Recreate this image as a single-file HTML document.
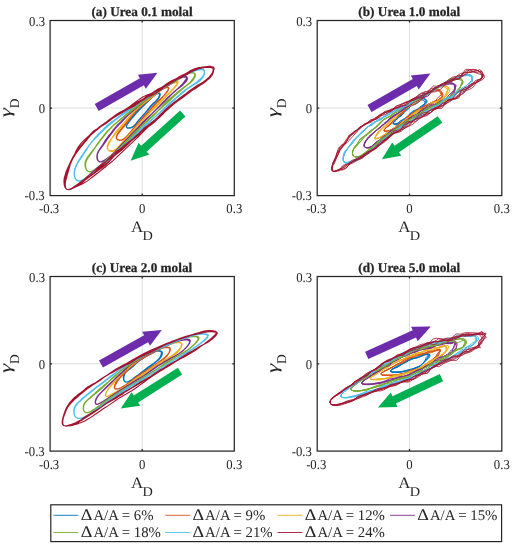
<!DOCTYPE html>
<html lang="en"><head><meta charset="utf-8"><title>Figure</title>
<style>html,body{margin:0;padding:0;background:#fff}svg{display:block}svg text{font-family:"Liberation Serif",serif;text-rendering:geometricPrecision}</style></head>
<body>
<svg width="513" height="550" viewBox="0 0 513 550" fill="#262626">
<rect width="513" height="550" fill="#fff"/>
<g stroke="#dcdcdc" stroke-width="1" fill="none"><line x1="142.20" y1="20.5" x2="142.20" y2="195.6"/><line x1="50.1" y1="108.05" x2="234.3" y2="108.05"/></g>
<g fill="none" stroke-width="1.3" stroke-linejoin="round">
<path stroke="#0072BD" d="M126.3,127.3l0-1.2 0.4-1.4 0.7-1.5 0.9-1.5 1-1.3 1-1.3 1-1.2 1.1-1.2 1-1.3 1.1-1.3 1.1-1.3 1.2-1.3 1.1-1.3 1.2-1.2 1.1-1.2 1.2-1.2 1.2-1.2 1.3-1.1 1.2-1.1 1.3-1.1 1.3-1.2 1.3-1.1 1.3-1.2 1.3-1.3 1.3-1.2 1.4-1.1 1.4-0.9 1.6-0.8 1.3-0.4 1,0.2 0.5,0.7 0,1.2 -0.5,1.5 -0.8,1.5 -1,1.5 -1.1,1.3 -1.2,1.2 -1.2,1.1 -1.2,1.1 -1.2,1.2 -1.1,1.2 -1.1,1.2 -1,1.3 -1.1,1.3 -1.1,1.2 -1.1,1.3 -1.1,1.3 -1.2,1.2 -1.2,1.2 -1.1,1.2 -1.1,1.3 -1.1,1.2 -1.1,1.3 -1,1.3 -1,1.4 -1.1,1.2 -1.4,1.1 -1.5,0.8 -1.7,0.5 -1.5,0.2 -1.2-0.2 -0.8-0.6 M126.3,127.3l0-1.1 0.6-1.3 1-1.6 1.1-1.5 1.2-1.5 1-1.3 1.1-1.3 1.1-1.1 1.1-1.3 1-1.2 1.1-1.2 1.2-1.2 1.1-1.3 1.1-1.2 1.2-1.2 1.1-1.1 1.2-1.1 1.1-1.1 1.1-1.1 1.2-1 1.1-1.1 1.1-1.1 1.2-1.2 1.2-1.2 1.2-1.2 1.3-1.1 1.4-1 1.5-0.8 1.4-0.5 0.9,0.1 0.5,0.6 -0.1,1.1 -0.5,1.4 -0.8,1.5 -1.1,1.4 -1.1,1.2 -1.2,1.2 -1.2,1.1 -1.2,1.1 -1.1,1.2 -1.1,1.2 -1.1,1.3 -1,1.2 -1,1.3 -0.9,1.3 -1.1,1.3 -1,1.3 -1.1,1.3 -1.1,1.3 -1.1,1.2 -1.1,1.3 -1.1,1.3 -1.1,1.3 -1,1.3 -1.1,1.4 -1.1,1.2 -1.4,1 -1.6,0.8 -1.7,0.4 -1.6,0.1 -1.2-0.2 -0.6-0.6 M126.3,127.3l0-1.1 0.6-1.4 0.8-1.5 1-1.5 1-1.4 1-1.4 1-1.3 1.1-1.2 1-1.3 1.1-1.3 1.2-1.4 1.1-1.3 1.2-1.3 1.1-1.3 1.2-1.2 1.2-1.2 1.1-1.1 1.2-1.1 1.2-1.1 1.2-1.1 1.3-1 1.3-1.1 1.3-1.1 1.3-1.2 1.3-1.2 1.3-1.1 1.5-0.9 1.4-0.8 1.3-0.4 1,0.1 0.3,0.7 -0.1,1.2 -0.5,1.4 -0.8,1.6 -1,1.4 -1.1,1.3 -1.2,1.1 -1.3,1.1 -1.1,1.1 -1.2,1.2 -1.1,1.2 -1,1.2 -1.1,1.3 -1,1.3 -1.1,1.2 -1,1.3 -1.1,1.2 -1.1,1.2 -1,1.3 -1.1,1.2 -1.1,1.3 -1,1.3 -1,1.3 -1,1.4 -1,1.3 -1.2,1.3 -1.3,1 -1.6,0.8 -1.8,0.5 -1.6,0.2 -1.3-0.2 -0.8-0.5"/>
<path stroke="#D95319" d="M116.8,139l-0.5-1.2 0.2-1.6 0.8-1.8 1.2-1.8 1.3-1.9 1.4-1.8 1.3-1.7 1.3-1.6 1.4-1.6 1.3-1.6 1.4-1.7 1.3-1.6 1.4-1.7 1.3-1.7 1.4-1.7 1.5-1.6 1.4-1.6 1.5-1.5 1.6-1.4 1.5-1.4 1.6-1.3 1.6-1.4 1.6-1.3 1.7-1.3 1.6-1.4 1.7-1.3 1.6-1.4 1.6-1.4 1.7-1.4 1.6-1.4 1.7-1.4 1.8-1.2 1.9-1.1 2-1 1.9-0.6 1.5-0.1 0.8,0.4 0,1.1 -0.8,1.6 -1.2,1.8 -1.6,1.9 -1.6,1.7 -1.6,1.6 -1.5,1.3 -1.4,1.3 -1.3,1.2 -1.3,1.3 -1.3,1.4 -1.3,1.4 -1.4,1.5 -1.4,1.6 -1.5,1.7 -1.5,1.7 -1.4,1.6 -1.5,1.7 -1.4,1.6 -1.4,1.5 -1.4,1.6 -1.3,1.5 -1.4,1.5 -1.4,1.5 -1.3,1.6 -1.4,1.6 -1.4,1.6 -1.3,1.6 -1.4,1.7 -1.4,1.7 -1.5,1.7 -1.7,1.6 -1.8,1.5 -1.8,0.9 -2,0.3 -1.8-0.4 -1.2-0.9 M116.8,139l-0.5-1.4 0.3-1.7 0.8-1.9 1.3-2 1.5-1.9 1.4-1.8 1.4-1.7 1.4-1.6 1.2-1.6 1.2-1.5 1.2-1.5 1.2-1.6 1.2-1.5 1.4-1.5 1.3-1.6 1.5-1.5 1.5-1.6 1.5-1.5 1.5-1.6 1.6-1.5 1.6-1.5 1.6-1.5 1.6-1.4 1.8-1.4 1.7-1.4 1.8-1.4 1.8-1.4 1.7-1.4 1.6-1.4 1.6-1.3 1.6-1.3 1.7-1.2 1.8-1.1 1.9-0.9 1.8-0.6 1.5-0.2 0.8,0.4 0,1 -0.6,1.4 -1,1.8 -1.4,1.9 -1.6,1.8 -1.5,1.7 -1.5,1.6 -1.5,1.5 -1.5,1.4 -1.5,1.5 -1.4,1.5 -1.4,1.6 -1.4,1.5 -1.4,1.6 -1.5,1.6 -1.4,1.6 -1.5,1.5 -1.5,1.5 -1.4,1.5 -1.4,1.5 -1.4,1.5 -1.4,1.5 -1.4,1.6 -1.4,1.7 -1.4,1.6 -1.4,1.7 -1.4,1.7 -1.4,1.7 -1.4,1.8 -1.4,1.7 -1.5,1.6 -1.5,1.4 -1.7,1.3 -1.7,0.8 -2,0.2 -1.8-0.4 -1.2-0.9 M116.8,139l-0.3-1.3 0.4-1.7 1-1.8 1.3-1.8 1.4-1.8 1.3-1.7 1.4-1.6 1.2-1.5 1.3-1.6 1.3-1.6 1.3-1.7 1.2-1.8 1.3-1.7 1.4-1.7 1.3-1.8 1.4-1.7 1.5-1.6 1.5-1.6 1.5-1.6 1.6-1.4 1.5-1.4 1.6-1.4 1.5-1.4 1.6-1.3 1.6-1.4 1.6-1.3 1.6-1.4 1.7-1.3 1.6-1.2 1.6-1.3 1.7-1.3 1.8-1.1 2-1.1 2-0.9 1.9-0.6 1.6-0.2 0.8,0.4 0,1 -0.7,1.5 -1.2,1.7 -1.5,1.8 -1.6,1.8 -1.5,1.6 -1.5,1.5 -1.5,1.4 -1.4,1.3 -1.3,1.4 -1.4,1.4 -1.3,1.5 -1.3,1.6 -1.3,1.6 -1.4,1.6 -1.4,1.7 -1.4,1.6 -1.5,1.7 -1.5,1.5 -1.5,1.5 -1.5,1.5 -1.5,1.5 -1.4,1.6 -1.4,1.5 -1.4,1.5 -1.3,1.6 -1.4,1.5 -1.3,1.6 -1.3,1.6 -1.4,1.6 -1.5,1.7 -1.6,1.6 -1.8,1.4 -1.9,1.1 -2,0.4 -1.9-0.3 -1.2-0.9"/>
<path stroke="#EDB120" d="M108.1,149.8l-0.8-1.5 0-1.8 0.7-2.1 1.2-2.2 1.5-2.3 1.6-2.2 1.6-2.2 1.6-2 1.6-2 1.5-1.9 1.6-1.9 1.5-2 1.5-1.8 1.5-1.8 1.4-1.8 1.5-1.7 1.5-1.7 1.6-1.7 1.6-1.7 1.7-1.8 1.7-1.7 1.8-1.6 1.8-1.6 1.9-1.6 2-1.7 2-1.6 2-1.7 1.9-1.5 2-1.5 1.9-1.4 1.8-1.4 1.9-1.4 1.8-1.4 1.9-1.4 1.9-1.4 2-1.4 2-1.3 2.3-1.2 2.4-1.1 2.3-0.8 2-0.5 1.5-0.1 0.6,0.4 -0.2,1 -1,1.4 -1.5,1.7 -1.7,2 -1.9,2 -1.8,2 -1.7,1.8 -1.6,1.7 -1.6,1.7 -1.5,1.6 -1.5,1.6 -1.6,1.7 -1.5,1.6 -1.7,1.6 -1.7,1.6 -1.8,1.6 -1.9,1.7 -1.9,1.8 -1.8,1.9 -1.8,1.9 -1.6,1.9 -1.7,1.8 -1.5,1.8 -1.6,1.8 -1.6,1.8 -1.6,1.7 -1.6,1.8 -1.7,1.7 -1.7,1.8 -1.7,1.8 -1.7,1.8 -1.7,1.8 -1.7,1.9 -1.6,1.9 -1.6,1.9 -1.6,2 -1.6,2 -1.7,1.8 -2,1.3 -2.2,0.4 -2.3-0.4 -1.6-1.2 M108.1,149.8l-0.7-1.4 0.2-1.8 0.9-2.2 1.3-2.4 1.3-2.6 1.4-2.4 1.4-2.2 1.3-2 1.5-1.8 1.4-1.7 1.5-1.7 1.5-1.6 1.5-1.6 1.6-1.7 1.6-1.8 1.7-1.8 1.6-1.9 1.7-1.9 1.7-1.9 1.7-1.8 1.7-1.8 1.7-1.7 1.8-1.6 1.8-1.5 1.9-1.6 1.9-1.5 2-1.5 2-1.5 2-1.4 2-1.4 2-1.3 1.9-1.4 1.8-1.4 1.9-1.5 2-1.4 2-1.5 2.2-1.4 2.4-1.3 2.5-1.3 2.3-1.1 2-0.7 1.3-0.3 0.7,0.3 -0.3,1 -0.9,1.6 -1.5,1.9 -1.8,2.1 -2,2.1 -2,2 -2,1.9 -1.9,1.7 -1.8,1.8 -1.8,1.7 -1.7,1.7 -1.8,1.7 -1.7,1.6 -1.6,1.7 -1.6,1.7 -1.5,1.7 -1.5,1.8 -1.5,1.8 -1.6,1.8 -1.6,1.8 -1.7,1.8 -1.6,1.7 -1.7,1.7 -1.7,1.8 -1.6,1.8 -1.7,1.8 -1.8,1.9 -1.6,1.9 -1.7,1.8 -1.6,1.8 -1.6,1.8 -1.5,1.6 -1.5,1.7 -1.6,1.7 -1.6,1.8 -1.7,1.9 -1.7,1.9 -1.8,1.8 -2,1.4 -2.2,0.6 -2.3-0.3 -1.6-1 M108.1,149.8l-0.8-1.6 0.1-2.1 0.8-2.4 1.3-2.4 1.6-2.2 1.6-2.1 1.6-2 1.5-1.8 1.5-1.8 1.5-1.7 1.5-1.8 1.5-1.8 1.5-1.9 1.6-1.8 1.6-1.9 1.5-1.9 1.6-2 1.5-1.9 1.5-1.9 1.6-1.7 1.6-1.7 1.8-1.6 1.8-1.6 1.9-1.5 2-1.4 2-1.4 2-1.4 2-1.4 1.9-1.5 1.9-1.4 1.9-1.5 1.8-1.5 1.8-1.5 1.9-1.5 1.9-1.4 2.1-1.4 2.2-1.4 2.3-1.3 2.4-1.2 2.4-1 2-0.6 1.5-0.2 0.7,0.4 -0.2,1.1 -0.9,1.6 -1.5,2 -1.9,2 -2,2.2 -1.9,2 -1.8,1.9 -1.8,1.8 -1.8,1.6 -1.7,1.6 -1.8,1.5 -1.8,1.6 -1.7,1.5 -1.7,1.5 -1.6,1.7 -1.6,1.7 -1.6,1.7 -1.5,1.8 -1.6,1.8 -1.6,1.9 -1.6,1.8 -1.6,1.8 -1.6,1.8 -1.7,1.8 -1.6,1.7 -1.7,1.8 -1.6,1.8 -1.6,1.8 -1.7,1.8 -1.6,1.8 -1.7,1.8 -1.6,1.9 -1.6,1.9 -1.7,1.9 -1.6,1.9 -1.7,1.8 -1.7,1.8 -1.9,1.6 -2,1.3 -2.2,0.5 -2.3-0.2 -1.6-0.9"/>
<path stroke="#7E2F8E" d="M98.4,161.1l-1.1-1.6 -0.4-2.3 0.2-2.6 0.8-2.4 1.4-2.4 1.7-2.3 1.8-2.3 1.7-2.3 1.6-2.3 1.7-2.2 1.6-2.1 1.6-2.2 1.6-2.1 1.6-2.1 1.6-2.1 1.7-2 1.7-2 1.7-2 1.8-1.9 1.9-1.8 2-1.8 1.9-1.8 2-1.7 2-1.8 1.9-1.8 2-1.8 2.1-1.7 2-1.8 2.1-1.6 2.1-1.5 2.1-1.5 2.2-1.4 2.2-1.4 2.2-1.5 2.2-1.5 2.2-1.6 2.2-1.4 2.2-1.4 2.2-1.4 2.2-1.3 2.2-1.3 2.3-1.4 2.4-1.5 2.6-1.5 2.6-1.6 2.6-1.3 2.4-0.8 2-0.1 1.4,0.5 0.3,1.3 -0.7,1.8 -1.6,2 -2,2 -2.2,1.9 -2.3,1.7 -2.1,1.7 -1.9,1.7 -1.9,1.8 -1.8,1.8 -1.8,1.9 -1.9,1.9 -1.9,1.9 -1.9,1.9 -1.9,1.8 -1.9,1.9 -2,1.8 -1.9,1.9 -1.9,1.8 -1.9,1.8 -2,1.7 -1.9,1.8 -1.9,1.8 -1.9,1.9 -1.9,1.9 -1.7,2 -1.8,2 -1.9,2 -1.8,2.1 -1.8,2 -1.9,2.1 -1.8,1.9 -1.8,2 -1.9,1.8 -1.9,1.9 -1.8,1.8 -1.9,1.9 -1.8,2 -1.8,1.9 -1.9,1.9 -2,1.9 -2.1,1.8 -2.4,1.8 -2.4,1.7 -2.2,1.3 -2.1,1 -1.8,0.2 -1.4-0.7 M98.4,161.1l-0.9-1.7 -0.3-2.4 0.2-2.7 0.9-2.5 1.3-2.4 1.5-2.3 1.6-2.3 1.4-2.3 1.4-2.3 1.5-2.1 1.6-2.1 1.5-1.9 1.7-1.9 1.7-1.9 1.8-1.9 1.8-1.9 1.9-1.9 1.8-1.9 1.9-1.9 1.8-2 2-1.9 1.9-2 2-1.9 2.1-1.8 2-1.8 2.1-1.6 2.1-1.7 2.1-1.8 2.1-1.8 2-1.7 2.2-1.8 2.2-1.7 2.2-1.6 2.2-1.5 2.2-1.5 2.1-1.5 2.2-1.4 2.1-1.3 2.2-1.3 2.1-1.3 2.1-1.3 2.2-1.3 2.3-1.5 2.4-1.5 2.5-1.4 2.5-1.3 2.5-0.7 2.1-0.1 1.4,0.5 0.4,1.4 -0.6,1.8 -1.3,2 -1.8,1.9 -2.1,1.8 -2.2,1.7 -2.2,1.7 -2,1.7 -2,1.8 -1.9,1.9 -1.9,1.9 -1.8,2 -1.8,1.9 -1.9,1.9 -1.9,1.9 -2,1.9 -2,1.8 -1.9,1.8 -1.9,1.8 -1.8,1.8 -1.9,1.8 -2,1.9 -2.1,1.9 -2,1.9 -2,2 -1.9,1.9 -1.8,2 -1.8,1.9 -1.8,1.9 -1.8,1.9 -1.9,2 -1.8,2 -1.9,1.9 -1.9,1.9 -1.8,1.8 -1.7,1.9 -1.7,1.9 -1.6,1.9 -1.7,2 -1.7,1.9 -1.9,1.8 -2,1.9 -2.3,1.8 -2.4,1.7 -2.4,1.6 -2.3,0.9 -2,0.2 -1.5-0.8 M98.4,161.1l-1-1.8 -0.3-2.4 0.3-2.7 1-2.5 1.4-2.2 1.7-2.1 1.7-2.2 1.5-2.2 1.6-2.4 1.4-2.3 1.5-2.3 1.4-2.2 1.5-2.1 1.5-2 1.6-2 1.6-1.9 1.8-1.8 1.9-1.8 2-1.9 2-1.8 2-1.9 2.1-1.8 1.9-1.8 2-1.8 1.9-1.7 1.9-1.7 2.1-1.7 2-1.7 2.1-1.8 2.2-1.7 2.1-1.7 2.2-1.6 2.3-1.5 2.2-1.5 2.2-1.5 2.1-1.4 2-1.4 2-1.4 2.1-1.3 2.2-1.4 2.3-1.5 2.5-1.4 2.5-1.6 2.6-1.6 2.6-1.6 2.5-1.3 2.4-0.8 1.9-0.2 1.2,0.5 0.2,1.2 -0.8,1.6 -1.5,2 -1.7,2.1 -2,2 -2,2 -2,2 -2,1.8 -2.1,1.8 -2,1.8 -2,1.7 -2,1.8 -1.8,1.9 -1.9,1.9 -1.8,1.9 -1.9,2 -1.9,1.9 -1.8,1.9 -1.8,1.8 -1.8,1.9 -1.9,1.9 -1.8,1.9 -1.9,1.9 -1.8,1.9 -1.8,1.9 -1.8,2 -1.8,2 -2,2 -2,2 -2,2 -2,2 -2,1.9 -1.8,1.8 -1.9,1.8 -1.8,1.8 -1.8,1.7 -1.7,1.8 -1.7,1.9 -1.7,1.9 -1.8,1.9 -1.9,1.8 -2,1.9 -2.3,1.9 -2.3,1.8 -2.3,1.7 -2.2,1 -2,0.1 -1.6-0.8"/>
<path stroke="#77AC30" d="M87.9,171.3l-1.3-1.4 -0.9-2.2 -0.2-2.7 0.3-2.7 1.1-2.7 1.5-2.4 1.7-2.4 1.7-2.4 1.7-2.4 1.6-2.4 1.7-2.4 1.6-2.4 1.6-2.3 1.7-2.4 1.8-2.3 1.8-2.2 1.9-2.1 1.8-2 2-1.9 2-1.8 2-1.8 2.1-1.8 2.1-1.8 2.1-1.7 2-1.8 2.2-1.8 2.2-1.8 2.3-1.9 2.3-1.9 2.4-1.9 2.4-1.8 2.3-1.8 2.3-1.7 2.3-1.7 2.3-1.7 2.4-1.8 2.3-1.7 2.3-1.7 2.3-1.6 2.3-1.5 2.4-1.3 2.4-1.4 2.4-1.3 2.5-1.4 2.5-1.4 2.5-1.5 2.4-1.5 2.4-1.6 2.5-1.5 2.7-1.5 2.7-1.5 2.8-1.2 2.6-0.7 2.1,0 1.5,0.6 0.5,1.3 -0.5,1.8 -1.2,2.2 -1.7,2.3 -2,2.1 -2.1,1.9 -2.2,1.8 -2.2,1.8 -2.1,1.8 -2.2,1.8 -2.1,1.9 -2.1,2 -2.1,2 -2.2,2.1 -2.2,2 -2.2,2 -2.2,1.9 -2.3,1.9 -2.2,1.9 -2.3,2 -2.2,1.9 -2.1,1.9 -2.1,1.8 -1.9,1.8 -1.9,1.8 -1.8,1.9 -1.8,1.9 -1.8,2.1 -1.9,2.2 -2,2.3 -2,2.2 -2.1,2.2 -2.1,2 -2,1.9 -2.2,1.9 -2.1,1.9 -2.2,1.9 -2.1,1.9 -2.2,1.9 -2,1.9 -2,1.8 -2,1.8 -2,1.8 -2,1.9 -2.1,1.8 -2.3,1.9 -2.4,2.1 -2.5,2.1 -2.5,2 -2.3,1.7 -2.3,1.2 -2,0.4 -1.9-0.4 M87.9,171.3l-1.4-1.4 -1-2.2 -0.3-2.7 0.4-2.9 1.1-2.8 1.6-2.5 1.7-2.4 1.7-2.3 1.7-2.3 1.6-2.3 1.6-2.4 1.7-2.5 1.8-2.5 1.8-2.3 1.9-2.2 1.8-2.2 1.8-2 1.9-2 1.9-2 2.1-1.9 2.2-1.8 2.3-1.9 2.2-1.8 2.2-1.8 2.1-1.8 2.1-1.7 2.1-1.7 2.1-1.6 2.3-1.7 2.3-1.6 2.3-1.7 2.3-1.8 2.3-1.7 2.3-1.8 2.3-1.8 2.4-1.7 2.4-1.7 2.3-1.6 2.4-1.6 2.3-1.6 2.3-1.5 2.3-1.5 2.3-1.4 2.4-1.4 2.4-1.4 2.4-1.4 2.5-1.4 2.6-1.5 2.5-1.6 2.7-1.6 2.6-1.6 2.6-1.3 2.5-0.8 2.2,0 1.7,0.6 0.8,1.3 -0.2,1.9 -1.1,2.2 -1.9,2.3 -2.3,2.2 -2.6,1.9 -2.7,1.8 -2.5,1.8 -2.4,1.8 -2.2,1.8 -2.2,1.9 -2.1,1.8 -2.1,1.7 -2,1.7 -1.9,1.7 -1.8,1.9 -1.9,2 -1.9,2.1 -2,2 -2,2 -2.1,2 -2,2 -2.1,2 -2.1,2.1 -2.3,2.1 -2.2,2 -2.2,1.9 -2.1,1.9 -1.9,1.8 -2,1.9 -1.9,2 -2,2 -2,2.1 -2.1,2.1 -2,2 -2,2 -2,2 -1.9,2 -1.9,2.1 -1.9,2.1 -1.9,2 -2.1,1.9 -2.1,1.8 -2.3,1.8 -2.2,1.8 -2.3,1.8 -2.3,2.1 -2.4,2.2 -2.5,2 -2.5,1.7 -2.3,1.1 -2.1,0.4 -1.9-0.5 M87.9,171.3l-1.5-1.5 -1-2.3 -0.4-2.8 0.3-2.9 1.1-2.6 1.6-2.5 1.8-2.4 1.8-2.4 1.8-2.3 1.8-2.3 1.8-2.3 1.7-2.3 1.7-2.3 1.7-2.1 1.7-2.2 1.7-2.1 1.8-2.1 1.9-2.1 1.9-2.1 2-2 2.1-1.9 2-1.8 2.1-1.7 2.1-1.8 2.1-1.8 2.1-1.8 2.2-2 2.2-1.9 2.3-1.9 2.3-1.9 2.3-1.8 2.5-1.7 2.4-1.7 2.5-1.6 2.4-1.6 2.4-1.6 2.3-1.5 2.2-1.5 2.2-1.4 2.2-1.4 2.3-1.5 2.3-1.5 2.3-1.5 2.4-1.5 2.4-1.5 2.4-1.5 2.5-1.5 2.6-1.5 2.7-1.6 2.7-1.6 2.7-1.5 2.7-1.2 2.5-0.7 2.2-0.1 1.6,0.6 0.6,1.3 -0.4,1.8 -1.1,2.2 -1.7,2.2 -2.1,2.1 -2.4,1.9 -2.4,1.9 -2.4,1.9 -2.2,1.9 -2,1.8 -1.9,1.9 -2,1.9 -2.1,1.9 -2.1,1.8 -2.2,1.8 -2.1,1.9 -2.1,1.9 -2.1,2 -2.1,2 -2.1,2.2 -2.1,2.1 -2.1,2 -2,2 -2.1,1.9 -2.1,2 -2.2,2 -2.2,2 -2.2,2 -2.1,2 -2,2 -2,2 -2,1.9 -1.9,1.9 -2,1.9 -2,1.9 -2.1,2 -2,2 -2,2 -1.9,2.1 -1.8,2.2 -1.8,2.1 -1.8,2 -1.9,2 -2.1,2 -2.2,1.8 -2.3,1.7 -2.4,1.7 -2.5,1.7 -2.6,1.8 -2.5,1.7 -2.5,1.3 -2.2,0.5 -1.9-0.5"/>
<path stroke="#4DBEEE" d="M77.8,181l-1.8-1.3 -1.2-2.1 -0.5-2.8 0.2-3.2 0.7-3.1 1.1-2.8 1.3-2.6 1.6-2.5 1.7-2.5 1.7-2.5 1.6-2.5 1.6-2.6 1.7-2.5 1.7-2.5 1.8-2.6 2-2.5 2-2.4 2.1-2.3 2-2.2 2.2-2 2.2-1.9 2.4-1.9 2.4-1.9 2.3-1.9 2.2-1.8 2.2-1.8 2.3-1.8 2.2-1.9 2.4-1.9 2.5-1.9 2.6-1.8 2.7-1.7 2.7-1.7 2.6-1.7 2.5-1.7 2.6-1.7 2.4-1.6 2.6-1.7 2.5-1.7 2.5-1.8 2.5-1.8 2.4-1.8 2.4-1.6 2.5-1.5 2.6-1.4 2.6-1.3 2.7-1.5 2.7-1.5 2.5-1.6 2.6-1.5 2.5-1.4 2.6-1.5 2.7-1.5 2.8-1.6 3.1-1.7 3.2-1.5 3.2-1.2 3-0.7 2.5-0.2 1.9,0.3 1.1,1.1 0.3,1.7 -0.5,2.2 -1.3,2.3 -1.8,2.1 -2.3,2 -2.5,2 -2.7,1.9 -2.8,1.8 -2.7,1.9 -2.6,1.8 -2.4,1.9 -2.1,1.9 -2.1,2 -2,2 -2.1,2 -2.2,2 -2.3,2 -2.3,2 -2.3,2 -2.3,2 -2.3,2 -2.2,2 -2.3,2 -2.3,1.9 -2.4,1.8 -2.4,1.9 -2.4,2 -2.2,2 -2.1,2.1 -1.9,2.2 -2,2.1 -2.1,2.2 -2.1,2.3 -2.2,2.2 -2.3,2.2 -2.3,2.2 -2.2,2.1 -2.2,2.1 -2.1,2.1 -2.2,2 -2.2,2 -2.2,1.9 -2.2,1.9 -2.4,1.9 -2.3,1.9 -2.4,2 -2.4,1.9 -2.6,2 -2.5,1.8 -2.6,1.9 -2.4,2 -2.4,2 -2.4,2 -2.4,1.9 -2.7,1.7 -2.7,1 -2.4,0 M77.8,181l-1.8-1.4 -1.1-2.2 -0.6-2.8 0.1-3.1 0.6-3 1.2-2.8 1.5-2.8 1.7-2.6 1.7-2.5 1.6-2.5 1.7-2.5 1.6-2.5 1.7-2.6 1.7-2.5 1.8-2.5 1.9-2.3 1.9-2.2 1.9-2.2 2-2 2-2.2 2.1-2.1 2.1-2.2 2.2-2 2.4-1.9 2.4-1.8 2.4-1.8 2.4-1.8 2.4-1.9 2.5-1.9 2.5-1.8 2.6-1.7 2.6-1.7 2.7-1.7 2.5-1.8 2.6-1.8 2.6-1.9 2.6-1.7 2.6-1.7 2.6-1.6 2.5-1.5 2.4-1.6 2.4-1.5 2.5-1.6 2.4-1.6 2.5-1.6 2.4-1.6 2.5-1.7 2.6-1.5 2.5-1.5 2.5-1.4 2.6-1.3 2.7-1.3 2.9-1.3 3-1.5 3.2-1.6 3.2-1.5 3.1-1.2 2.9-0.7 2.5-0.2 1.9,0.4 1.2,1 0.3,1.7 -0.4,2.2 -1.2,2.3 -1.9,2.2 -2.4,2 -2.6,1.9 -2.7,1.7 -2.6,1.6 -2.6,1.7 -2.6,1.8 -2.4,1.9 -2.3,2 -2.3,2 -2.3,2.1 -2.2,2 -2.3,2.1 -2.2,1.9 -2.3,2.1 -2.2,2 -2.3,2.1 -2.2,2 -2.2,2.1 -2.2,2 -2.2,2 -2.1,2 -2.2,1.9 -2.2,2 -2.1,2 -2.2,2.1 -2.1,2 -2.1,2 -2.2,2 -2.2,2 -2.3,2.1 -2.4,2 -2.3,2 -2.3,2.1 -2.4,2.1 -2.3,2.1 -2.2,2.1 -2.1,2 -2.1,2 -2.2,1.9 -2.3,1.9 -2.3,1.8 -2.4,1.9 -2.4,1.8 -2.5,1.9 -2.6,2 -2.5,2.1 -2.4,2.2 -2.3,2.2 -2.3,2.2 -2.2,2 -2.6,1.5 -2.7,1 -2.5,0 M77.8,181l-1.7-1.3 -1.2-2.2 -0.6-2.9 0-3.1 0.6-2.8 1.1-2.8 1.4-2.8 1.6-2.7 1.6-2.7 1.8-2.6 1.7-2.6 1.8-2.6 1.8-2.5 1.8-2.5 1.9-2.3 1.9-2.3 2-2.1 2-2 2.1-2.1 2.1-2 2.2-2.1 2.2-2.1 2.3-2.1 2.2-1.9 2.3-1.8 2.3-1.8 2.4-1.9 2.6-1.9 2.7-1.9 2.6-1.7 2.5-1.7 2.3-1.8 2.2-1.7 2.3-1.8 2.3-1.7 2.4-1.8 2.5-1.7 2.7-1.6 2.8-1.5 2.8-1.7 2.7-1.7 2.5-1.7 2.4-1.7 2.3-1.7 2.3-1.6 2.4-1.6 2.6-1.6 2.5-1.5 2.6-1.4 2.7-1.3 2.6-1.3 2.8-1.4 2.8-1.5 2.9-1.5 3.1-1.4 3.1-1.3 3.1-1.1 2.9-0.7 2.4-0.4 2,0.2 1.3,0.8 0.5,1.6 -0.3,2.2 -1.2,2.6 -1.8,2.4 -2.4,2.2 -2.7,1.9 -2.8,1.6 -2.7,1.6 -2.5,1.7 -2.3,1.7 -2.1,1.9 -2.2,1.8 -2.2,1.8 -2.4,1.8 -2.4,1.8 -2.4,1.9 -2.4,2.1 -2.4,2.2 -2.4,2.2 -2.3,2.3 -2.3,2.2 -2.3,2.1 -2.2,2.1 -2.3,1.9 -2.3,2 -2.3,1.9 -2.2,1.9 -2.2,1.9 -2.2,1.9 -2.3,2.1 -2.3,2.2 -2.2,2.2 -2.2,2.3 -2.1,2.3 -2.1,2.2 -2.2,2.2 -2.2,2.1 -2.2,2 -2.1,1.9 -2.1,1.9 -2.2,1.9 -2.1,2 -2.3,2 -2.4,2 -2.5,1.9 -2.4,1.9 -2.4,2 -2.3,1.9 -2.2,1.9 -2.3,1.9 -2.4,1.9 -2.5,2 -2.5,2 -2.5,1.9 -2.6,1.6 -2.6,1 -2.4,0.1"/>
<path stroke="#A2142F" stroke-width="1.1" d="M66.7,189.4l-1.4-1.9 -0.6-2.9 0-3 0.4-2.7 0.7-3 0.8-3.1 0.9-3.1 1-3.2 1.3-3 1.5-3 1.7-2.9 1.8-2.6 1.8-2.6 2-2.6 1.9-2.5 2-2.2 1.8-2.1 1.8-2.2 1.9-2.3 2.1-2.6 2.2-2.5 2.3-2.3 2.2-2 2.2-1.8 2.3-1.8 2.6-1.8 2.8-2 2.9-2.2 2.8-2.1 2.6-1.9 2.5-1.7 2.5-1.6 2.7-1.3 2.8-1.3 2.8-1.2 2.7-1.3 2.6-1.4 2.5-1.6 2.6-1.9 2.7-1.9 2.7-1.6 2.7-1.4 2.7-1.1 2.6-1.2 2.8-1.3 2.7-1.7 2.7-1.9 2.4-2.1 2.4-2.1 2.4-1.9 2.6-1.6 2.5-1.3 2.6-1.1 2.6-1.1 2.8-1.2 3-1.5 3.1-1.7 3.1-1.8 3.2-1.6 3.1-1.4 3-1.1 3.1-0.7 3.1-0.4 3.2-0.1 2.9,0.1 1.9,0.7 0.4,1.4 -0.6,2 -1.3,2.4 -1.5,2.5 -1.9,2.3 -2.2,2.2 -2.5,2 -2.8,1.7 -2.9,1.7 -2.9,1.8 -2.7,1.9 -2.7,2.1 -2.7,2 -2.6,2.1 -2.7,2 -2.5,1.8 -2.5,1.8 -2.2,1.6 -1.9,1.7 -2,1.7 -2.1,2 -2.4,2 -2.6,2.1 -2.5,2.1 -2.5,1.9 -2.3,1.8 -2.1,2 -2.2,2.1 -2.3,2.2 -2.5,2.2 -2.6,2.1 -2.7,2.2 -2.6,2 -2.5,2 -2.3,1.8 -2.2,1.9 -2.1,2 -2.3,2.1 -2.3,2 -2.6,1.9 -2.5,1.6 -2.6,1.6 -2.4,1.7 -2.4,2.1 -2.3,2.4 -2.4,2.5 -2.5,2.3 -2.4,2.1 -2.2,1.9 -2,1.9 -1.8,1.8 -1.8,2 -2.1,2.1 -2.3,2.1 -2.7,2.2 -3,2.1 -2.9,2 -2.8,2 -2.6,1.9 -2.6,1.7 -2.9,1.6 -2.7,0.9 -2.3-0.4 M66.7,189.4l-1.3-1.9 -0.5-3.1 -0.1-3.8 0.2-3.8 0.5-3.1 0.9-2.8 1.2-2.7 1.3-2.8 1.3-2.9 1.5-3.1 1.6-3.1 1.8-2.8 1.7-2.6 1.7-2.2 1.6-2.1 1.7-2 1.9-2.1 2-2.3 1.9-2.4 1.8-2.3 1.8-2.2 2-2 2.5-1.7 2.9-1.7 3.1-1.8 3-1.8 2.8-2 2.6-2 2.5-2.1 2.4-1.9 2.4-1.8 2.3-1.7 2.5-1.6 2.7-1.6 2.8-1.7 2.7-1.9 2.6-2 2.6-2 2.6-1.9 2.4-1.6 2.2-1.5 2.1-1.1 2.2-1 2.6-1 2.9-1 3.1-1.3 3.2-1.6 3.1-1.7 2.9-1.8 2.8-1.7 2.7-1.6 2.6-1.4 2.4-1.4 2.3-1.5 2.6-1.6 2.7-1.9 2.9-1.9 3-1.9 2.9-1.6 3-1.3 3.1-0.9 3.2-0.5 3.3-0.5 3.1-0.3 3-0.1 2.1,0.7 0.7,1.7 -0.3,2.3 -1.1,2.6 -1.5,2.3 -1.9,2.1 -2.3,2.2 -2.7,2.1 -3,2 -3,1.7 -3,1.7 -2.8,1.7 -2.4,1.8 -2.4,1.9 -2.3,1.9 -2.3,1.8 -2.5,1.7 -2.5,1.6 -2.6,1.8 -2.4,1.9 -2.4,1.9 -2.4,2.1 -2.5,2.1 -2.5,2.4 -2.6,2.5 -2.4,2.4 -2.2,2.1 -2.2,1.8 -2.3,1.8 -2.4,2 -2.4,2.2 -2.4,2.3 -2.2,2.3 -2.2,2.3 -2.3,2.2 -2.4,2 -2.5,1.9 -2.6,2 -2.4,2 -2.2,2.2 -2.1,2 -2,2 -2.1,1.8 -2.2,1.9 -2.2,2 -2.3,2.2 -2.3,2.3 -2.5,2.2 -2.5,2 -2.4,1.8 -2.4,1.9 -2.2,1.8 -2.2,1.9 -2.3,1.8 -2.5,1.7 -2.6,1.5 -2.7,1.6 -2.5,1.7 -2.5,1.8 -2.6,1.9 -2.9,2.1 -3,1.9 -2.8,1.3 -2.3-0.1 M66.7,189.4l-1.6-1.7 -0.9-2.9 -0.3-3.3 0.3-3.3 1-3.2 1.4-3.2 1.5-3 1.4-3 1.4-2.9 1.3-2.9 1.2-3 1.2-2.9 1.3-2.9 1.5-2.8 1.7-2.5 1.9-2.5 2.2-2.3 2.3-2.2 2.2-2.1 2.3-1.9 2.4-2 2.7-2.1 2.7-2.2 2.6-2.1 2.3-1.8 2-1.5 2.2-1.4 2.5-1.6 2.6-1.8 2.7-1.8 2.6-1.8 2.4-1.7 2.6-1.6 2.8-1.6 3.1-1.7 3.1-1.7 3-1.7 2.5-1.3 2.2-1.1 2.1-1.1 2.2-1.3 2.6-1.8 3-2.1 3.1-2.2 2.9-2.1 2.6-1.8 2.5-1.5 2.4-1.3 2.5-1.3 2.6-1.3 2.6-1.7 2.8-1.8 3-2 2.9-1.8 3-1.4 2.9-1.3 3-1.2 3-1.4 2.8-1.5 2.7-1.3 2.5-1.2 2.4-0.7 2.7-0.3 3,0 3.3,0.3 2.5,0.8 0.9,1.8 -0.6,2.3 -1.5,2.3 -1.8,2.2 -1.9,2 -2.1,2.1 -2.3,1.9 -2.4,2 -2.6,1.9 -2.9,1.9 -3.1,1.9 -3.1,1.7 -3,1.7 -2.7,1.7 -2.3,1.7 -2.2,1.6 -2.2,1.6 -2.2,1.6 -2.1,1.6 -2.1,1.7 -2.3,1.9 -2.4,2.1 -2.3,2.4 -2.1,2.4 -2.1,2.4 -2.1,2.2 -2.2,1.9 -2.5,1.8 -2.8,1.8 -2.8,1.9 -2.9,2.2 -2.5,2.5 -2.3,2.4 -2.1,2.1 -2.2,1.9 -2.2,1.8 -2.4,1.8 -2.5,2 -2.5,1.9 -2.3,1.9 -2.3,2 -2.1,2.2 -2,2.2 -2.2,2.1 -2.4,1.9 -2.6,1.9 -2.9,2 -2.8,2 -2.6,1.8 -2.4,1.9 -2.2,2 -2.4,2.1 -2.4,2.3 -2.6,2.2 -2.4,2 -2.2,2 -2.3,2 -2.4,2 -2.7,2 -2.6,1.9 -2.9,1.8 -2.6,0.9 -2.2-0.4 M66.7,189.4l-1.2-1.8 -0.5-2.8 0.1-3.1 0.6-3.1 0.6-3.1 0.8-3 0.8-3.1 1.2-3.2 1.5-3.2 1.6-3 1.5-2.9 1.5-2.5 1.5-2.4 1.5-2.4 1.6-2.3 1.8-2.4 2-2.4 2.1-2.4 2.2-2.3 2.4-2.4 2.5-2.3 2.6-2.3 2.6-2.2 2.6-2.1 2.6-1.9 2.4-1.7 2.3-1.7 2.4-1.6 2.5-1.7 2.6-1.8 2.6-1.7 2.5-1.7 2.3-1.7 2.5-1.7 2.6-1.7 2.9-1.7 2.9-1.8 3-1.7 2.8-1.6 2.8-1.5 2.6-1.5 2.6-1.6 2.4-1.7 2.4-1.8 2.3-1.7 2.5-1.6 2.7-1.4 2.9-1.1 2.7-1.2 2.6-1.4 2.4-1.6 2.4-1.8 2.7-2 3-1.9 3-1.6 2.9-1.4 2.9-1.4 2.9-1.4 2.8-1.3 2.7-0.9 2.7-0.8 2.8-0.7 2.9-0.6 3-0.6 3.2-0.1 2.5,0.8 1,2 -0.3,2.7 -1.1,2.7 -1.7,2.4 -2.2,2.1 -2.6,1.9 -2.9,1.7 -2.9,1.9 -2.7,1.9 -2.7,1.9 -2.6,1.9 -2.8,1.8 -2.7,1.8 -2.8,1.7 -2.7,1.8 -2.5,1.8 -2.4,1.8 -2.2,1.8 -2.2,1.9 -2,1.9 -1.9,1.9 -1.8,1.9 -2,2.1 -2.1,2.1 -2.2,2.3 -2.3,2.2 -2.2,2.2 -2.3,2.1 -2.6,1.9 -3,2 -3.1,2.1 -3.1,2.2 -2.8,2.2 -2.3,2.2 -1.9,2 -1.7,1.8 -1.9,1.8 -1.9,1.9 -2.1,2 -2.2,2.2 -2.3,2.1 -2.5,2 -2.6,1.9 -2.6,1.8 -2.6,1.7 -2.5,1.8 -2.5,1.9 -2.2,2 -2.2,2.2 -2,2.1 -2.2,2.2 -2.3,2 -2.5,2 -2.6,1.9 -2.3,1.9 -2.3,2 -2.3,2 -2.6,2.1 -2.8,1.9 -3.2,1.8 -3.2,1.7 -3,1 -2.4-0.3 M66.7,189.4l-1.1-1.7 -0.4-2.8 0.3-3.2 0.8-3.3 0.9-3.3 1-3.3 0.9-3.1 0.8-3.2 0.8-3.1 1.1-2.9 1.5-2.6 1.7-2.3 1.8-2.3 1.7-2.2 1.7-2.4 1.7-2.5 1.9-2.6 2-2.6 2-2.3 2.1-2.1 2.3-1.8 2.4-1.9 2.4-2 2.4-2.1 2.3-2.2 2.5-2 2.6-1.8 2.9-1.7 3-1.7 2.9-1.8 2.8-1.7 2.6-1.7 2.4-1.5 2.6-1.5 2.7-1.4 2.8-1.4 2.7-1.4 2.4-1.6 2.3-1.7 2.2-1.8 2.3-2 2.5-2 2.6-1.9 2.8-1.6 2.8-1.5 2.7-1.4 2.6-1.5 2.5-1.7 2.6-1.8 2.6-2 2.7-1.7 2.8-1.5 3-1.4 3-1.2 3-1.4 2.9-1.6 2.7-1.6 2.7-1.7 2.9-1.4 3.1-1.3 3.3-0.9 3.3-0.6 3.3-0.3 3.2-0.1 2.9,0 1.9,0.5 0.4,1.4 -0.7,2.1 -1.4,2.5 -1.8,2.4 -2,2.3 -2.4,2 -2.6,1.9 -2.9,1.7 -2.9,1.7 -2.8,1.9 -2.9,2 -2.9,2.1 -2.8,2.1 -2.8,2 -2.7,2 -2.5,2.1 -2.4,2 -2.1,1.9 -1.9,1.8 -2,1.8 -1.9,1.9 -1.9,1.9 -1.9,2.2 -2.1,2.2 -2.5,2.3 -2.6,2.2 -2.6,2.2 -2.6,2 -2.6,2 -2.7,2 -2.8,1.9 -2.7,2 -2.6,2.1 -2.4,2.1 -2.3,2.1 -2.2,2.1 -2.1,2.1 -2.1,1.9 -2.2,1.8 -2.3,1.8 -2.3,1.8 -2.2,2 -2.2,2.1 -2,2.4 -2,2.5 -2.1,2.4 -2.1,2.2 -2.1,1.8 -2.3,1.7 -2.4,1.8 -2.6,1.8 -2.6,2 -2.6,1.9 -2.5,1.9 -2.7,1.9 -2.7,1.7 -2.8,1.8 -2.9,1.8 -2.8,1.9 -2.4,1.9 -2.6,1.6 -2.6,1 -2.4-0.3 M71.6,188.1l3.5-0.8 3.1-1.5 3.1-1.4 3-1.6 2.9-1.7 2.6-2 2.7-2.1 2.6-2 2.7-2 2.6-2.1 2.6-2.1 2.6-2.1 2.6-2.1 2.6-2.1 2.5-2.1 2.5-2.2 2.3-2.3 2.4-2.3 2.4-2.2 2.3-2.3 2.4-2.2 2.4-2.3 2.4-2.3 2.3-2.2 2.4-2.3 2.4-2.3 2.3-2.4 2.4-2.3 2.3-2.3 2.4-2.3 2.4-2.3 2.4-2.3 2.4-2.3 2.4-2.3 2.4-2.3 2.4-2.3 2.5-2.2 2.5-2.2 2.5-2.1"/>
</g>
<g stroke="#262626" stroke-width="1.25" fill="none"><rect x="50.1" y="20.5" width="184.20" height="175.10"/><path d="M142.20,20.5 v2.0 M142.20,195.6 v-2.0 M50.1,108.05 h2.0 M234.3,108.05 h-2.0"/></g>
<polygon fill="#6C2CAC" points="98.7,111.0 143.8,85.2 145.8,88.7 157.5,72.8 137.9,74.8 139.9,78.2 94.7,104.0"/>
<polygon fill="#00B050" points="180.1,110.5 141.2,145.7 138.6,142.8 130.6,160.8 149.3,154.6 146.6,151.7 185.4,116.5"/>
<text transform="translate(142.00,15.50) scale(0.995,1)" font-size="13.3" text-anchor="middle" font-weight="bold" stroke="#262626" stroke-width="0.25">(a) Urea 0.1 molal</text>
<text transform="translate(45.00,26.10) scale(0.93,1)" font-size="13.7" text-anchor="end" font-weight="normal" >0.3</text>
<text transform="translate(45.00,113.45) scale(0.93,1)" font-size="13.7" text-anchor="end" font-weight="normal" >0</text>
<text transform="translate(44.70,200.40) scale(0.93,1)" font-size="13.7" text-anchor="end" font-weight="normal" >-0.3</text>
<text transform="translate(49.10,213.30) scale(0.93,1)" font-size="13.7" text-anchor="middle" font-weight="normal" >-0.3</text>
<text transform="translate(142.20,213.30) scale(0.93,1)" font-size="13.7" text-anchor="middle" font-weight="normal" >0</text>
<text transform="translate(234.30,213.30) scale(0.93,1)" font-size="13.7" text-anchor="middle" font-weight="normal" >0.3</text>
<text transform="translate(130.90,232.40) scale(1.06,1)" font-size="16">A<tspan font-size="13.5" dy="7.6" dx="-0.6">D</tspan></text>
<text transform="translate(10.50,117.15) rotate(-90)" font-size="16.5"><tspan font-style="italic" textLength="9.3" lengthAdjust="spacingAndGlyphs">γ</tspan><tspan font-size="13.5" dy="8.3" dx="-0.3">D</tspan></text>
<g stroke="#dcdcdc" stroke-width="1" fill="none"><line x1="409.50" y1="20.5" x2="409.50" y2="195.6"/><line x1="317.2" y1="108.05" x2="501.8" y2="108.05"/></g>
<g fill="none" stroke-width="1.0" stroke-linejoin="round">
<path stroke="#0072BD" d="M393.2,123.4l0.2-0.6 0.8-0.7 1-0.9 1.1-1.1 1.1-1.4 1.2-1.4 1.2-1.2 1.1-0.9 1-0.9 1-1 0.8-1 0.8-1 1-1 1.1-0.9 1.3-0.8 1.2-1 1.2-1 1.2-0.9 1.3-0.5 1.3-0.5 1.5-0.7 1.6-1.2 1.5-1.4 1.4-1.3 1.3-0.8 1.4-0.5 1.6,0 1.4,0.5 0.9,0.8 0.2,0.8 -0.3,0.8 -0.7,0.9 -1.2,1.1 -1.6,1.2 -1.8,1.2 -1.7,1.2 -1.3,1.3 -1.1,1.1 -1.1,0.9 -1,0.8 -0.8,0.6 -0.9,0.7 -1.1,0.6 -1.3,0.7 -1.3,0.8 -1.1,0.8 -1,0.8 -1,0.7 -1,0.8 -1.4,0.8 -1.6,0.9 -1.6,1 -1.3,1.1 -1,0.8 -1,0.7 -1.3,0.5 -1.4,0.3 -1.2-0.1 -0.6-0.5 M393.2,123.4l0.2-0.7 0.6-1 1-1 1-1 1.1-1.1 1.2-1.1 1-1.1 1-1.2 0.9-1.1 0.9-1.2 1-1.3 1-1.3 1.1-1.1 1.3-0.8 1.3-0.7 1.5-0.6 1.4-0.9 1.3-1.1 1.1-1.2 1-1.3 1.1-1.1 1.3-1.2 1.4-1 1.5-0.6 1.5-0.3 1.7,0 1.7,0.4 1.4,0.8 1,1 0.3,0.9 -0.3,1 -0.6,1.1 -0.9,1 -1.2,1.1 -1.2,0.9 -1.2,1 -1.5,0.8 -1.6,0.8 -1.7,0.7 -1.5,0.8 -1.4,0.7 -1.4,0.8 -1.4,0.9 -1.2,0.9 -1,1 -0.9,0.9 -0.7,0.9 -0.7,0.8 -0.9,1 -1.3,1.2 -1.6,1.3 -1.7,1.1 -1.6,1 -1.4,0.8 -1.4,0.6 -1.1,0.1 -1-0.1 -0.9-0.4 -0.5-0.8 M393.2,123.4l0.2-0.7 0.7-0.9 1.1-1.2 1.4-1.4 1.6-1.2 1.4-1 1.4-1 1.1-0.9 1-1.2 1-1.2 0.8-1.2 0.9-1.1 0.9-0.9 0.9-0.9 0.9-1 0.9-0.9 1-0.9 1.2-0.7 1.3-0.5 1.4-0.3 1.5-0.3 1.4-0.7 1.3-0.9 1-1.1 0.8-0.9 0.7-0.5 0.7-0.1 0.9,0.3 1,0.6 0.9,0.6 0.5,0.7 0.2,0.6 -0.3,0.7 -0.5,0.8 -0.7,0.9 -1.1,1 -1.4,1 -1.6,1.1 -1.9,1 -1.9,0.8 -1.7,0.6 -1.4,0.7 -1.1,0.7 -0.9,0.9 -0.9,1.1 -1.1,1.3 -1.3,1.3 -1.4,1.3 -1.4,1.2 -1.4,0.9 -1.4,0.7 -1.4,0.5 -1,0.6 -0.8,0.8 -0.8,0.7 -1.1,0.6 -1.4,0.3 -1.4-0.2 -0.7-0.5 M393.2,123.4l0.1-0.9 0.7-1.2 1.3-1.4 1.5-1.4 1.4-1 1.1-0.9 1-0.8 0.8-0.9 0.8-1 0.9-1 1.2-0.9 1.4-0.8 1.3-0.7 1.2-0.9 1-1.1 0.9-1.4 1-1.4 1.2-0.9 1.4-0.7 1.4-0.5 1.4-0.5 1.4-0.8 1.4-0.9 1.3-1.1 1.1-1 0.8-0.6 0.8-0.2 0.8,0.3 0.7,0.5 0.6,0.7 0.3,1 -0.2,1.2 -0.5,1.4 -0.9,1.4 -1.2,1.4 -1.4,1.2 -1.6,1 -1.6,0.8 -1.5,0.8 -1.3,0.8 -1.1,0.7 -0.9,0.9 -0.9,0.9 -1,0.9 -1.1,0.8 -1.2,0.8 -1.3,0.8 -1.2,0.8 -1.1,1 -1.2,1 -1.2,1.1 -1.2,0.9 -1.4,0.9 -1.5,0.7 -1.5,0.6 -1.3,0.4 -1.2,0.2 -1.1-0.3 -0.6-0.7"/>
<path stroke="#D95319" d="M384,130.7l0.2-0.9 0.8-1.3 1.5-1.4 1.9-1.7 2-1.9 1.7-1.6 1.5-1.4 1.3-1.2 1.3-1.1 1.2-1.3 1.4-1.2 1.8-1.1 2-1.2 1.8-1.8 1.5-2 1.1-1.5 1.1-1.1 1.5-0.7 2-0.7 2.1-0.9 1.8-1 2-1.2 1.8-1.1 1.7-1 1.4-1 1-1 1.1-1.5 1.5-2.1 1.9-1.9 1.8-1.4 1.6-1.2 1.7-1 2-0.4 2.4,0.3 2.5,1 1.9,1.8 1,2.3 0,1.8 -0.5,1.3 -0.9,1.2 -1.3,1.1 -2,0.9 -2.4,0.9 -1.9,0.5 -1.4,0.3 -1.9,0.7 -2,1 -1.9,1.1 -1.9,1.4 -2.3,1.4 -2.2,1 -1.7,0.9 -1.3,1 -1.1,0.9 -1.2,0.9 -1.4,1.1 -1.9,1.1 -2.2,1.2 -1.9,1.1 -1.4,1.1 -1.1,1.1 -1.3,1.4 -1.7,1.4 -1.8,1.1 -1.7,1 -1.4,1.2 -1.4,1.3 -1.8,1.4 -1.8,1.2 -2.3,1 -2.4,0.6 -1.7,0.3 -1.1-0.1 -0.6-0.4 M384,130.7l0.1-0.9 1.1-1.2 1.9-1.5 2.2-1.6 1.9-1.7 1.3-1.8 1.1-1.6 1.2-1.3 1.2-1.1 1.3-1.2 1.5-1.3 1.5-1.2 1.4-1.3 1.6-1.6 1.7-1.6 1.4-1.3 1.4-1.3 1.5-1.5 1.6-1.2 1.7-0.9 1.8-1 1.8-0.9 1.9-0.8 1.7-1 1.7-1.1 1.7-1.1 1.8-1 1.8-1.1 1.6-1.8 1.3-1.7 1.3-1.1 1.7-0.8 2.3-0.5 2.6-0.1 2.4,0.9 1.5,1.6 0.3,1.8 -0.7,1.3 -1.2,0.8 -1.2,0.8 -1.1,1.4 -1.4,1.7 -1.8,1.4 -1.7,0.9 -1.5,0.8 -1.7,0.9 -1.5,0.9 -1.2,0.5 -1.7,0.5 -2,1.1 -1.8,1.4 -1.7,1 -1.9,0.6 -2.2,0.8 -1.9,1.1 -1.4,1.1 -1.2,0.9 -1.6,1.1 -1.9,1.3 -1.6,1.7 -1.2,2.1 -1.2,1.9 -1.3,1.5 -1.5,1.1 -1.6,1 -1.9,0.9 -1.8,0.8 -1.8,1.1 -2,1.2 -2.1,0.9 -2,0.7 -1.7,0.3 -1.3-0.1 -0.5-0.6 M384,130.7l0.4-0.9 0.8-1.1 1.2-1.3 1.5-1.5 2-1.7 2-1.8 1.4-1.7 0.9-1.2 1.2-1.2 1.6-1.4 1.6-1.8 1.5-1.5 1.3-1.1 1.3-1 1.5-1.3 1.7-1.4 1.6-1.4 1.4-1.3 1.7-1.1 2-1 2-1.3 2-1.1 1.9-0.9 1.6-0.9 1.2-1 1-1.1 1.4-1.4 2.3-1.5 2.8-1.1 2-0.7 1.1-0.6 1.3-1 2.1-0.9 2.1-0.1 1.6,0.8 1.1,1.2 0.8,1.7 0.9,1.7 0.5,1.1 -0.6,0.8 -1.6,0.9 -1.8,1.1 -1.6,1.4 -1.8,1.2 -2.3,0.8 -2.3,0.4 -1.9,0.7 -2,0.9 -2.2,1 -1.9,1.2 -1.3,1.2 -1.2,1.2 -1.6,1.3 -2,1.1 -2.1,0.8 -2,1 -1.8,1.1 -1.6,0.8 -1.4,0.8 -1.3,1.4 -1.5,1.7 -1.7,1.6 -1.6,1.3 -1.4,1 -1.3,1 -1.5,1 -1.7,1.3 -1.7,1.4 -1.8,1.4 -1.7,1 -1.8,0.4 -1.8,0.2 -1.5,0 -1-0.6 M384,130.7l0.2-0.9 1.1-1.3 1.6-1.4 1.7-1.2 1.4-1.4 1.3-1.7 1.5-1.7 1.8-1.6 1.8-1.8 1.3-1.7 1.2-1 1.5-0.7 1.6-0.9 1.4-1.2 1.1-1.6 1.4-2 1.9-1.8 2.1-1.2 1.8-0.7 1.5-0.9 1.2-1.3 1.5-1.2 2-1.4 1.9-1.5 1.7-1.1 1.6-0.7 1.7-0.9 1.7-1.6 1.4-1.6 1.2-1.2 1.4-0.7 1.9-0.5 2.3-0.3 2.2,0 2.2,0.8 1.9,1.4 1.3,1.9 0.2,1.7 -0.9,1.4 -1.5,1 -1.1,0.9 -1.2,0.9 -1.9,0.7 -2,0.7 -1.8,0.8 -1.7,1 -1.8,1.2 -2.1,1.3 -2.2,1.1 -1.9,0.7 -1.8,0.5 -2,0.9 -1.9,1.4 -1.4,1.6 -1,1.1 -0.7,0.7 -1,0.6 -1.6,0.9 -2.1,1.1 -2.1,1.2 -1.8,1.5 -1.8,1.8 -1.8,1.6 -1.8,1.3 -1.5,1 -1.1,1 -1.1,1 -1.3,1.2 -1.6,1.1 -2.2,1.1 -2.7,0.9 -2.1,0.5 -1.4-0.1 -0.6-0.7"/>
<path stroke="#EDB120" d="M374.9,138.4l0.2-1 1.3-1.7 1.6-1.9 1.7-2.1 1.3-1.8 1.4-1.5 1.8-1.4 1.8-1.3 1.6-0.8 1.3-1.1 1.3-1.7 1.3-1.9 1.7-1.6 2.1-1.5 1.8-1.8 1.5-1.5 1.6-1.2 1.9-1 2.1-1.6 1.9-1.9 1.7-1.5 1.4-1 1.4-0.6 1.8-1 2.1-1.7 2-1.6 2-1.2 2-1.1 2-0.9 2-1.5 1.7-1.7 1.6-1.2 2.3-0.7 2.6-1.1 2.2-1.5 1.3-1.5 1.9-0.9 2.6-0.6 2.3-0.4 1.3,0.1 1.2,1 1.4,1.3 0.4,1.5 -0.6,2 -1.1,1.8 -1.1,1.5 -0.7,1.8 -1,1.9 -1.9,1.4 -2.3,0.7 -2.4,0.2 -2.2,0.8 -2,1.6 -2,1.3 -2.1,1.1 -2.2,1.1 -2,1 -1.8,0.7 -1.9,1.1 -1.7,1.2 -1.6,1.5 -1.8,1.2 -1.8,0.8 -1.9,1.2 -2.1,1.3 -2,1.3 -1.6,1.2 -2,1.1 -2,1.6 -1.3,1.9 -1.3,1.4 -2.2,1 -2.5,1.5 -1.8,2 -1.8,1.4 -2,0.6 -1.9,0.7 -1.6,1.1 -1.8,1.3 -2.2,1.4 -2.4,1.2 -2,0.5 -1.2,0.1 -0.6-0.4 M374.9,138.4l0.1-1 0.8-1.4 1.4-1.7 1.4-1.7 1.5-1.7 1.7-1.5 1.8-1.7 1.6-1.7 1.6-1.6 1.9-1.5 2.2-1.4 2-1.4 1.7-1 1.4-1.2 1.3-1.9 1.5-2.3 1.7-2 1.4-1.3 1.4-0.8 1.5-1.1 1.9-1.4 2-1.1 2-1 2.2-1.1 1.9-1.1 1.9-1.4 2-1.7 2.2-1.4 2.3-1.6 1.7-1.8 1.4-1.6 1.5-1.1 1.8-0.7 2.1-1 2.1-1.4 2.3-1.3 2.7-1 2.7-0.8 1.9-0.6 1.8,0.4 2.2,1.3 2,1.3 0.5,1.4 -0.9,2.1 -1.6,2.7 -1.7,2.1 -1.7,1.6 -1.7,1.8 -2.2,1.7 -2.4,0.7 -2,0 -1.9,0.3 -2.4,1 -2.3,0.8 -1.6,0.8 -1.5,1.7 -2.2,1.8 -2.3,1.4 -2,0.8 -1.9,0.5 -2.1,0.6 -1.8,1.2 -1.1,1.6 -1.4,1.4 -2.2,1.3 -2.2,1.6 -1.5,1.8 -1.4,1.8 -2,1.8 -2.5,0.9 -2.2,0.3 -1.4,0.5 -1.3,1.1 -1.6,1.5 -2.1,1.5 -2.4,1.2 -2,1.2 -1.7,1.5 -1.8,1.5 -2.2,1.1 -2.3,1 -1.7,0.7 -1.1,0.2 -0.7-0.5 M374.9,138.4l0.1-1.1 0.8-1.5 0.9-1.9 1.2-1.9 1.8-1.7 1.9-1.4 1.7-1.2 1.7-1.3 1.5-1.7 1.7-1.9 1.6-1.7 1.5-1.7 1.6-1.7 1.3-1.5 1.5-1.2 2.2-1.2 2.4-1.6 2.2-1.7 2.1-1.3 2.3-1 2.2-1.3 1.8-1.6 1.6-1.5 1.4-1.2 1.6-1.1 2.1-0.7 2.1-0.7 1.6-1.3 1.3-1.7 1.7-1.7 2.2-1.3 1.9-1 1.7-0.7 2.1-0.8 2.4-1.5 2.2-1.7 2.2-1.2 1.9-0.8 1.6-0.5 2.1,0.1 2.4,0.6 1.4,0.9 0,1.5 -1,1.8 -0.6,1.6 -0.3,2 -1,2.2 -2.1,1.8 -3,1.5 -2.7,1.4 -2.1,0.9 -1.9,0.5 -1.8,0.6 -1.6,0.8 -1.9,1.4 -2.8,1.5 -2.7,1.3 -1.9,1 -1.6,1.1 -1.9,1.1 -1.7,1.1 -1.4,1.1 -1.4,1.1 -1.9,1.3 -2,1.2 -2.1,1.4 -1.8,1.6 -1.6,1.8 -1.6,1.7 -1.9,1.1 -2,0.9 -1.9,1 -1.6,1.1 -1.6,1 -1.7,1.4 -1.9,1.6 -1.8,1.2 -2.2,1.1 -2.5,1.3 -2.4,1.4 -2.1,1 -1.8,0.6 -1.2,0.2 -0.5-0.3 M374.9,138.4l0-0.9 0.8-1.4 1-1.6 1.3-2.4 1.7-2.2 1.9-1.6 1.9-1.3 1.6-1.6 1.3-1.5 1.2-1.2 1.7-1.4 2.4-1.8 2-1.7 1.4-1.2 1.6-1.1 2.2-1.4 2.2-1.9 2-1.8 1.7-1.4 1.5-1.3 1.7-1.2 1.8-1.3 1.9-1.2 2.2-1 2.1-1.2 1.8-1.3 1.6-1.3 1.7-1 1.4-1.1 1.3-1.4 1.4-1.7 2.2-1.5 2.5-0.7 2.1-0.5 1.8-1.1 2.2-1.2 2.8-1.3 2.6-1.1 2-0.2 2,1 1.8,1.1 1.1,1.1 -0.4,1.1 -0.8,1.5 -0.4,1.8 -0.5,1.8 -1.5,1.8 -2.1,1.2 -2,1 -2.1,1 -2.6,1 -2.8,0.3 -2,0.4 -1.5,1 -1.6,1.6 -1.6,2.1 -1.8,1.4 -2.3,0.7 -2.5,0.4 -2.2,0.9 -2.1,1.3 -2.1,1.5 -2.1,1.4 -1.6,1.6 -0.9,1.6 -1.3,1 -1.7,0.6 -1.9,1 -1.9,1.7 -1.8,2 -2,2 -2,1.9 -1.8,1.4 -1.8,1.1 -1.4,1.2 -1.4,1.2 -2,0.9 -2.3,1 -2.4,1.1 -2.4,0.9 -2.1,0.7 -1.9,0.7 -1.3,0.3 -0.5-0.3"/>
<path stroke="#7E2F8E" d="M364.3,146.5l-0.2-1.4 0.6-1.9 1.2-2.1 1.7-2.1 1.9-2.2 1.8-2.2 1.8-1.8 1.6-1.3 1.8-1.3 1.8-1.7 2.1-1.7 2.1-1.4 1.9-1.3 2.1-1.5 2.2-1.7 1.5-2.1 1.4-1.8 2-1.6 2.2-1.1 2-0.8 1.9-1.8 1.8-2.1 2-1.4 2.3-1 2.2-1 1.8-1.4 1.8-1.4 2.1-1.2 1.8-1.1 2.2-1.4 2.3-1.4 2.1-1.2 2.3-1.4 2-1.6 2-1.3 2.4-1.2 2.2-1.4 1.9-1.5 2.3-1.7 2.6-1.4 2.4-0.8 1.9-0.5 1.9-0.5 2.2-0.3 2.7-0.2 2.5,0.2 1.5,1 0.6,1.5 -0.5,2 -1.5,2.5 -1.8,2.9 -1.4,2.6 -2,2.1 -2.6,1 -2,0.7 -1.6,1.2 -1.5,1.7 -1.6,1.3 -2.4,0.5 -3,0.4 -2.9,1.1 -2.2,1.1 -2.2,0.8 -2,0.4 -2.1,0.8 -2,2.1 -1.5,2.1 -1.6,1 -2.3,0.7 -3,1.4 -2.4,2 -1.4,2.1 -1.8,1.4 -2.4,1 -2.2,1.5 -2,1.4 -2.1,1.5 -2.1,1.3 -2.3,1.2 -2.2,1.4 -2,1.6 -1.9,1.6 -1.8,1.1 -1.8,0.9 -2.1,1.5 -1.8,2.3 -2,1.7 -1.9,1.3 -2.1,1.8 -2.3,1.5 -2.3,0.8 -2,0.4 -1.6-0.2 -1-1 M364.3,146.5l-0.2-1.6 0.4-2.1 1.2-2.2 2-2 2.2-1.8 2.1-2.1 1.6-1.8 1.6-1.4 1.7-1.6 1.8-1.8 2-1.5 1.6-1.3 1.5-1.6 2-1.7 2-1.5 2-1.3 2.3-1.5 2.1-1.7 2-1.4 2.4-1.6 2.2-1.6 1.8-1.1 2-1.4 2.4-1.6 1.8-1.3 1.2-1.8 1.8-1.5 2-0.8 1.9-0.7 2.2-1 2.7-1.2 2.4-0.9 2.3-1 2.1-0.7 1.7-1.4 1.8-2.9 2-3 2-1.5 2.3-0.9 2.6-0.8 2.5-1.1 2.4-1.4 2.1-0.7 1.9-0.1 1.8-0.1 2,0.4 1.8,1.8 1.2,1.9 0,1.8 -0.7,1.8 -1,2 -1.9,2.7 -3,2.8 -3.3,1.9 -2.6,0.9 -2,0.5 -2,1.1 -2.4,1.4 -2.3,0.7 -2-0.1 -1.8,0.2 -2.3,1 -2.3,1.9 -2,2.1 -2,1.4 -1.6,1.1 -1.9,2 -2.6,2.2 -2.7,0.9 -2.2,0.3 -1.8,0.8 -1.3,1.1 -2.1,1.6 -2.4,2.6 -2,2.6 -1.4,1.3 -1.9,0.6 -2.7,1 -2.5,1.5 -1.9,1.2 -1.3,0.7 -1.4,1.5 -1.8,2.3 -2.5,1.8 -2.6,1.5 -2,1.3 -2,1.3 -2.1,1.3 -1.8,1.9 -1.9,1.9 -2.3,0.8 -1.9,0.1 -1.7-0.5 -1.3-0.9 M364.3,146.5l-0.2-1.2 0.8-1.8 0.9-2.2 1-2.1 2-2.3 2.7-2.2 2.2-1.8 1.7-1.5 1.5-1.1 1.7-1.3 1.5-1.7 1.7-1.6 1.8-1.5 2.1-2 2.2-1.8 2.2-1.4 1.9-1.3 1.9-1.4 2-1.4 1.8-1.4 2.3-1.5 2.4-1.2 1.6-1.3 1.6-1.5 2.6-1.4 2.7-1.5 1.6-1.5 1-1.2 1.9-0.9 2.6-1 2.6-1.4 2.5-1.4 2.2-1.6 2.1-1.6 1.6-1 1.1-1.2 1.8-2.3 2.5-2 2.9-0.9 2.6-0.4 2.2-0.5 1.8-1.1 1.1-1.2 1.9-0.6 3.2,0 2.7,0.3 1,0.7 0.5,1.6 0.5,2.3 -0.3,2.3 -2.2,1.8 -2.5,1.8 -1.6,1.9 -1.3,1.9 -2,1.8 -2.1,1.1 -2,1.1 -2.6,0.9 -2.7,1.4 -1.9,1 -1.9,0 -2.2,1.1 -2.5,2 -2.7,1.3 -2.3,0.9 -2,1 -2,1.4 -2.1,1.9 -2.3,1.8 -2.3,1.2 -2,1.6 -1.9,2 -1.8,1.4 -2,0.7 -2.2,0.9 -2.4,1.1 -2.1,1.3 -1.6,1.3 -1.9,1.1 -2.2,0.9 -1.8,1.4 -1.8,2 -2,2.2 -1.6,1.6 -1.5,1.2 -1.7,1.4 -2.3,1.8 -2.6,1.6 -2.3,1.6 -1.6,1.7 -1.9,1.1 -2.4,0.1 -2.1-0.5 -1.3-0.8 M364.3,146.5l-0.1-1.5 0.5-2.1 1-2.2 1.5-2.1 1.5-2 1.9-1.7 2.2-1.4 2.1-1.7 1.7-1.7 2.3-1.6 2.4-1.5 1.6-1.6 1.6-1.6 1.8-1.4 1.5-2 1.6-2 1.9-1.4 2.3-1.3 2.3-1.5 1.9-1 1.7-0.9 1.9-1.4 2.2-2 2-2 1.9-1.7 1.9-1.2 2.1-0.7 2.2-1 2.2-1.4 2.4-1.5 1.9-1.4 1.8-1.1 2-0.8 2.3-0.9 2.4-1 2.1-1.4 2-2 2.3-2.5 2.9-1.5 2.4-0.9 2.2-0.6 2.4-0.2 2.3-0.5 2.3-0.5 2.9,0.1 2.7,0.6 1,0.6 -0.4,1.3 -0.8,2.3 -0.4,2.5 -0.8,2.4 -2,1.9 -2.1,1.4 -2.1,1 -2.2,0.9 -2.3,0.8 -2.7,0.9 -2.5,1.9 -2,1.7 -1.6,0.9 -2.4,1 -2.5,1.3 -2.3,1.4 -2.6,1.7 -2.5,1.6 -2.3,1.1 -2,0.9 -1.8,1 -1.9,1.2 -2.3,1.3 -2.3,1.4 -2,1.1 -1.9,0.9 -1.8,1.5 -1.6,1.7 -2,1.2 -2.4,1.4 -2.4,1.6 -2.1,1.9 -2,1.9 -1.8,1.4 -2,0.9 -2.3,1 -2,1.5 -1.6,1.6 -1.5,1.2 -2.2,0.9 -2.1,1.4 -1.8,1.8 -1.9,2.1 -2.4,1.4 -2.4,0.4 -1.7-0.4 -1.2-1.1"/>
<path stroke="#77AC30" d="M352.9,155.2l-0.4-1.7 0.3-2.2 1.1-2.6 1.9-2.7 2.3-2.2 2.1-1.9 2-2.2 1.6-1.9 1.4-1.4 2.2-1.7 2.5-2 1.7-1.5 0.9-1.1 1.6-1.2 2.3-2 2.1-2.6 2-2.2 2.1-1.6 1.7-1.3 1.9-1.2 2.7-1.5 2.9-1.9 2.7-2 2.3-1 1.9-0.5 1.7-1.2 1.7-1.9 2.1-1.8 3-1.4 3.3-1.6 2.9-1.4 2.2-1 1.4-1.3 1.7-1.9 2.9-1.6 2.3-0.5 1.4-1 1.9-1.5 2.9-0.8 2.5-1.4 1.8-2.2 1.8-1.5 2-0.5 2.1-0.9 2.6-1.5 3-1.7 2.7-1.2 2.2-0.7 2.8-0.8 3.5-0.8 2.3-0.9 1.3,0.1 1,1.4 0.4,1.9 -0.6,1.5 -0.7,2.3 -1,3.4 -1.9,3.2 -2.6,2.9 -2.3,1.8 -1.4,0.8 -1.9,0.3 -2.9,0.2 -2.6,1.2 -2.1,1.6 -1.9,1.2 -2,0.8 -2.4,1.2 -2.4,2 -2.5,2.1 -2.7,1.3 -2.7,0.9 -2.6,1.2 -2.1,1.3 -1.9,1.1 -1.8,1.1 -1.7,1.5 -2,2.2 -2.3,2 -2.8,1.4 -2.9,1.4 -2,1.7 -1.9,1.6 -2.5,0.7 -2.2,0.5 -1.6,1.6 -1.6,2.4 -2.2,2 -2.4,1.6 -2,1.3 -1.7,0.9 -1.8,0.8 -2.4,1.3 -2.5,1.6 -2.3,1.9 -2.1,1.9 -2.1,1.9 -2.1,1.7 -2.1,1.6 -2.5,2.3 -2.3,1.8 -2.2,1.1 -2.4,1.2 -2.5,0.3 -1.9-0.6 -1.2-1.3 M352.9,155.2l-0.4-1.9 0.4-2.4 1-2.4 1.5-2.1 2-2.7 1.9-2.6 1.9-2.2 1.9-2.1 2.3-1.6 2.3-1.6 1.8-1.8 1.4-1.4 1.8-1.1 1.9-1.2 1.9-1.5 1.9-1.4 1.7-1.9 1.5-2.4 2.2-1.7 3.1-1.1 2.8-1.6 2-1.8 2.1-1.9 2.3-1.8 2.1-1.5 2-1.6 2.2-1.3 2-0.3 2-0.2 2.6-1.2 2.3-1.9 2.1-1.6 3-0.9 2.8-1.1 2.4-1.8 2.1-1.9 1.8-1 1.9-0.2 2.5-1.2 3.2-2.8 3.4-2.3 2.1-0.7 1.1-0.9 1.8-1 2.6-1.1 2.5-2 2.2-2.3 3.2-1.4 3.8-0.2 2.1-0.1 0.6,0 1,0.1 1.8,0.6 1.3,1.5 -0.2,2.3 -1.8,3 -1.9,3.2 -1.1,2.4 -1.6,1.3 -2.3,1.8 -2.4,2.4 -2.2,1.6 -2.6,1.2 -2.7,1.6 -2.3,1.5 -2,1.1 -1.7,0.8 -2.3,0.6 -2.6,0.5 -2,1 -2.4,1.6 -2.9,1.6 -1.9,1.5 -1.8,1.4 -2.9,1 -2.7,0.9 -2.4,1.4 -2.5,2.1 -2.7,1.6 -2.1,1.2 -1.4,1.6 -1.5,1.5 -1.8,0.8 -1.9,0.7 -2,1.5 -2.3,2.3 -2.6,2.1 -2.6,1.1 -1.4,1.1 -0.9,1.4 -2,1.7 -2.7,1.5 -2.5,0.8 -2.3,1.6 -2.1,2.6 -1.9,2.2 -2.3,1.8 -2.1,2 -2.1,1.5 -2.8,1.1 -2.7,1.9 -2.4,1.9 -2.1,0.8 -2.1,0.2 -1.9-0.5 -1.3-1.3 M352.9,155.2l-0.5-1.9 0.4-2.4 1.3-2.2 2.1-2.1 2.1-2.5 1.8-1.9 1.4-1.8 1.7-2.2 1.9-2.5 2-2 1.9-1.1 2.2-1.4 2.2-2.1 2.1-2.2 1.9-1.9 1.6-1.3 1.6-1.2 1.7-1.4 2-1.7 2.5-1.2 2.6-1.4 2.4-1.7 2.6-1.8 3-1.2 2.2-1.1 1.9-2 1.5-2 1.4-1.3 2.6-1.2 2.6-1.9 1.9-1.4 2.4-0.9 2.3-1 2.3-1.3 2.2-2 2-1.7 2.5-0.5 2.4-0.5 2.7-1.5 3.7-1.5 3.2-1.4 1.5-1.2 1.2-0.9 1.7-1.3 2.2-2 3.2-2.6 3.3-2 2.7-0.9 2.7,0.5 2.7,0.8 2.2,0.9 1,0.5 1,0.3 0.6,1.2 -1,2.5 -2,2.4 -1.8,1.7 -1.3,1.9 -2,1.9 -2.6,1.8 -2,1.6 -1.2,1 -2,1.3 -3,1.8 -2.7,1.4 -1.5,1 -1.2,1.3 -2.4,1.4 -2.6,1.4 -1.7,1.6 -1.8,1.8 -3.2,1.7 -3.5,1.3 -2.6,0.8 -2.2,0.7 -2.4,1.2 -2.5,2 -2.2,2 -2,1.2 -1.8,1.1 -2.5,1.1 -2.9,0.6 -2.4,1 -1.5,1.5 -1.4,1.3 -2.2,1.6 -3.2,2.2 -3,2.3 -1.9,1.6 -1.6,1.1 -2,1.1 -2.1,1.4 -1.8,2 -1.2,1.7 -1.2,1.4 -2.2,1.7 -2.7,1.7 -2.3,1.4 -2.1,1.5 -2.2,1.8 -2.3,2 -2,1.9 -2.2,1.1 -2.5,0.1 -2.2-0.6 -1.5-1.3 M352.9,155.2l-0.5-1.8 0.2-2.3 1-2.5 1.6-2.6 2.2-2.5 1.5-2.4 0.9-1.9 1.9-1.5 2.8-1.8 2.4-2.1 2.1-1.9 2.1-1.5 2.3-1.1 2.3-1.2 2.1-2.3 1.6-1.9 1.5-1.2 1.5-1.7 2-2.2 2.7-1.3 3.3-1.2 2.7-1.7 1.4-1.5 1.3-1.7 2.2-1.7 2.7-1.4 2.7-1.3 2.5-0.9 1.7-0.7 1.6-1.6 2.7-1.6 2.5-0.9 2.4-1 2.6-1.2 1.7-1.6 1.4-1.4 2.4-1.4 3.2-1.4 3.2-1.4 2.4-1 1.6-1.2 2.1-2 2.6-1.8 2.4-1 2.5-0.7 2.3-0.9 2.3-1.5 2.6-1.6 2.6-0.7 2.2-0.3 2-0.2 1.9-0.1 1.3,0.5 0.6,2 -0.4,2.1 -1.3,2 -1.5,3 -1.3,2.9 -1.5,1.8 -2.7,1.4 -2.9,1.2 -2.2,0.9 -1.9,1.4 -2.5,2 -2.5,2.1 -2.2,1.2 -2,0.8 -2.2,1.2 -2.8,0.9 -3.3,1 -2.9,1.2 -1.9,0.9 -0.8,1.3 -1.1,1.8 -2.1,1.2 -2.5,1.3 -2.5,1.3 -2.7,1.6 -3,1.5 -2.8,1 -2.1,1.1 -1.6,1.9 -1.3,1.8 -2,1.5 -2.6,1.8 -2.5,1.8 -2.5,1.2 -2.8,1.3 -2.6,1.5 -2.2,2.1 -1.8,2.4 -1.7,2 -1.7,1.4 -1.9,1.2 -1.9,1.4 -2,1.3 -2.1,1.6 -2.2,1.5 -2.3,1.8 -2,2.1 -2.2,1.9 -2.7,1.1 -2.3,0.5 -2,0.3 -1.9-0.5 -1.4-1.2"/>
<path stroke="#4DBEEE" d="M344.1,162.1l-0.8-1.6 -0.2-2.2 0.5-2.6 1-2.7 1.4-2.4 1.7-2.4 1.8-2.4 1.5-2.3 1.5-2.2 1.9-2.2 2.1-1.8 2-1.8 2-2.3 1.9-2.1 2.3-1.5 2.3-2 1.9-1.7 2.1-1.2 2.8-1.7 2.6-2.1 2-1.8 2.1-1 2.2-0.7 2.8-1.1 3-1.5 2.5-1.4 1.9-1.5 1.8-1.6 2.2-1.1 3.1-0.8 3.2-1.4 3.2-1.2 2.6-1.2 2.1-1.4 1.8-1.7 2.2-1.4 2.9-1.3 3-1.5 2.6-1.6 2.2-1.5 2.3-1.3 2.3-1 2-1.1 2.5-1.8 2.3-1.8 1.6-1.2 2.1-1 3-0.9 3-0.5 2.7-1 2.4-1.8 2.2-1.9 3.1-1.3 2.9-1.1 2.2-1.3 2.2-0.3 2.8,0.1 3.4,0.4 2,0.9 0,1.3 -0.3,1.6 -1.1,1.6 -2.5,2.4 -2.8,2.6 -2.5,1.3 -2,1.3 -1.6,2.1 -1.8,0.9 -2.1,0.9 -2.4,2.9 -2.8,3.1 -2.3,2.1 -1.6,1.6 -2.1,0.9 -2.6,0.9 -2.1,1.1 -2.4,1.9 -2.5,2 -3,1.1 -3.8,0.3 -2.6,0.5 -1.5,1.3 -2.1,1.8 -2.2,1.9 -1.9,1.4 -2.7,1.4 -3.2,1.6 -2.1,1.7 -1.6,1.3 -2.4,2 -3.2,2.1 -2.6,1 -2.5,0.9 -2.7,1.9 -2.3,2 -2.2,1 -1.5,0.8 -1.3,1.4 -2.1,2.1 -2.3,2.4 -2.2,1.8 -2.3,1.4 -2.4,1.8 -2.6,1.6 -2,1.6 -1.8,1.9 -2.3,1.3 -2,1.5 -1.7,2.5 -2.5,2.2 -3.3,1.5 -3.1,0.9 -2.6,1 -2.7,1.3 -2.5,0.6 -1.9-0.4 -1.5-1.1 M344.1,162.1l-0.8-1.5 -0.1-1.9 0.3-2.5 0.9-2.7 1.5-2.7 1.7-2.6 1.8-2.5 1.7-2.3 1.8-2.2 1.9-2.1 2.1-2.2 2.2-2.3 2.2-1.9 1.9-1.2 1.7-1.7 1.8-2 2.2-1.7 2.5-1.2 2.1-1.2 2-1.6 2.2-1.5 2.8-1.6 2.8-1.6 2.8-1.4 2.4-1.2 1.5-1 1.7-1.3 2.3-1.9 2.3-1.1 3-0.4 3.5-1.2 2.6-2.1 1.9-1.8 2.1-1.3 2.3-1 2.4-1.4 3-1.9 3.1-1.5 2.7-0.9 2.1-0.3 2.3-1 2.5-1.7 2.3-1.4 2.3-1.3 2.4-2 2.1-1.6 2.2-0.7 2.8-1 3.1-1.3 3.1-1.1 2.8-2.1 1.5-2.1 1-0.8 2.3-0.3 3-0.4 3.6-1 3-0.5 1.7,0.6 1.6,0.7 1.5,0.9 0.5,2.1 -0.5,2.8 -1.8,3.2 -2,1.9 -2.4,0.2 -3.1,0.7 -3.1,1.6 -2.4,1.9 -1.5,2.1 -1.5,2.2 -2.3,1.6 -3.2,0.4 -3.3,0.7 -2.8,2 -2.1,2.9 -1.6,1.6 -2.4,0.1 -3.6,1 -2.5,2.5 -1.4,2.4 -2.3,1.5 -2.5,1.1 -2.1,1.1 -1.8,1.2 -2,1.4 -2.4,1.7 -2.4,0.8 -2.4,0.6 -2,1.1 -2,1.6 -2.9,2.2 -3.4,1.9 -2.8,1.6 -2.2,2.3 -2.1,2 -2.2,0.8 -2.2,0.6 -2,1.3 -2.1,1.6 -2.3,1.5 -2.2,1.7 -2.2,2.2 -2.1,2.1 -1.6,1.8 -2,1.9 -2.1,2.4 -2,1.8 -2.1,1.3 -2.5,1.4 -2.9,1.8 -3.3,1.7 -3.1,1.7 -2.6,1 -2.4,0.3 -2.2,0.6 -2.1,0 -1.5-1 M344.1,162.1l-0.8-1.5 -0.2-1.7 0.6-2.2 1.2-3 1.5-3.3 1.8-2.4 1.8-2.1 1.7-2 1.7-2.3 1.6-2.5 1.7-1.9 1.8-1.8 2.1-1.7 2.4-1.7 2.1-2.2 2-1.9 2.2-2 2.4-2.3 2.2-1.6 2.3-0.8 2.5-0.5 2.3-1 1.8-1.7 1.7-2.2 2.1-2 2.7-1.1 3-0.6 3.2-0.5 2.3-0.6 1.4-1.2 2.4-1.9 3.6-2.2 3.2-2.1 2.4-1.6 2.3-1.3 2.6-1.1 2.8-1.6 2.6-1.5 1.7-1.3 1.5-1 2.3-1.1 2.6-1.3 2.3-1.4 2.3-1.1 2.4-0.8 2.7-1.1 2.7-0.8 2.1-1.7 1.9-2.9 2.9-1.6 3.7-0.2 3.6-0.7 2.8-1.5 2.4-1.5 1.7-1.1 1.6-0.6 2.6-0.2 2.1-0.1 1.4,0 1.5,2.2 0.3,3.6 -1.8,2.2 -1.6,2.1 -1.2,3.1 -2.6,2.1 -3.3,1.1 -2.4,1.1 -2,1.5 -1.9,1.2 -2.1,1 -2.5,2 -2.2,2.2 -2.3,2.1 -3,1.3 -2.4,0.4 -2.1,1 -2.8,1.8 -2.7,1.6 -2.2,1.1 -1.9,1.5 -1.9,1.7 -1.7,1.7 -2.2,1.3 -2.9,0.7 -2.7,0.4 -2.5,1.2 -2.6,2.1 -2.4,1.5 -1.8,1.2 -2.2,1.1 -2.7,1.1 -2.5,1.3 -1.6,1.3 -1.8,2.2 -3.1,2.6 -3.2,2.5 -2.3,1.6 -1.9,1.2 -2.1,1.6 -2.2,1.6 -2.2,1.3 -2.3,1.7 -2.2,2.3 -2,2.2 -1.8,1 -1.8,1.1 -2.3,2.5 -2.4,2.4 -2.7,1.6 -2.5,1.9 -2.3,1.2 -2.5,0.9 -3,0.8 -2.9,0.6 -2.6,0.4 -1.9,0.1 -1.4-0.5 M344.1,162.1l-0.8-1.7 -0.2-2.2 0.2-2.4 0.4-2.3 1.1-2.3 1.9-2 2.6-2.3 2.6-3 2-2.6 1.7-2 1.8-1.9 1.9-2.1 2-1.9 1.9-1.7 1.9-2.2 2-2.3 2.5-1.2 2.4-0.8 1.7-1.5 2-2 2.7-1.6 3.1-1.1 2.4-1.5 1.3-1.4 1.6-1.1 3.1-1.3 2.7-1.8 1.9-1.6 2.4-1.1 2.4-1.4 2.3-1 3.3-0.6 2.9-1.7 2.1-2.3 1.8-1.7 2.3-1.5 2.8-1.7 2.8-1.2 2.8-0.2 2.8-0.7 2-1.6 2-1.7 3.1-1.1 2.5-1.5 1.8-1.8 1.9-1.4 1.9-0.9 2.1-0.8 2.2-1.6 3.4-1.9 4.3-0.8 2.9-0.6 1.8-1.7 2.3-1.5 3.3-0.7 2.9,0 2.6-0.4 2.1-0.2 1.2,0.8 0.4,2.1 -0.5,2.6 -1,1.8 -2.3,1.7 -2.3,2.3 -1.5,1.4 -1.4,1.2 -1.9,1.8 -2.4,1.6 -2.4,1.4 -2.7,1.7 -3.4,1.7 -3.9,1.1 -3.1,1.4 -1.7,2.1 -1,2.1 -1.6,2 -2.1,1.6 -2.3,1.2 -2.9,1.3 -3.1,1.3 -2.9,0.6 -1.8,0.7 -1.1,0.9 -2.2,0.9 -3.1,1.9 -2.3,2.2 -1.6,1.9 -2.1,2 -2.8,1.4 -2.5,1 -2.6,1.4 -3.2,1.6 -2.5,1.2 -1.8,1.6 -1.6,2.2 -1.5,2.2 -2.3,1.6 -3.1,0.6 -2.5,1.1 -1.8,2.3 -2.2,2.3 -2.7,1.8 -2.6,2.1 -2.1,1.5 -1.4,0.7 -1.3,1 -1.9,1.7 -2.3,2.3 -2.7,2 -2.9,1.3 -2.6,0.9 -2.5,1 -2.9,1.1 -3,1.2 -2.3,0.9 -2,0.3 -1.6-0.5"/>
<path stroke="#A2142F" stroke-width="0.8" d="M333,171.4l-1-1.1 -0.3-2 0.4-2.6 0.8-2.8 1.3-3.1 1.5-3.4 1.2-3.2 1.5-2.9 1.9-2.4 2.5-2.1 1.6-1.7 0.8-2.4 1.2-2.4 1.9-2 2.8-2 3.2-2.2 2.5-2.2 1.4-2.2 2-1.9 2.3-1.1 2.6-1 2.9-1.8 2.5-1.8 2.1-1 2.2-0.4 2.6-1.1 2.9-2.1 2.4-1.7 1.5-1.3 2-1.5 2.4-1.6 2.8-1.4 3.7-0.8 4.5-1.3 3.7-1.1 1.7-0.3 0.9-0.8 1.9-2.3 2.8-2.6 3.7-1.6 3.6-0.6 2.7-0.3 1.9-1.5 0.9-2.5 0.8-1.2 2.5-0.3 4.3-0.9 4.3-2.1 2.9-2.3 1.9-1.5 2.3-1.4 3-1 2.7-0.7 1.6-1.1 2.2-1.4 3.4-0.6 2.9,0.6 1.7-0.8 1.7-3.1 2.2-3.8 2-2.4 3.1,0.2 4.5,2 4.3,2.2 4,0.7 2.5,0.7 0.1,2.3 -1.7,2.2 -3.1,1.5 -3.2,1.7 -3,0.9 -2.2,0.4 -2.1,1.3 -2.2,2.7 -2.7,1.9 -3.2,0.3 -2.2,1.1 -1.9,2 -1.8,2 -2.2,3 -2.9,2.4 -3,2 -2.5,1.2 -1.9-0.1 -2.3,1.7 -2.7,2.8 -2.4,1.1 -2,0.9 -2.3,2 -2.3,2.3 -2.6,1.4 -2.5,0.4 -2.4,0.7 -2.3,1.6 -2.2,2.2 -2,2 -2.4,1.6 -2.4,1.2 -2.7,0.9 -3,2 -2.6,2.5 -3.2,1.3 -3.1,0.3 -1.9,0.5 -1.5,1.4 -2,2.3 -2.9,1.9 -2.8,1.2 -2.8,1.2 -2.7,2.3 -1.9,2.7 -1.5,1.7 -1.2,0.8 -2.1,1.1 -3.7,1.8 -3.3,3.2 -2,3.2 -1.7,0.7 -2.5,0.1 -3.1,0.6 -3.1,0.8 -2.3,1.5 -1.9,2.3 -2.1,2.4 -3.1,1.6 -3.1,1.1 -2.8,1.5 -2.4,0.8 -1.7-0.1 M333,171.4l-0.9-1.1 0.1-2.6 0.4-3.1 0.9-2.7 1.5-2 1.1-2.9 0.7-3 1.5-2.3 1.9-2.3 2.3-2.8 2.2-2.4 1.8-2.6 1.4-3.1 1-2.4 1.4-1.5 2.2-1.9 2.6-1.7 2.4-1.3 1.9-1.3 2-1.6 2.6-2 2.9-1.6 2.9-1.2 2.8-1.4 2.7-1.3 1.8-1.3 1.5-1.6 2.5-2.3 3.3-1.9 4-0.4 3.3-0.6 2-1.9 1.4-1.9 1.1-1.1 2-0.9 3.3-1.2 3.1-1.6 2.7-1.3 3.5-0.2 3.7-1.1 3.4-1.5 3.1-0.6 2-0.8 1.6-1.7 2.4-1.8 2.5-1.2 2.6-2.2 3.5-2.3 2.6-0.7 1.9-1.3 3.6-1.9 4.5-1.7 2.4-1.3 1.9-0.3 2.5-0.7 1.9-0.8 1.6-0.7 1.9-2 2.1-2.5 2.6-1.4 2.9-0.1 3.8-0.4 3.3-1.4 2.8-0.1 3.2,1.8 1.6,2.1 0,2.4 -1.6,2.1 -2.3,0.5 -1.2,0.6 -0.5,1.4 -1.8,2.8 -2.6,3.3 -3.2,1.8 -3.3,1.1 -3.2,2.2 -2.7,2.3 -2.2,2.1 -2.7,2 -3.4,0.3 -3,0.1 -1.8,1.1 -1.7,1.8 -2.4,3 -2.6,1.9 -3.1,0.9 -3.3,1.6 -2.7,2.1 -2.2,1.3 -1.9-0.5 -1.8-0.4 -2.5,0.9 -3.8,1.9 -3,2 -1.4,2.3 -1.8,2 -1.4,1.2 -0.9,1.6 -2.5,2.3 -3.2,1.6 -3,1.6 -2.8,1.2 -2.8,0.8 -3.3,2.3 -2.7,2.8 -1.5,1 -0.9,0.6 -2.2,1.6 -3,1.5 -2.5,1.7 -2.2,2.2 -2.4,2.3 -2.4,2 -2.4,1.2 -2.7,0.7 -2.7,1.7 -2.4,2.6 -2.5,2.2 -2.9,1.7 -2.3,0.9 -1.8,0.8 -3.3,1.5 -4.2,1.6 -3.5,2.3 -2.2,2.6 -0.9,1.2 -2.1,0.5 -2.6,0.4 -1.8-0.2 M333,171.4l-0.7-1.2 -0.2-2 0.3-2.8 0.9-3.4 1.9-3.1 2.1-2.9 1.3-2.8 0.4-2.6 0.7-2.8 2-2.7 2.4-2.4 2-2.2 1.8-1.8 1.9-2.3 1.8-1.8 1.4-1.2 1.6-1.5 2.4-1.6 2.9-1.9 2.5-2.3 2.2-1.8 2.7-1.4 2.9-1.6 2.3-1.2 2.1-1.1 2.1-1.8 1.8-1.8 2.3-1.2 2.9-1.1 3.3-1.1 3-1.2 2.3-1.1 2.9-1 3.2-0.9 2.9-1.2 2.8-1.6 2-1.1 1.5-1.5 2.4-1.4 3.4-1.7 3.7-2.2 2.9-1.4 3-0.4 2.8-1.4 1.8-1.3 2.1-0.3 2.7-0.3 2.9-0.2 3.3-1.2 2.9-2.2 2.1-2.1 1.6-2.1 1.6-2.1 2.1-1.2 1.9-1 2.5-1.6 3.9-1.6 3.5-1.2 2.3,0 2.5-1 3.3-2 3.9-0.4 3.9,0.5 3.1-0.8 1.5-0.7 1.7,1.8 0.4,3.8 -2,2.4 -3.2,0.5 -2.9,1 -1.6,1.7 -0.8,2.2 -1.9,2.3 -3.1,1.8 -2.3,2.2 -1.8,2.6 -2.2,1.2 -2.6,1.3 -2.6,1.8 -3,1.3 -3.6,1.3 -3.4,1.4 -3.6,1.4 -2.9,2.2 -1.9,2.1 -1.4,1 -0.9,0.5 -1.7,0.4 -3.1,0.9 -3,2.1 -2.6,2.6 -2.4,1.8 -2.2,0.9 -2.5,0.6 -3.2,1.1 -2.8,2 -2,2.3 -1.8,1.8 -2.1,1 -2.1,0.8 -2.5,1.4 -2.9,1.3 -3.4,0.9 -2.4,0.7 -1.6,1.6 -1.9,2.8 -1.9,2.9 -1.8,2.3 -2.8,2.1 -2.9,1.8 -2.2,1.5 -1.5,2 -2.4,1.6 -3.4,1.5 -3.2,1.5 -2.1,0.7 -2,1.2 -2,2.1 -2.4,1.9 -2.8,0.8 -2.3,0.8 -2.3,2.1 -2.9,2.9 -3.2,2.7 -3.2,1.3 -2.6,0 -2.3,0.8 -2.2,0.9 -2,0.1 M333,171.4l-0.8-1.1 -0.3-1.9 0.3-2.5 1.3-3.2 1.9-3.4 1.8-3.4 1.5-3.1 0.9-2.5 1.3-1.8 2.5-2.1 2-2.7 1.5-2.8 1-3.1 0.8-2.3 1.8-1 2.6-1 2.4-1.9 1.9-2.4 2.6-2.3 3.3-1.1 2.4-1.2 2.2-2.3 2.4-2.3 1.9-0.4 2.4,0.1 2.8-1.1 2.6-2.4 2.2-2.4 2.2-1 2.6-0.7 2.6-1.5 3.1-1.3 3.1-1.3 2.7-1 2.1-1 2.5-0.6 3.2-0.4 2.5-1.9 1.6-2.4 2.9-1.9 2.7-1.5 1.9-1.8 2.7-2.1 3.1-1.1 2.5-0.5 3.1-1.9 3.1-2.9 1.4-1.2 1,0.4 1.7,0 3-1.1 4.3-1.7 4.6-1.1 2.6-1.4 2-1.4 3.3-0.7 2.6-0.3 2-1 2.7-1.9 2.2-2.3 1.5-2 2.2-1.4 3.7-0.4 3.8,0.6 2.8,1.6 2,2.7 0.6,2.4 -1.5,2 -2.1,1.9 -2.5,2.1 -2.9,1.8 -2.7,1.9 -2.5,1.7 -2.9,1.2 -2.6,0.4 -1.3,0.5 -1.2,2.4 -1.9,3.6 -3.1,1.9 -3.7,0.9 -3.6,1 -3,2.3 -0.9,2.2 0.1,0.2 -1.3,0.6 -3,1 -3.1,0.6 -2.9,1.2 -3.4,1.8 -3.7,2.1 -1.9,1.9 -0.8,1.7 -2,1.3 -3.3,2.3 -3.5,2.3 -3,0.5 -3-0.7 -3,0.9 -2.6,3.1 -1.6,2.4 -1.7,1.7 -1.6,1.7 -1.6,1.3 -2.8,1 -3.2,1.5 -2.7,1.9 -2.3,1.9 -1.7,2 -2.1,2.3 -2.3,1.3 -1.9,1.3 -2.2,2.4 -3.1,1.9 -2.3,1 -1.4,1.5 -2.2,1.8 -2.8,1.8 -3.1,1.8 -2.7,1.6 -2.5,1.7 -2.4,1.6 -2.7,0.9 -2.3,1.7 -2.1,2.8 -3.3,1.7 -3.5,0.1 -2.6,0.5 -2.2,0.9 -1.7,0 M333,171.4l-0.7-1.1 -0.2-2.1 0.9-2.7 1.6-2.6 1.4-3.3 1.2-2.9 1.2-2.8 1.5-3 1.4-2.3 0.8-2 1.6-2.4 2.5-2.3 1.8-2.2 1.3-2.2 1.7-2 1.5-2.2 1.6-1.8 2.3-1.3 2.5-1.7 3-2.2 3.1-2.1 2.8-0.9 2.3-0.6 2.2-1.4 2.1-2.1 2-2.1 2.7-1.4 3.4-0.4 2.7-0.7 2.3-1.4 2.5-1.4 2.4-1.6 2.7-1.7 3.4-1.9 3-1.7 1.6-1.1 1.7-0.6 3.4-1.4 3.7-2.2 2.6-1.7 2.6-1.6 2.6-1.6 2.3-1.1 1.7-0.2 1.9,0.2 3.7-0.8 4-2.2 2.3-1.8 1.9-1.3 2.1-1.4 2.5-0.9 3.2-0.6 3.6-1.5 2.9-1.8 1.4-1.1 1.1-0.8 1.4-1.9 1.8-2.1 3.1-1.8 3.8-1 3.7-0.6 4.7-0.5 3.4-0.3 1.6-0.8 1.6-0.8 2.3,1.6 1.1,3.7 -1.2,3.2 -3.1,2.5 -2.8,1.2 -2.2,1.2 -2.6,2 -3.4,1.7 -3.4,1.4 -2.3,1.8 -1.1,2.7 -0.7,2.2 -0.3,1.5 -1,1.7 -2.6,0.7 -3.2,0.3 -3,0.4 -3.5,2.3 -2.6,4.2 -2.2,2.5 -3.5,0 -3.1-0.1 -1.8,1.6 -1.8,2.1 -2.8,1.4 -2.9,0.9 -3.2,0.8 -3,1.1 -2,1.3 -2.6,1.9 -3.2,1.8 -2.7,1.2 -1.6,1.4 -1.4,1.8 -2.1,2.2 -2.6,2.1 -2.7,1.4 -2.7,0.8 -2.7,1 -3,2 -2.9,2.2 -1.8,1.3 -1.5,1.4 -1.8,2.3 -2.6,2.4 -3.1,1.4 -2.2,1.6 -2,2.6 -2.4,2.2 -2.4,1.7 -2.5,1.4 -2.3,1 -2.1,0.9 -2.5,1.1 -2.3,1.3 -2.9,1.6 -3.1,1.9 -2.7,1.6 -2.5,1.7 -2.4,1.5 -2.4,0.9 -2.5,1 -2.2,1 -2.1,0.3 M333,171.4l-0.8-1 -0.2-2.1 0.4-2.6 1.4-2.6 1.3-3 0.9-3.3 0.7-3.5 1.2-3.5 1.6-2.8 2.1-1.8 2.7-0.9 2.6-1.5 2.1-2.2 1.6-1.8 1.9-2 2.5-2.9 3.1-3.4 2.6-2.6 1.9-2.2 1.3-1.4 1.9-1 2.3-0.8 2.1-1.2 2-1.7 2.4-1.3 3-1.1 2.9-1.6 2.4-2.2 1.7-2 2.2-0.5 3.5-0.2 2.9-1.6 1.5-2.1 2.1-1.1 2.9-0.9 2.7-1.3 3.1-1.1 4-1.5 2.7-1.1 1-0.2 2-0.5 4.2-2.1 4.3-2 2.6-1.1 1.6-1.6 1.3-2.1 2.1-1.8 3-0.6 3.7-0.9 1.6-1.1 0.3-0.5 2.4-1.6 4.1-2.4 3.3-2.5 2.9-1.8 3.6-0.9 3.1-0.6 1.1,0.2 0.9-0.8 2.5-2.6 3.1-2.2 3.7-0.7 4,0 2.7,1 2.1,1.2 1.8,1.7 0.5,2.7 -0.8,3.2 -2,2 -2.2,0.9 -2.2,1.2 -2.2,1.1 -2.7,1.9 -2.8,2.8 -2.7,1.9 -2.6,1.3 -1.7,1.3 -1.2,1 -2.8,2 -3.3,3 -2.8,1.9 -2.3,1.2 -2.3,1.7 -2.8,1.3 -3.2,0.8 -3.1,1 -2.4,1.3 -1.4,1.7 -1.7,2.1 -3.3,1.9 -2.8,0.8 -1.4,1 -2.4,1.2 -4,1.3 -2.9,1.6 -1.6,1 -2.4,1 -3.6,1.4 -2.9,1.9 -1.5,2.5 -1.1,1.8 -1.9,0.9 -2.4,0.7 -2.6,1.5 -2.4,1.9 -2.2,2.4 -2.5,2.4 -2.8,1.6 -2.7,1.7 -2.2,2.4 -1.8,2.1 -2.4,1.1 -2.3,0.4 -1.8,1.4 -2.2,1.6 -2.8,1.5 -2.3,1.4 -1.4,0.7 -2.2,1 -4,2.2 -3.8,2.8 -2.6,2 -2.6,0.6 -2.5,0.3 -2,1.3 -1.6,2.4 -2.5,1.8 -2.8,1 -2.3,0.1"/>
</g>
<g stroke="#262626" stroke-width="1.25" fill="none"><rect x="317.2" y="20.5" width="184.60" height="175.10"/><path d="M409.50,20.5 v2.0 M409.50,195.6 v-2.0 M317.2,108.05 h2.0 M501.8,108.05 h-2.0"/></g>
<polygon fill="#6C2CAC" points="371.5,111.9 416.8,86.0 418.7,89.5 430.4,73.6 410.8,75.6 412.8,79.1 367.5,104.9"/>
<polygon fill="#00B050" points="437.7,116.2 394.5,145.7 392.2,142.4 381.9,159.2 401.3,155.7 399.0,152.3 442.3,122.8"/>
<text transform="translate(409.30,15.50) scale(0.995,1)" font-size="13.3" text-anchor="middle" font-weight="bold" stroke="#262626" stroke-width="0.25">(b) Urea 1.0 molal</text>
<text transform="translate(312.10,26.10) scale(0.93,1)" font-size="13.7" text-anchor="end" font-weight="normal" >0.3</text>
<text transform="translate(312.10,113.45) scale(0.93,1)" font-size="13.7" text-anchor="end" font-weight="normal" >0</text>
<text transform="translate(311.80,200.40) scale(0.93,1)" font-size="13.7" text-anchor="end" font-weight="normal" >-0.3</text>
<text transform="translate(316.20,213.30) scale(0.93,1)" font-size="13.7" text-anchor="middle" font-weight="normal" >-0.3</text>
<text transform="translate(409.50,213.30) scale(0.93,1)" font-size="13.7" text-anchor="middle" font-weight="normal" >0</text>
<text transform="translate(501.80,213.30) scale(0.93,1)" font-size="13.7" text-anchor="middle" font-weight="normal" >0.3</text>
<text transform="translate(398.20,232.40) scale(1.06,1)" font-size="16">A<tspan font-size="13.5" dy="7.6" dx="-0.6">D</tspan></text>
<text transform="translate(277.60,117.15) rotate(-90)" font-size="16.5"><tspan font-style="italic" textLength="9.3" lengthAdjust="spacingAndGlyphs">γ</tspan><tspan font-size="13.5" dy="8.3" dx="-0.3">D</tspan></text>
<g stroke="#dcdcdc" stroke-width="1" fill="none"><line x1="142.20" y1="276.5" x2="142.20" y2="451.1"/><line x1="50.1" y1="363.80" x2="234.3" y2="363.80"/></g>
<g fill="none" stroke-width="1.3" stroke-linejoin="round">
<path stroke="#0072BD" d="M124.9,381.8l-0.7-0.9 -0.5-1.3 -0.2-1.6 0.1-1.8 0.4-1.7 0.8-1.6 1-1.4 1.3-1.2 1.4-1.1 1.4-1.1 1.3-1.1 1.3-1.1 1.3-1.1 1.3-1 1.3-1 1.3-0.9 1.3-1 1.4-0.9 1.4-0.9 1.4-0.9 1.5-0.9 1.5-0.8 1.5-0.8 1.5-0.9 1.5-0.8 1.6-0.9 1.5-0.9 1.6-0.7 1.7-0.5 1.7-0.2 1.5,0.1 1.2,0.4 0.7,0.9 0.1,1.1 -0.4,1.4 -0.8,1.5 -1,1.5 -1.1,1.3 -1.3,1.1 -1.2,1.1 -1.4,1 -1.3,1.1 -1.4,1 -1.4,1.1 -1.4,1 -1.4,1.1 -1.4,1.1 -1.4,1 -1.4,1 -1.3,1 -1.4,1 -1.3,1 -1.3,0.9 -1.4,1 -1.4,1 -1.4,1.1 -1.5,1.1 -1.5,1.1 -1.6,0.9 -1.4,0.8 -1.4,0.5 -1.2,0.1 -1-0.3 M124.9,381.8l-0.8-0.9 -0.5-1.4 -0.2-1.5 0.1-1.7 0.4-1.6 0.9-1.5 1.1-1.2 1.4-1.2 1.5-1.1 1.5-1 1.4-1.1 1.3-1.2 1.2-1.1 1.2-1.2 1.2-1.1 1.2-1.1 1.2-1.1 1.3-1 1.4-0.9 1.4-0.9 1.5-0.8 1.6-0.8 1.5-0.8 1.6-0.9 1.6-0.8 1.6-0.9 1.6-0.9 1.6-0.7 1.6-0.4 1.6-0.2 1.5,0.2 1.2,0.5 0.6,0.9 0.1,1.2 -0.4,1.5 -0.7,1.5 -1,1.5 -1.2,1.3 -1.2,1.1 -1.4,1 -1.4,1 -1.5,1 -1.5,1 -1.4,1 -1.5,1.1 -1.4,1 -1.4,1 -1.4,1.1 -1.3,1 -1.2,1 -1.3,1 -1.2,0.9 -1.2,1 -1.3,1 -1.3,1 -1.3,1.1 -1.5,1.1 -1.5,1 -1.6,1 -1.5,0.8 -1.5,0.4 -1.3,0.1 -1-0.3 M124.9,381.8l-0.7-0.9 -0.4-1.3 -0.1-1.5 0.2-1.7 0.5-1.7 0.8-1.5 1-1.4 1.3-1.2 1.3-1.1 1.4-1.1 1.3-1.1 1.2-1.2 1.2-1.1 1.3-1.1 1.2-1 1.3-1.1 1.3-1 1.3-1 1.3-0.9 1.4-0.9 1.5-0.9 1.5-0.9 1.4-0.9 1.6-0.9 1.4-0.8 1.5-0.9 1.5-0.9 1.5-0.6 1.5-0.5 1.6-0.2 1.5,0.2 1.1,0.5 0.7,0.9 0.1,1.2 -0.3,1.4 -0.6,1.6 -0.9,1.5 -1,1.4 -1.1,1.2 -1.2,1.2 -1.3,1.1 -1.4,1.1 -1.4,1.1 -1.4,1 -1.4,1.1 -1.4,1 -1.4,1 -1.3,1 -1.3,1 -1.2,0.9 -1.3,0.9 -1.2,0.9 -1.3,0.9 -1.4,1 -1.4,1 -1.5,1.1 -1.5,1 -1.6,1.1 -1.5,0.9 -1.6,0.8 -1.4,0.5 -1.2,0.1 -1-0.3"/>
<path stroke="#D95319" d="M114.9,388.8l-0.5-0.9 0.1-1.2 0.6-1.6 0.9-1.7 1.1-1.8 1.1-1.8 1.2-1.7 1.3-1.5 1.3-1.5 1.4-1.5 1.4-1.5 1.5-1.5 1.5-1.4 1.5-1.5 1.6-1.3 1.6-1.4 1.7-1.3 1.6-1.2 1.6-1.2 1.5-1.1 1.6-1.1 1.6-0.9 1.7-0.9 1.8-0.8 1.7-0.9 1.9-0.9 1.8-0.9 1.8-0.9 1.9-1 1.8-1.1 1.9-1.1 1.8-0.9 2-0.8 2-0.6 1.9-0.3 1.8,0 1.4,0.4 0.8,0.8 0.2,1.3 -0.4,1.5 -0.9,1.7 -1.2,1.7 -1.5,1.7 -1.6,1.5 -1.6,1.3 -1.7,1.2 -1.7,1.2 -1.6,1.2 -1.6,1.1 -1.6,1.1 -1.6,1.1 -1.6,1.1 -1.6,1 -1.7,1.1 -1.7,1 -1.7,1.1 -1.7,1.1 -1.7,1.1 -1.6,1.1 -1.7,1.1 -1.6,1.2 -1.6,1.2 -1.6,1.2 -1.7,1.3 -1.7,1.2 -1.6,1.3 -1.7,1.2 -1.8,1.1 -1.8,1.1 -1.9,1.1 -2,0.8 -1.8,0.6 -1.5,0.2 -1.1-0.3 M114.9,388.8l-0.5-0.9 0-1.3 0.4-1.6 0.7-1.9 1-1.9 1.2-1.8 1.3-1.7 1.4-1.5 1.4-1.5 1.4-1.3 1.5-1.3 1.6-1.3 1.5-1.2 1.5-1.3 1.6-1.3 1.6-1.3 1.6-1.2 1.6-1.3 1.6-1.2 1.6-1.2 1.6-1.2 1.7-1.1 1.7-1 1.8-1 1.8-0.9 1.8-1 1.9-0.9 1.9-1 2-1 1.9-1.1 1.9-1 2-0.9 1.9-0.7 2-0.4 1.8-0.1 1.7,0.1 1.2,0.5 0.7,0.8 0,1.1 -0.5,1.5 -0.9,1.5 -1.2,1.7 -1.5,1.6 -1.5,1.4 -1.6,1.3 -1.6,1.2 -1.6,1.2 -1.7,1.1 -1.6,1.1 -1.6,1.1 -1.7,1.1 -1.6,1.1 -1.6,1.1 -1.6,1.2 -1.6,1.1 -1.7,1.1 -1.6,1.1 -1.7,1.2 -1.7,1.2 -1.6,1.2 -1.7,1.2 -1.6,1.2 -1.6,1.2 -1.6,1.2 -1.6,1.2 -1.7,1.2 -1.6,1.1 -1.8,1.1 -1.8,1 -1.9,1 -2,0.8 -1.9,0.6 -1.7,0.2 -1.1-0.3 M114.9,388.8l-0.5-0.8 0.2-1.2 0.6-1.5 0.9-1.7 1.1-1.9 1.2-1.7 1.2-1.6 1.3-1.5 1.4-1.4 1.4-1.4 1.4-1.4 1.5-1.5 1.5-1.4 1.4-1.5 1.5-1.5 1.5-1.4 1.6-1.4 1.6-1.3 1.6-1.2 1.7-1.1 1.7-1 1.7-1 1.8-1 1.7-0.9 1.7-0.9 1.8-1 1.7-1 1.8-1 1.7-1 1.9-1 1.9-1 1.9-0.9 2-0.8 2-0.5 1.9-0.3 1.6,0 1.3,0.5 0.7,0.8 0.1,1.3 -0.3,1.5 -0.8,1.8 -1.1,1.8 -1.3,1.7 -1.5,1.5 -1.5,1.3 -1.7,1.1 -1.7,1.1 -1.7,1 -1.7,1.1 -1.7,1.1 -1.7,1.1 -1.6,1.1 -1.7,1.2 -1.6,1.2 -1.6,1.1 -1.7,1.2 -1.6,1.1 -1.6,1.1 -1.7,1.1 -1.6,1 -1.6,1.1 -1.7,1.1 -1.6,1.1 -1.7,1.2 -1.6,1.2 -1.7,1.3 -1.7,1.2 -1.8,1.2 -1.8,1.2 -1.9,1 -2,0.8 -1.9,0.5 -1.5,0.2 -1.1-0.2"/>
<path stroke="#EDB120" d="M105.8,396.3l-0.3-0.9 0.3-1.6 0.7-1.9 1.2-2 1.3-2 1.6-2 1.5-1.9 1.5-1.8 1.6-1.8 1.6-1.6 1.6-1.6 1.7-1.5 1.6-1.5 1.6-1.6 1.6-1.5 1.6-1.6 1.6-1.5 1.6-1.5 1.7-1.5 1.9-1.5 1.8-1.4 1.9-1.3 1.9-1.4 2-1.2 2-1.2 2-1.1 2.1-1 2.2-1 2.2-1 2.2-0.9 2.1-1 2.2-1 2.1-1.1 2.1-1.1 2.1-1.1 2.1-1 2.2-1 2.3-0.8 2.3-0.7 2.4-0.5 2.2-0.2 1.9,0 1.5,0.4 0.8,0.8 0.1,1.1 -0.5,1.5 -1.2,1.7 -1.5,1.8 -1.8,1.8 -1.9,1.6 -2,1.5 -2,1.4 -2,1.2 -1.9,1.2 -1.9,1.1 -2,1.2 -1.9,1.1 -2,1.2 -2,1.2 -2,1.3 -2,1.2 -2,1.4 -1.9,1.3 -2,1.4 -1.9,1.4 -2,1.3 -1.9,1.3 -2,1.3 -1.9,1.2 -1.8,1.3 -1.8,1.2 -1.7,1.3 -1.8,1.3 -1.8,1.3 -1.8,1.4 -2,1.3 -1.9,1.2 -2,1.3 -2,1.3 -2.1,1.2 -2.1,1.3 -2.3,1.4 -2.2,1.1 -2.1,0.8 -1.6,0.4 -1-0.2 M105.8,396.3l-0.4-0.9 0.3-1.5 0.7-1.9 1.2-1.9 1.5-1.9 1.6-2 1.7-1.9 1.5-1.8 1.6-1.8 1.5-1.8 1.5-1.7 1.5-1.7 1.6-1.5 1.6-1.5 1.6-1.5 1.7-1.5 1.8-1.5 1.9-1.6 1.9-1.5 1.9-1.4 2-1.5 1.9-1.4 1.9-1.4 1.9-1.2 1.9-1.2 2-1.1 2-1 2-1.1 2-1 2.1-1 2.1-0.9 2.1-1 2.2-0.9 2.1-1 2.2-1 2.2-1 2.2-1 2.2-0.8 2.2-0.7 2.2-0.5 2.2-0.3 1.8,0 1.4,0.5 0.8,0.8 0.1,1.2 -0.5,1.5 -1,1.8 -1.5,1.9 -1.7,1.8 -1.8,1.7 -2,1.6 -2,1.4 -2,1.2 -2.1,1.2 -2,1.1 -2.1,1 -2,1.1 -2,1.1 -2,1.2 -1.9,1.2 -1.9,1.3 -1.9,1.3 -1.8,1.3 -1.9,1.3 -1.8,1.3 -1.9,1.2 -1.9,1.3 -2,1.2 -1.9,1.3 -1.8,1.3 -1.9,1.3 -1.9,1.3 -1.9,1.3 -1.8,1.3 -1.9,1.4 -1.8,1.3 -1.9,1.3 -2,1.3 -2,1.3 -2.2,1.2 -2.2,1.3 -2.2,1.2 -2.2,1.1 -2,0.8 -1.6,0.5 -1-0.2 M105.8,396.3l-0.4-0.9 0.3-1.5 0.8-1.8 1.1-2 1.5-2 1.6-2 1.7-1.9 1.6-1.9 1.6-1.7 1.6-1.7 1.6-1.7 1.5-1.6 1.6-1.7 1.6-1.6 1.6-1.5 1.7-1.5 1.7-1.4 1.7-1.5 1.8-1.4 1.8-1.5 1.8-1.5 1.9-1.4 1.9-1.4 2-1.2 2-1.1 2.1-1.1 2.1-1 2.1-1 2-1 2.1-1 2-1.1 2-1 2-1.1 2.1-1 2.1-1.1 2.1-1 2.2-1 2.2-0.9 2.3-0.7 2.3-0.6 2.3-0.2 1.9,0 1.4,0.5 0.9,1 0.2,1.4 -0.5,1.7 -1,1.9 -1.3,2 -1.7,1.9 -1.8,1.7 -1.8,1.4 -2,1.2 -2,1.1 -2.1,1 -2.1,1 -2,1 -2,1.1 -2,1.2 -1.9,1.2 -1.8,1.3 -1.9,1.3 -1.9,1.3 -2,1.3 -1.9,1.4 -1.9,1.3 -2,1.4 -1.9,1.2 -1.9,1.3 -1.9,1.2 -2,1.3 -2,1.2 -1.9,1.3 -2,1.4 -2,1.4 -1.9,1.3 -2,1.4 -2,1.3 -2,1.2 -2,1.2 -2.1,1.1 -2.2,1.2 -2.2,1.2 -2,1.1 -1.8,1 -1.6,0.5 -1-0.2"/>
<path stroke="#7E2F8E" d="M95.8,404l-0.4-1.2 0.2-1.8 0.8-2.2 1.2-2.1 1.7-2.1 1.8-2 1.8-1.8 1.9-1.8 1.8-1.8 1.8-1.7 1.8-1.8 1.8-1.7 1.8-1.9 1.7-1.8 1.8-1.8 1.8-1.8 1.9-1.7 1.9-1.8 1.9-1.7 1.9-1.6 1.8-1.6 1.9-1.6 2-1.5 2-1.4 2-1.4 2.2-1.2 2.2-1.2 2.3-1.2 2.3-1.1 2.3-1.1 2.3-1.1 2.3-1.1 2.3-1.1 2.2-1.1 2.3-1.2 2.3-1.2 2.2-1.1 2.3-1.1 2.2-1 2.3-1 2.4-0.9 2.5-0.9 2.6-0.8 2.7-0.8 2.7-0.7 2.5-0.3 2.1,0 1.5,0.4 0.7,0.9 -0.1,1.4 -0.8,1.8 -1.5,2 -1.8,2.2 -2.2,2.1 -2.3,1.9 -2.3,1.7 -2.2,1.4 -2.2,1.2 -2.1,1.1 -2.1,1.1 -2.1,1.1 -2.1,1.2 -2.1,1.2 -2.1,1.3 -2,1.3 -1.9,1.3 -2,1.4 -2,1.4 -2,1.4 -2.1,1.5 -2.1,1.5 -2.2,1.4 -2.2,1.4 -2.3,1.4 -2.2,1.4 -2.2,1.4 -2.1,1.4 -2.1,1.3 -2.1,1.4 -2.1,1.3 -2.1,1.3 -2.1,1.3 -2.1,1.3 -2,1.3 -2,1.3 -1.9,1.2 -2,1.3 -2,1.3 -2.1,1.4 -2.2,1.4 -2.4,1.5 -2.4,1.5 -2.4,1.3 -2.2,1.1 -1.7,0.4 -1.1-0.3 M95.8,404l-0.4-1.4 0.3-1.9 0.8-2.2 1.4-2.2 1.6-2.1 1.9-1.9 1.8-1.8 1.9-1.8 1.8-1.8 1.8-1.7 1.8-1.8 1.8-1.7 1.7-1.8 1.8-1.7 1.7-1.8 1.8-1.7 1.7-1.7 1.9-1.7 1.8-1.6 1.8-1.6 1.9-1.6 2-1.5 2-1.5 2.1-1.4 2.2-1.4 2.2-1.4 2.2-1.2 2.1-1.3 2.1-1.1 2.2-1.2 2.2-1.1 2.2-1.1 2.3-1.1 2.3-1.1 2.2-1.1 2.3-1 2.3-1.1 2.3-1 2.4-1 2.3-1 2.4-0.9 2.4-0.9 2.5-0.7 2.6-0.7 2.5-0.5 2.4-0.3 2.1,0 1.5,0.5 0.9,0.8 0,1.3 -0.7,1.6 -1.2,1.8 -1.7,1.9 -2,1.9 -2.2,1.9 -2.3,1.6 -2.2,1.5 -2.2,1.4 -2.2,1.2 -2.1,1.2 -2.2,1.2 -2.1,1.3 -2.2,1.2 -2.1,1.2 -2,1.2 -2,1.2 -2,1.3 -2.1,1.3 -2,1.5 -2.1,1.5 -2.2,1.6 -2.1,1.5 -2.1,1.5 -2.1,1.4 -2.1,1.3 -2.1,1.3 -2.1,1.3 -2.1,1.3 -2.2,1.2 -2.2,1.3 -2.2,1.3 -2.2,1.3 -2.2,1.3 -2.2,1.4 -2.1,1.3 -2,1.3 -2,1.3 -2,1.4 -2.1,1.4 -2.2,1.4 -2.3,1.5 -2.4,1.5 -2.3,1.4 -2,1 -1.6,0.4 -1.1-0.3 M95.8,404l-0.5-1.2 0.1-1.8 0.7-2.2 1.2-2.1 1.7-2.1 1.9-2 1.9-2 1.9-1.8 1.7-1.8 1.8-1.7 1.8-1.8 1.8-1.7 1.8-1.6 1.8-1.7 1.9-1.7 1.9-1.6 1.9-1.8 2-1.7 1.9-1.8 1.9-1.8 1.8-1.8 1.9-1.6 1.9-1.6 1.9-1.4 2.1-1.4 2.2-1.3 2.2-1.2 2.3-1.2 2.3-1.1 2.3-1.2 2.2-1.1 2.3-1 2.2-1 2.2-1 2.3-1 2.3-1 2.3-1 2.4-1.1 2.4-1.1 2.3-1.1 2.4-1 2.3-0.9 2.5-0.8 2.6-0.7 2.6-0.6 2.4-0.3 2.1,0 1.5,0.3 0.7,0.8 -0.1,1.3 -0.7,1.7 -1.3,1.9 -1.7,2 -2.1,2.1 -2.2,1.9 -2.2,1.7 -2.2,1.5 -2.2,1.3 -2.1,1.1 -2,1.1 -2,1 -2,1 -2,1.2 -2.1,1.2 -2.2,1.3 -2.2,1.3 -2.2,1.4 -2.2,1.5 -2.1,1.5 -2.1,1.5 -2.1,1.5 -2.1,1.5 -2.1,1.5 -2.1,1.3 -2.2,1.3 -2.2,1.3 -2.2,1.4 -2.2,1.4 -2.2,1.4 -2.1,1.4 -2.1,1.4 -2.1,1.3 -2,1.4 -2,1.3 -2.1,1.3 -2,1.4 -2,1.3 -2.1,1.4 -2.1,1.4 -2.3,1.4 -2.4,1.5 -2.5,1.5 -2.2,1.2 -2,0.9 -1.6,0.4 -1.1-0.3"/>
<path stroke="#77AC30" d="M84.7,412.1l-1-1.6 -0.3-2.3 0.3-2.5 1.2-2.5 1.7-2.2 2.1-2.1 2.1-2 2.1-1.8 2-1.6 2-1.6 2-1.6 2-1.7 2-1.7 2-1.7 2-1.8 1.9-1.9 1.8-1.8 1.9-1.9 2-1.8 2.1-1.8 2.1-1.8 2.2-1.6 2.1-1.5 2.2-1.5 2.1-1.4 2.1-1.5 2.1-1.5 2.2-1.4 2.2-1.4 2.2-1.4 2.3-1.3 2.4-1.4 2.5-1.3 2.4-1.3 2.5-1.2 2.5-1.2 2.5-1.1 2.6-1.1 2.5-1 2.5-1 2.4-1.1 2.3-1 2.4-1.1 2.3-1.2 2.4-1 2.4-1.1 2.5-0.9 2.7-0.9 2.8-0.8 2.9-0.8 2.7-0.5 2.6-0.4 2.1,0 1.7,0.4 1,0.8 0.2,1.1 -0.6,1.5 -1.3,1.8 -1.7,2 -2.2,2 -2.5,2 -2.5,1.9 -2.4,1.6 -2.4,1.4 -2.2,1.4 -2.1,1.3 -2.2,1.3 -2.1,1.4 -2.1,1.3 -2.1,1.3 -2.1,1.4 -2.2,1.3 -2.2,1.4 -2.2,1.3 -2.3,1.4 -2.3,1.4 -2.2,1.4 -2.4,1.5 -2.3,1.6 -2.4,1.5 -2.3,1.5 -2.4,1.5 -2.3,1.5 -2.4,1.4 -2.3,1.3 -2.3,1.3 -2.2,1.3 -2.3,1.4 -2.2,1.4 -2.2,1.5 -2.2,1.5 -2.2,1.4 -2.2,1.4 -2.2,1.3 -2.2,1.3 -2.2,1.4 -2.2,1.5 -2.1,1.5 -2.1,1.7 -2.1,1.7 -2.2,1.7 -2.4,1.8 -2.6,1.7 -2.6,1.6 -2.6,1.1 -2.2,0.7 -1.9,0.1 -1.4-0.6 M84.7,412.1l-1-1.6 -0.4-2.2 0.2-2.5 0.9-2.4 1.8-2.2 2.1-2 2.3-2 2.1-1.9 2.1-1.9 2-1.9 2-1.7 2-1.8 2-1.6 2-1.7 2-1.7 2.1-1.6 2.1-1.8 2.1-1.7 2.1-1.7 1.9-1.8 1.9-1.8 1.9-1.8 2-1.8 2-1.6 2.2-1.6 2.1-1.5 2.2-1.5 2.3-1.4 2.3-1.5 2.3-1.4 2.3-1.3 2.4-1.3 2.4-1.3 2.4-1.1 2.4-1.1 2.4-1 2.5-0.9 2.3-1 2.3-0.9 2.3-1.1 2.3-1.1 2.4-1.2 2.4-1.2 2.5-1.3 2.5-1.1 2.7-1 2.6-0.9 2.8-0.9 2.8-0.8 2.9-0.8 2.9-0.5 2.7-0.2 2.2,0 1.6,0.4 1,0.7 0.1,1.1 -0.6,1.4 -1.3,1.8 -1.7,1.9 -2.1,2.1 -2.3,2 -2.5,1.9 -2.6,1.8 -2.4,1.5 -2.4,1.4 -2.2,1.2 -2.3,1.2 -2.1,1.1 -2.2,1.2 -2.2,1.3 -2.2,1.3 -2.2,1.4 -2.1,1.5 -2.1,1.5 -2.1,1.5 -2.2,1.5 -2.3,1.5 -2.3,1.5 -2.4,1.4 -2.5,1.5 -2.5,1.5 -2.4,1.5 -2.3,1.5 -2.3,1.4 -2.2,1.5 -2.2,1.3 -2.3,1.4 -2.2,1.3 -2.3,1.3 -2.2,1.3 -2.3,1.3 -2.2,1.4 -2.3,1.4 -2.2,1.4 -2.2,1.4 -2.2,1.4 -2.2,1.4 -2.1,1.5 -2.1,1.5 -2.2,1.6 -2.3,1.8 -2.5,1.7 -2.4,1.8 -2.5,1.7 -2.3,1.3 -2.1,0.8 -1.9,0.2 -1.5-0.6 M84.7,412.1l-1-1.6 -0.4-2.3 0.3-2.5 1.1-2.4 1.8-2.2 2.1-1.9 2.2-1.8 2.1-1.8 2.1-1.7 2.1-1.6 2-1.7 2.1-1.8 2-1.7 1.9-1.8 2-1.9 2-1.9 2-2 2-1.8 1.9-1.9 1.9-1.7 2-1.8 2-1.7 2.1-1.7 2.2-1.6 2.2-1.6 2.2-1.5 2.3-1.4 2.2-1.3 2.2-1.3 2.3-1.3 2.3-1.3 2.3-1.3 2.4-1.3 2.5-1.3 2.4-1.3 2.5-1.2 2.4-1.2 2.5-1.1 2.5-1.1 2.5-1.1 2.4-1 2.3-1 2.3-0.9 2.3-0.9 2.4-1 2.5-1 2.6-1 2.7-0.9 2.7-0.9 2.8-0.7 2.9-0.6 2.7-0.4 2.4,0 1.8,0.3 1.1,0.7 0.1,1.2 -0.7,1.5 -1.5,1.9 -1.9,2.1 -2.3,2.1 -2.5,2 -2.5,1.9 -2.5,1.7 -2.4,1.4 -2.3,1.4 -2.2,1.2 -2.1,1.2 -2.1,1.2 -2.1,1.2 -2.2,1.2 -2.1,1.3 -2.2,1.4 -2.2,1.5 -2.2,1.5 -2.3,1.6 -2.4,1.6 -2.3,1.5 -2.4,1.4 -2.4,1.4 -2.4,1.4 -2.3,1.3 -2.3,1.4 -2.2,1.4 -2.1,1.4 -2.2,1.5 -2.2,1.5 -2.2,1.5 -2.3,1.4 -2.4,1.4 -2.3,1.3 -2.3,1.3 -2.4,1.4 -2.3,1.3 -2.2,1.5 -2.3,1.4 -2.2,1.6 -2.1,1.5 -2.1,1.6 -2.1,1.5 -2.2,1.6 -2.2,1.5 -2.3,1.6 -2.5,1.6 -2.4,1.5 -2.3,1.4 -2.2,0.9 -1.9,0.2 -1.5-0.6"/>
<path stroke="#4DBEEE" d="M76,417.5l-1.3-1.6 -0.7-2.2 -0.1-2.6 0.7-2.7 1.2-2.6 1.8-2.3 2-2.1 2.2-2 2.2-1.9 2.2-1.8 2.2-1.8 2.1-1.7 2.2-1.7 2.1-1.7 2.3-1.7 2.3-1.7 2.3-1.7 2.3-1.7 2.3-1.7 2.2-1.7 2.1-1.7 2.2-1.7 2.1-1.7 2.1-1.7 2.1-1.6 2.2-1.7 2.2-1.7 2.3-1.7 2.4-1.5 2.3-1.5 2.4-1.4 2.5-1.3 2.5-1.4 2.7-1.3 2.7-1.2 2.6-1.1 2.5-1.1 2.5-1.1 2.5-1.1 2.4-1.2 2.5-1.2 2.5-1.2 2.6-1.1 2.6-1.1 2.6-1.1 2.5-1 2.5-1.1 2.4-1 2.4-1.1 2.5-1 2.7-0.9 2.8-0.9 3.1-0.9 3.2-0.7 3.2-0.7 3-0.5 2.8-0.2 2.4-0.1 1.9,0.2 1.2,0.5 0.5,0.8 -0.4,1.2 -1.1,1.5 -1.8,1.7 -2.3,1.9 -2.6,2.1 -2.7,2 -2.7,1.9 -2.5,1.8 -2.3,1.6 -2.3,1.5 -2.2,1.4 -2.2,1.3 -2.3,1.2 -2.2,1.2 -2.4,1.2 -2.5,1.4 -2.5,1.5 -2.5,1.5 -2.4,1.5 -2.3,1.5 -2.4,1.5 -2.3,1.4 -2.4,1.5 -2.5,1.6 -2.6,1.6 -2.5,1.6 -2.5,1.6 -2.4,1.6 -2.5,1.4 -2.5,1.3 -2.5,1.4 -2.3,1.3 -2.3,1.5 -2.4,1.6 -2.3,1.5 -2.4,1.6 -2.3,1.4 -2.3,1.4 -2.3,1.3 -2.3,1.4 -2.2,1.4 -2.3,1.5 -2.2,1.6 -2.2,1.7 -2.1,1.7 -2.2,1.6 -2.3,1.6 -2.3,1.7 -2.4,1.7 -2.6,1.7 -2.6,1.8 -2.8,1.6 -2.7,1.4 -2.5,0.9 -2.4,0.4 -2-0.1 -1.7-0.7 M76,417.5l-1.3-1.6 -0.7-2.2 -0.2-2.5 0.4-2.6 1.1-2.6 1.7-2.4 2.2-2.1 2.3-2 2.3-1.9 2.2-1.7 2.2-1.7 2.1-1.7 2.1-1.7 2.2-1.8 2.2-1.8 2.2-1.7 2.3-1.7 2.3-1.7 2.3-1.6 2.3-1.7 2.3-1.7 2.1-1.7 2.2-1.7 2.1-1.8 2.2-1.6 2.2-1.6 2.2-1.6 2.3-1.6 2.4-1.5 2.5-1.6 2.5-1.6 2.5-1.6 2.6-1.4 2.6-1.3 2.6-1.2 2.6-1.2 2.5-1.2 2.4-1.2 2.4-1.1 2.5-1 2.5-1 2.5-0.9 2.6-1 2.6-0.9 2.5-1.1 2.6-1.1 2.6-1.1 2.6-1.2 2.5-1.2 2.5-1.2 2.6-1.1 2.6-1 2.8-0.8 2.9-0.7 3-0.5 3-0.4 2.9-0.2 2.5,0 2,0.2 1.5,0.4 0.6,0.8 -0.1,1.2 -1,1.5 -1.7,1.7 -2.2,1.8 -2.5,1.9 -2.8,1.9 -2.8,1.8 -2.7,1.8 -2.7,1.6 -2.5,1.6 -2.4,1.5 -2.4,1.4 -2.3,1.4 -2.3,1.5 -2.4,1.4 -2.4,1.5 -2.4,1.5 -2.3,1.4 -2.4,1.4 -2.3,1.4 -2.3,1.5 -2.4,1.4 -2.3,1.5 -2.4,1.4 -2.3,1.5 -2.5,1.4 -2.4,1.4 -2.5,1.4 -2.4,1.4 -2.4,1.4 -2.4,1.4 -2.4,1.4 -2.4,1.4 -2.4,1.4 -2.4,1.4 -2.4,1.5 -2.4,1.5 -2.4,1.5 -2.3,1.6 -2.3,1.5 -2.3,1.6 -2.3,1.5 -2.2,1.6 -2.2,1.7 -2.3,1.7 -2.2,1.7 -2.4,1.6 -2.3,1.7 -2.4,1.7 -2.3,1.7 -2.4,1.7 -2.6,1.5 -2.6,1.4 -2.7,1 -2.5,0.5 -2.1-0.1 -1.7-0.7 M76,417.5l-1.2-1.7 -0.7-2.2 -0.1-2.5 0.4-2.6 1.1-2.5 1.6-2.3 2-2.1 2.1-2 2.2-2 2.3-1.9 2.2-1.8 2.3-1.9 2.2-1.8 2.2-1.7 2.2-1.7 2.2-1.6 2.2-1.7 2.3-1.7 2.2-1.7 2.2-1.7 2.3-1.8 2.2-1.7 2.3-1.6 2.2-1.6 2.3-1.6 2.3-1.5 2.3-1.5 2.3-1.5 2.3-1.5 2.4-1.4 2.5-1.5 2.4-1.3 2.5-1.4 2.5-1.3 2.4-1.3 2.4-1.2 2.5-1.2 2.5-1.2 2.6-1.1 2.6-1.1 2.6-1.2 2.6-1.1 2.6-1.2 2.6-1.1 2.5-1.1 2.5-1 2.5-1 2.5-1 2.5-0.9 2.6-1 2.6-0.9 2.7-1 2.8-1 2.8-0.9 3.1-0.8 3.1-0.6 3.1-0.3 2.8-0.1 2.2,0.2 1.4,0.5 0.4,0.8 -0.5,1.2 -1.3,1.6 -1.8,1.7 -2.3,1.9 -2.4,2 -2.6,1.9 -2.7,1.9 -2.5,1.6 -2.5,1.6 -2.4,1.4 -2.4,1.4 -2.4,1.4 -2.3,1.4 -2.3,1.4 -2.4,1.5 -2.3,1.4 -2.5,1.5 -2.4,1.5 -2.3,1.5 -2.3,1.6 -2.3,1.5 -2.3,1.4 -2.4,1.3 -2.4,1.4 -2.5,1.4 -2.4,1.5 -2.5,1.5 -2.5,1.6 -2.4,1.5 -2.4,1.4 -2.3,1.5 -2.3,1.3 -2.4,1.4 -2.4,1.3 -2.4,1.4 -2.5,1.5 -2.5,1.5 -2.5,1.6 -2.4,1.6 -2.3,1.6 -2.3,1.5 -2.1,1.5 -2.1,1.5 -2.2,1.6 -2.2,1.7 -2.2,1.8 -2.3,1.7 -2.2,1.7 -2.3,1.6 -2.4,1.5 -2.6,1.6 -2.6,1.5 -2.7,1.5 -2.7,1 -2.5,0.6 -2.3,0 -1.8-0.8"/>
<path stroke="#A2142F" stroke-width="1.1" d="M64.3,425.8l-1.4-1.3 -0.4-2.2 0.4-2.8 0.9-3 1.2-3.2 1.2-3.1 1.4-2.8 1.5-2.6 1.7-2.3 1.9-2.1 1.9-2 2.1-1.8 2.1-1.8 2.1-1.8 2.2-1.7 2.4-1.7 2.4-1.6 2.6-1.5 2.5-1.7 2.4-1.7 2.4-1.8 2.4-1.7 2.4-1.6 2.5-1.6 2.6-1.7 2.5-1.8 2.6-1.8 2.6-1.7 2.6-1.5 2.7-1.5 2.7-1.3 2.6-1.4 2.6-1.5 2.5-1.4 2.5-1.5 2.3-1.3 2.3-1.3 2.2-1.3 2.3-1.2 2.3-1.1 2.5-1.1 2.4-1 2.5-1.2 2.7-1.2 2.7-1.3 2.9-1.3 2.9-1.3 2.9-1.2 2.8-1.1 2.8-1.1 2.9-1 2.9-0.9 2.8-0.9 2.7-1 2.7-0.9 2.8-1 2.9-0.9 2.9-0.9 2.8-0.8 2.9-0.7 2.8-0.6 2.8-0.4 2.7-0.3 2.6,0 2.5,0.2 2.3,0.5 1,1.2 -1.1,1.9 -2,2 -2.1,1.7 -2.2,1.5 -2.2,1.5 -2.3,1.7 -2.5,1.9 -2.8,1.9 -2.9,1.9 -2.9,1.6 -2.7,1.4 -2.5,1.4 -2.5,1.4 -2.5,1.5 -2.4,1.6 -2.5,1.6 -2.5,1.6 -2.4,1.5 -2.5,1.6 -2.5,1.4 -2.5,1.3 -2.5,1.2 -2.5,1.3 -2.5,1.3 -2.4,1.6 -2.4,1.6 -2.3,1.6 -2.1,1.5 -2.2,1.4 -2.3,1.5 -2.4,1.5 -2.5,1.6 -2.6,1.6 -2.7,1.5 -2.5,1.6 -2.5,1.5 -2.4,1.5 -2.6,1.5 -2.6,1.5 -2.6,1.6 -2.7,1.6 -2.7,1.5 -2.6,1.5 -2.5,1.5 -2.4,1.6 -2.2,1.6 -2.1,1.6 -2.3,1.6 -2.5,1.6 -2.5,1.5 -2.6,1.5 -2.6,1.5 -2.5,1.5 -2.3,1.6 -2.3,1.6 -2.3,1.5 -2.4,1.5 -2.6,1.2 -2.9,1.1 -3.1,1.1 -3.1,0.8 -2.5,0.1 M64.3,425.8l-1.6-1.2 -0.6-2.1 0.3-2.7 0.8-3.2 1.2-3.3 1.4-3.2 1.5-2.8 1.7-2.5 1.7-2.2 1.9-2 2.1-1.8 2.2-1.9 2.1-2 2.1-2.1 2.1-2 2.1-2 2.2-1.7 2.4-1.4 2.5-1.4 2.6-1.4 2.6-1.5 2.5-1.6 2.5-1.7 2.5-1.7 2.5-1.5 2.5-1.5 2.4-1.3 2.4-1.3 2.4-1.3 2.4-1.4 2.5-1.3 2.5-1.5 2.6-1.6 2.6-1.7 2.7-1.5 2.6-1.5 2.4-1.4 2.3-1.4 2.4-1.4 2.5-1.5 2.5-1.3 2.5-1.3 2.6-1.1 2.5-1 2.6-1 2.7-1.1 2.7-0.9 2.9-1 2.9-1 3-1.1 2.9-1.2 2.9-1.2 2.9-1.2 2.9-1 3-1 3-0.9 3-1 2.9-1 2.8-1 2.8-0.9 2.6-0.7 2.6-0.6 2.4-0.2 2.3,0 2.3,0.2 2.3,0.4 1.2,1 -0.9,1.8 -1.7,2 -2.1,2 -2.3,1.9 -2.3,1.8 -2.4,1.9 -2.4,1.7 -2.5,1.7 -2.7,1.6 -2.9,1.4 -2.9,1.4 -2.7,1.4 -2.6,1.6 -2.4,1.6 -2.4,1.5 -2.4,1.6 -2.4,1.6 -2.5,1.5 -2.5,1.4 -2.6,1.4 -2.6,1.5 -2.4,1.4 -2.4,1.6 -2.1,1.5 -2.2,1.5 -2.3,1.5 -2.4,1.4 -2.6,1.4 -2.6,1.5 -2.5,1.6 -2.6,1.6 -2.5,1.6 -2.6,1.6 -2.6,1.6 -2.4,1.5 -2.5,1.5 -2.4,1.5 -2.5,1.6 -2.5,1.8 -2.5,1.7 -2.5,1.7 -2.6,1.5 -2.6,1.4 -2.7,1.4 -2.6,1.4 -2.5,1.6 -2.4,1.7 -2.2,1.6 -2.2,1.5 -2.2,1.4 -2.2,1.2 -2.4,1.3 -2.3,1.3 -2.4,1.5 -2.4,1.6 -2.4,1.6 -2.5,1.5 -2.6,1.4 -3,1.5 -3.1,1.1 -3.1,0.8 -2.5-0.1 M64.3,425.8l-1.3-1.4 -0.3-2.5 0.4-2.9 0.7-3 0.9-2.9 1.2-2.6 1.4-2.6 1.7-2.5 1.9-2.3 2-2 2-1.9 2-1.7 2.1-1.8 2.1-1.8 2.2-1.9 2.3-1.9 2.4-1.8 2.5-1.8 2.5-1.7 2.5-1.5 2.4-1.6 2.3-1.5 2.2-1.7 2.3-1.6 2.6-1.7 2.7-1.6 2.9-1.6 2.9-1.6 2.7-1.7 2.5-1.6 2.4-1.5 2.2-1.4 2.2-1.3 2.3-1.2 2.3-1.2 2.5-1.1 2.6-1.2 2.7-1.1 2.8-1.3 2.8-1.3 2.7-1.3 2.6-1.2 2.5-1.2 2.6-1.3 2.6-1.4 2.7-1.4 2.7-1.4 2.7-1.3 2.6-1.1 2.6-1.2 2.6-1.1 2.7-1.2 2.8-1.1 3.1-1 3.2-0.9 3.1-0.9 2.9-0.8 2.8-0.9 2.7-0.8 2.8-0.8 2.8-0.7 2.8-0.3 2.6-0.1 2.5,0.1 2.3,0.2 2.2,0.3 1,0.7 -1.1,1.6 -1.7,1.8 -1.9,1.8 -2.1,1.8 -2.2,1.9 -2.5,1.9 -2.7,1.8 -2.6,1.9 -2.6,1.8 -2.5,1.8 -2.5,1.6 -2.5,1.5 -2.5,1.4 -2.5,1.4 -2.5,1.4 -2.5,1.3 -2.6,1.3 -2.8,1.2 -2.7,1.3 -2.7,1.5 -2.5,1.6 -2.4,1.7 -2.3,1.6 -2.3,1.7 -2.3,1.6 -2.2,1.5 -2.4,1.5 -2.5,1.5 -2.7,1.4 -2.9,1.4 -2.8,1.3 -2.6,1.4 -2.4,1.5 -2.3,1.6 -2.3,1.6 -2.5,1.5 -2.6,1.5 -2.6,1.4 -2.6,1.5 -2.5,1.5 -2.5,1.6 -2.5,1.6 -2.4,1.5 -2.4,1.5 -2.4,1.5 -2.4,1.7 -2.3,1.8 -2.3,1.9 -2.4,1.8 -2.4,1.7 -2.5,1.7 -2.6,1.6 -2.5,1.6 -2.5,1.7 -2.4,1.5 -2.5,1.4 -2.6,1.2 -2.7,1 -2.8,1.1 -2.9,1 -2.9,0.8 -2.4-0.1 M64.3,425.8l-1.5-1.1 -0.6-2.1 0.3-2.7 0.7-3 1-3.4 1.2-3.2 1.3-3 1.6-2.6 1.7-2.4 2-2.2 2-2.1 2.2-1.9 2.4-1.9 2.4-1.7 2.4-1.8 2.5-1.6 2.4-1.5 2.4-1.6 2.4-1.5 2.3-1.6 2.2-1.6 2.3-1.6 2.5-1.7 2.6-1.6 2.6-1.5 2.6-1.4 2.6-1.3 2.6-1.4 2.6-1.5 2.7-1.5 2.6-1.4 2.6-1.3 2.5-1.2 2.4-1.2 2.2-1.4 2.3-1.6 2.3-1.5 2.4-1.5 2.7-1.5 2.7-1.3 2.7-1.4 2.7-1.3 2.6-1.3 2.6-1.2 2.6-1.1 2.5-1.1 2.7-1.1 2.7-1.1 2.7-1.2 2.7-1.1 2.7-1.2 2.8-1.3 2.8-1.1 2.9-1.1 3-0.9 3.1-0.8 3-0.7 3-0.5 3-0.6 2.9-0.7 2.9-0.6 2.8-0.6 2.6-0.3 2.4,0 2.2,0.3 2.2,0.4 1.1,1 -0.9,1.7 -1.6,1.8 -2,1.8 -2.2,1.8 -2.7,1.8 -2.8,1.6 -3,1.5 -2.9,1.5 -2.7,1.6 -2.6,1.6 -2.4,1.6 -2.4,1.6 -2.5,1.4 -2.6,1.3 -2.6,1.5 -2.6,1.6 -2.6,1.6 -2.4,1.7 -2.2,1.6 -2.2,1.4 -2.1,1.3 -2.4,1.3 -2.6,1.4 -2.6,1.5 -2.7,1.6 -2.6,1.7 -2.6,1.7 -2.6,1.6 -2.6,1.4 -2.4,1.3 -2.3,1.3 -2.2,1.4 -2.3,1.4 -2.2,1.5 -2.4,1.6 -2.5,1.6 -2.6,1.6 -2.7,1.6 -2.6,1.5 -2.6,1.5 -2.5,1.5 -2.5,1.6 -2.4,1.6 -2.6,1.5 -2.6,1.7 -2.5,1.7 -2.5,1.7 -2.4,1.6 -2.3,1.5 -2.4,1.4 -2.4,1.3 -2.4,1.5 -2.4,1.7 -2.4,1.8 -2.5,1.9 -2.4,1.8 -2.5,1.6 -2.7,1.3 -2.9,0.9 -3,0.8 -2.9,0.6 -2.3-0.3 M68.7,425.9l3.4-0.4 3.1-1 3.1-0.9 3-1 2.9-1.3 2.6-1.6 2.7-1.6 2.6-1.5 2.5-1.8 2.6-1.8 2.5-1.7 2.5-1.8 2.6-1.7 2.6-1.7 2.7-1.7 2.6-1.8 2.7-1.9 2.6-1.8 2.7-1.7 2.8-1.6 2.8-1.6 2.8-1.7 2.7-1.6 2.6-1.7 2.6-1.8 2.5-1.8 2.5-1.9 2.6-1.8 2.5-1.9 2.5-1.8 2.6-1.8 2.7-1.7 2.7-1.7 2.7-1.7 2.7-1.6 2.7-1.6 2.7-1.7 2.7-1.7 2.7-1.6"/>
</g>
<g stroke="#262626" stroke-width="1.25" fill="none"><rect x="50.1" y="276.5" width="184.20" height="174.60"/><path d="M142.20,276.5 v2.0 M142.20,451.1 v-2.0 M50.1,363.80 h2.0 M234.3,363.80 h-2.0"/></g>
<polygon fill="#6C2CAC" points="102.9,367.6 148.1,342.2 150.0,345.7 161.8,329.9 142.2,331.7 144.1,335.2 99.0,360.6"/>
<polygon fill="#00B050" points="177.9,367.7 133.8,395.6 131.6,392.2 120.7,408.6 140.2,405.7 138.1,402.4 182.1,374.5"/>
<text transform="translate(142.00,271.50) scale(0.995,1)" font-size="13.3" text-anchor="middle" font-weight="bold" stroke="#262626" stroke-width="0.25">(c) Urea 2.0 molal</text>
<text transform="translate(45.00,282.10) scale(0.93,1)" font-size="13.7" text-anchor="end" font-weight="normal" >0.3</text>
<text transform="translate(45.00,369.20) scale(0.93,1)" font-size="13.7" text-anchor="end" font-weight="normal" >0</text>
<text transform="translate(44.70,455.90) scale(0.93,1)" font-size="13.7" text-anchor="end" font-weight="normal" >-0.3</text>
<text transform="translate(49.10,468.80) scale(0.93,1)" font-size="13.7" text-anchor="middle" font-weight="normal" >-0.3</text>
<text transform="translate(142.20,468.80) scale(0.93,1)" font-size="13.7" text-anchor="middle" font-weight="normal" >0</text>
<text transform="translate(234.30,468.80) scale(0.93,1)" font-size="13.7" text-anchor="middle" font-weight="normal" >0.3</text>
<text transform="translate(130.90,487.90) scale(1.06,1)" font-size="16">A<tspan font-size="13.5" dy="7.6" dx="-0.6">D</tspan></text>
<text transform="translate(10.50,372.90) rotate(-90)" font-size="16.5"><tspan font-style="italic" textLength="9.3" lengthAdjust="spacingAndGlyphs">γ</tspan><tspan font-size="13.5" dy="8.3" dx="-0.3">D</tspan></text>
<g stroke="#dcdcdc" stroke-width="1" fill="none"><line x1="409.50" y1="276.5" x2="409.50" y2="451.1"/><line x1="317.2" y1="363.80" x2="501.8" y2="363.80"/></g>
<g fill="none" stroke-width="1.0" stroke-linejoin="round">
<path stroke="#0072BD" d="M390.3,371l0.3-0.8 1-0.8 1.1-0.9 1.2-0.7 1.4-0.7 1.4-0.7 1.3-0.7 1.5-0.7 1.5-0.7 1.6-0.8 1.6-0.9 1.6-0.7 1.4-0.6 1.1-0.5 1-0.4 0.9-0.4 1.1-0.5 1.4-0.6 1.7-0.5 1.9-0.4 1.8-0.4 1.7-0.6 1.5-0.7 1.3-0.7 1.2-0.5 1.1-0.3 1.2-0.1 1.1,0.2 0.8,0.2 0.3,0.4 -0.4,0.3 -0.9,0.6 -0.8,1.1 -0.5,1.4 -0.5,1.4 -0.7,1.2 -1,1.1 -1.2,1.1 -1.1,1 -0.9,0.9 -1,0.5 -1.2,0.5 -1.4,0.5 -1.3,0.7 -1.1,0.7 -1.1,0.6 -1.2,0.4 -1.5,0.4 -1.6,0.4 -1.6,0.4 -1.7,0.4 -1.5,0.3 -1.4,0.2 -1.4,0.3 -1.3,0.3 -1.4,0.2 -1.5,0 -1.7,0 -1.8-0.2 -1.6-0.2 -1.2-0.4 -0.5-0.6 M390.3,371l0.4-0.6 1.2-0.9 1.3-0.8 1.4-0.6 1.4-0.6 1.5-0.5 1.4-0.8 1.5-0.9 1.4-0.9 1.3-0.8 1.1-0.5 1-0.5 0.9-0.4 1-0.5 1.1-0.9 1.2-0.9 1.2-0.8 1.4-0.5 1.5-0.2 1.4-0.1 1.5-0.2 1.6-0.5 1.6-1 1.7-1.1 1.7-0.8 1.9-0.2 1.9-0.1 1.7,0 1.1-0.1 0.4,0.2 -0.3,0.6 -0.6,1.2 -1,1.4 -1.2,1.3 -1.3,1.2 -1.2,1.2 -1,1.2 -0.8,1.2 -1,1.1 -1.2,1 -1.5,0.8 -1.5,0.6 -1.4,0.4 -1.2,0.3 -1,0.4 -1.1,0.3 -1.2,0.3 -1.4,0.3 -1.4,0.5 -1.4,0.6 -1.6,0.5 -1.6,0.3 -1.5,0.1 -1.5,0.1 -1.5,0.2 -1.5,0.2 -1.6,0.2 -1.6,0.1 -1.4,0.1 -1.4-0.2 -1.3-0.4 -0.5-0.6 M390.3,371l0.5-0.6 1.1-0.7 1.4-0.7 1.2-0.5 1.3-0.6 1.4-0.6 1.4-0.9 1.4-1 1.3-0.8 1.2-0.7 1.2-0.6 1.2-0.6 1.2-0.9 1.2-0.9 1.1-0.9 1.1-0.9 1.3-0.6 1.5-0.4 1.5-0.2 1.6-0.2 1.6-0.3 1.5-0.5 1.5-0.7 1.5-0.6 1.6-0.6 1.7-0.5 1.5-0.3 1.2-0.2 0.9,0.1 0.4,0.4 0,0.7 -0.3,1 -0.7,1 -0.7,1.1 -0.7,1 -0.9,1 -0.9,1.1 -1.1,1.2 -1.3,1.3 -1.3,1.2 -1.3,1.2 -1.2,0.7 -1.1,0.5 -1.2,0.2 -1.3,0.4 -1.4,0.4 -1.3,0.6 -1.3,0.6 -1.6,0.6 -1.7,0.4 -1.7,0.5 -1.6,0.4 -1.7,0.3 -1.5,0.2 -1.4,0.1 -1.2,0 -1.3,0.1 -1.5,0 -1.6,0 -1.7-0.3 -1.4-0.4 -0.6-0.6 M390.3,371l0.4-0.6 1.2-0.8 1.4-0.8 1.5-1.1 1.4-0.9 1.3-0.8 1.2-0.6 1.3-0.6 1.2-0.6 1.1-0.8 1-0.8 1-0.8 1.2-0.6 1.3-0.6 1.4-0.4 1.5-0.3 1.6-0.5 1.7-0.6 1.4-0.7 1.3-0.6 1.3-0.4 1.5-0.2 1.6-0.3 1.7-0.5 1.5-0.6 1.4-0.6 1.4-0.6 1.5-0.4 1.4,0.2 0.8,0.9 0.1,1.2 -0.4,1.1 -0.9,0.9 -1.2,1.1 -1.3,1.2 -1.2,1.2 -1.2,1.1 -1.1,1 -1.2,1 -1.4,1 -1.3,0.9 -1.2,0.7 -1,0.6 -0.9,0.5 -0.9,0.5 -1.1,0.3 -1.3,0.2 -1.8,0.1 -1.8,0.2 -1.8,0.4 -1.7,0.5 -1.5,0.5 -1.5,0.4 -1.4,0.3 -1.2,0.1 -1.2,0.1 -1.4,0 -1.6-0.1 -1.6,0 -1.6-0.2 -1.3-0.3 -0.6-0.5"/>
<path stroke="#D95319" d="M381,374.1l0.5-1 1.5-1.1 1.9-1 1.8-0.7 1.6-0.7 1.4-0.9 1.5-0.9 1.6-0.9 1.5-0.9 1.5-1 1.3-0.9 1.5-0.6 1.6-0.5 2-0.7 2.2-1 2.1-1.2 1.7-1 1.6-0.9 1.6-0.8 1.3-0.8 1.2-0.9 1.7-0.5 2.2,0 2.1,0.1 1.5-0.4 1.4-0.7 1.5-0.7 1.8-0.5 2-0.5 2.3-0.5 2.3-0.5 2.3-0.8 2.1-0.8 1.7-0.4 1,0.5 0.2,1.2 -0.2,1 -0.4,1.1 -0.6,1.5 -1.1,1.8 -1.3,1.9 -1.7,1.7 -1.9,1.5 -2.2,1.1 -2.1,0.9 -1.6,0.9 -1.2,0.8 -1.3,0.6 -1.5,0.5 -1.6,0.4 -1.6,0.7 -1.5,1.1 -1.8,0.8 -1.8,0.6 -1.7,0.6 -1.7,0.4 -1.8,0.3 -2,0.6 -1.9,0.7 -2,0.4 -1.7,0.3 -1.7,0.4 -1.7,0.6 -1.6,0.4 -1.5,0 -1.8,0.1 -2,0.2 -2.1,0.2 -2.1,0 -1.9,0 -2-0.1 -1.7-0.4 -0.7-0.7 M381,374.1l0.4-0.7 1.3-1 1.7-1.1 1.8-1.3 1.9-1.1 1.9-0.8 1.6-0.8 1.6-0.9 1.5-0.9 1.5-0.7 1.4-0.5 1.5-0.7 1.7-1 1.8-1.1 1.6-1.2 1.6-1.1 1.8-0.9 2-0.8 1.9-0.9 1.5-0.8 1.4-0.6 1.5-0.5 1.8-0.6 2.1-0.3 1.8-0.1 1.7-0.3 1.8-0.4 1.9-0.7 1.6-0.7 1.4-0.5 1.7-0.2 2.2-0.4 2.2-0.6 2-0.5 1.5-0.1 0.8,0.5 -0.2,0.9 -1.1,1.4 -1.3,1.6 -1.1,1.7 -1.3,1.6 -1.7,1.6 -1.6,1.4 -1.6,1.2 -1.6,1.3 -1.4,1.5 -1.3,1.2 -1.3,0.7 -1.5,0.4 -1.6,0.6 -1.6,0.9 -1.7,0.9 -1.9,0.7 -1.9,0.6 -1.6,0.7 -1.5,0.7 -1.8,0.5 -1.9,0.4 -1.8,0.6 -1.7,0.7 -1.7,0.6 -1.9,0.2 -1.9,0.2 -2,0.4 -1.9,0.4 -1.8,0.3 -1.8,0.1 -1.7-0.2 -1.9-0.1 -2.1-0.1 -2.3-0.2 -1.7-0.4 -0.7-0.7 M381,374.1l0.4-0.9 1.3-1.1 1.8-0.9 1.8-0.8 1.7-0.9 1.8-1 1.7-1 1.8-0.9 1.8-1 1.6-0.8 1.5-0.6 1.5-0.5 1.5-0.3 1.5-0.5 1.4-0.9 1.6-1.2 1.7-1.2 2-1.1 1.9-0.8 1.9-0.5 1.7-0.3 1.5-0.5 1.3-0.6 1.3-0.5 1.4-0.5 1.9-0.7 2.6-0.7 2.7-0.3 2.1-0.2 1.7-0.3 2-0.9 2.5-0.9 2.5-0.3 1.9,0.5 0.5,0.4 -0.7,0.1 -1.1,0.3 -0.8,0.6 -0.7,1.1 -0.8,1.5 -1.1,1.6 -1.5,1.6 -1.6,1.6 -1.6,1.3 -1.8,1.2 -1.9,0.9 -1.6,0.8 -1.4,1 -1.7,1.3 -1.7,1.3 -1.5,0.8 -1.4,0.5 -1.5,0.4 -1.4,0.3 -1.6,0.2 -1.9,0.2 -2.1,0.6 -1.9,1.1 -1.9,1.3 -2.1,1.1 -2.2,0.7 -1.9,0.2 -1.7,0.1 -1.8,0.1 -1.8,0 -1.6,0 -1.4,0 -1.5,0.1 -1.9-0.1 -2.2-0.1 -2.1-0.1 -1.7-0.3 -0.7-0.6 M381,374.1l0.4-1 1.5-1.1 2-1.2 2-1 1.7-0.7 1.5-0.5 1.4-0.7 1.3-0.9 1.5-1 1.6-0.9 1.9-0.9 1.8-1.2 1.8-1.2 1.6-1.3 1.7-1.1 1.8-0.8 1.9-0.5 2-0.4 1.6-0.1 1.3-0.4 1.2-0.8 1.3-0.9 1.5-0.7 1.8-0.3 1.8-0.2 1.9-0.1 1.8-0.6 1.6-1.1 1.8-1 2.2-0.3 2.4,0 2.4-0.3 2.3-0.9 1.8-0.8 1-0.1 0.1,0.9 -0.5,1.3 -0.7,1.8 -0.9,1.9 -1.4,1.5 -1.9,1.3 -1.9,1.2 -1.7,1.2 -1.5,1 -1.5,1.2 -1.3,1.1 -1.2,1.2 -1.4,1 -1.5,1.1 -1.6,0.9 -1.6,0.7 -1.8,0.4 -1.8,0.4 -1.6,0.6 -1.6,0.8 -1.7,1 -1.8,0.7 -1.8,0.6 -1.6,0.5 -1.4,0.6 -1.7,0.4 -1.9,0.3 -2,0.3 -2.1,0.2 -2,0.1 -2,0 -1.7-0.1 -1.8-0.2 -1.9,0.1 -2,0.2 -2,0 -1.7-0.4 -0.7-0.8"/>
<path stroke="#EDB120" d="M370.2,378.7l0.4-0.9 1.3-1.3 2.2-1.4 2.2-1.1 1.8-0.9 1.6-1.2 1.9-1.5 2-1.2 2-0.9 1.8-1 1.6-1.3 1.6-1 1.5-0.8 1.5-0.8 1.9-0.8 2.4-1.1 2.3-1 1.9-1 1.5-0.8 1.7-0.9 1.8-1 2-1 2-0.8 1.7-0.5 1.6-0.5 1.6-0.8 2-0.4 2.4-0.4 2.4-1 2.1-1.1 1.8-0.5 2.2,0.3 2.6,0.2 2.4-0.6 1.8-1 1.6-0.9 1.8-0.8 2.3-0.8 2.2-0.6 1.5,0.1 0.9,1.1 0.9,1.4 0.5,0.9 -0.5,0.8 -1.4,1.4 -1.6,1.9 -2,1.8 -2.1,1.5 -1.8,0.9 -1.4,0.3 -1.9,1 -2.2,1.6 -2.4,1.5 -2.2,1 -2,1 -1.6,1.4 -1,1.5 -1,1.1 -1.4,0.5 -2,0.3 -2.2,0.6 -2.3,0.9 -2.2,1.1 -2,1 -1.8,0.6 -1.9,0.8 -2.2,0.7 -2.1,0.5 -1.9,0.2 -1.8,0.1 -1.9,0.1 -2.2,0.4 -2.4,0.9 -2.1,1 -2,0.7 -2.1,0.3 -2.1,0.3 -1.8,0.5 -1.8,0.5 -2.2,0.2 -2.4-0.1 -2.3-0.2 -2-0.4 -1-0.6 M370.2,378.7l0.5-0.9 1.5-1.1 2.1-1.1 2-1.4 1.7-1.5 1.7-1.1 1.8-0.9 2-1.1 1.9-1.3 1.9-1.2 1.9-1.2 1.8-1 1.6-0.8 1.6-0.7 1.8-0.7 2.1-0.8 2-1 2-1.2 1.9-0.9 2.1-1 2.2-0.9 1.8-0.4 1.4-0.2 1.4-0.9 1.5-1.3 2-0.7 2.2-0.2 2.1-0.3 2.1-1 2.1-1.3 2.1-1.2 1.9-1.3 2-0.8 2.1,0.2 2.4,0.3 2.4-0.1 2.4-0.3 2.1-0.4 1.5-0.5 1,0 0.7,1.2 0.5,1.5 0.1,1.2 -0.4,0.8 -1.3,1 -1.7,1.3 -1.7,1.6 -1.7,1.4 -1.7,1.1 -1.5,1.1 -1.7,1.2 -2.1,1.2 -2.2,1.4 -2.2,1.5 -1.8,1.2 -1.4,0.5 -1.3,0.4 -1.7,0.8 -2.1,1 -2,1.1 -1.6,1 -1.6,0.9 -1.9,0.5 -2,0.2 -2.1,0.4 -2,0.7 -2.1,0.9 -2.1,0.6 -2,0.4 -2,0.3 -2.1,0.5 -2,0.5 -2,0.4 -2,0.5 -2,0.7 -2,0.7 -2.2,0.6 -2.3,0.3 -2.1,0.1 -1.8,0 -2.1,0.3 -2.4,0.2 -2-0.3 -1-0.7 M370.2,378.7l0.3-1 1.4-1.3 2.1-1.3 2.3-1.2 2.1-1.1 1.8-1.1 1.7-1.1 1.5-1.2 1.5-1.2 1.5-1 1.6-0.8 2.1-0.8 2.2-1 2.1-1.1 2.1-1.2 2.1-1.2 1.9-0.9 1.9-0.6 2-0.6 1.9-1 2-1.2 2.1-1 1.9-0.4 1.6,0 1.5-0.2 1.6-0.7 2-1.1 1.8-1.1 1.5-0.9 1.7-0.5 2.2-0.2 2.5-0.3 2.5-0.7 2.6-0.9 2.6-0.5 2.3-0.5 1.6-0.7 1.8-0.8 2.4-0.7 2.3-0.2 1.6,0.4 0.3,1 -0.7,1.4 -1.4,1.9 -1.6,2.4 -1.5,1.6 -1.2,0.9 -1.2,0.9 -1.6,1.2 -2.2,1.2 -2.5,0.9 -2.5,0.7 -2.3,0.9 -1.6,1 -1.3,1.2 -1.4,1.2 -1.7,1.3 -1.8,1.5 -2,1.4 -2.1,1 -2.1,0.4 -2.2,0.6 -2.2,0.6 -1.6,0.5 -1.2,0.5 -1.5,0.9 -2,1 -2.3,1 -2,0.8 -2.1,0.4 -2.3,0.4 -2,0.4 -2,0.4 -2.1,0.4 -2.2,0.6 -2.2,0.4 -2,0.3 -2,0.1 -2.1-0.1 -2.3,0 -2.4,0.3 -2.3,0.2 -1.8-0.2 -1-0.6 M370.2,378.7l0.4-1 1.3-1.3 2-1.4 2.2-1.6 2.1-1.3 1.9-1.2 1.9-1.1 1.9-0.9 1.5-0.7 1.4-0.4 1.8-0.8 2-1.3 2.1-1.5 1.9-1.2 1.8-1.1 1.6-1 1.8-0.8 2.2-0.7 2.3-0.7 2-0.8 1.6-0.7 1.6-0.7 1.5-0.9 1.5-1.2 1.9-1 2.4-0.6 2.3-0.2 2-0.1 2-0.3 2-0.6 1.7-1 1.8-1.3 2.2-1.1 2.3-0.3 2.4,0.2 3-0.3 2.8-0.7 2.3-0.7 1.7-0.4 0.9,0.1 0.4,1.1 0.3,1.7 0.3,1.1 -0.1,0.7 -1.2,1 -1.5,1.7 -1.5,1.8 -1.7,1.3 -2.3,0.6 -2.3,0.6 -1.9,1.1 -1.7,1.5 -1.8,1.5 -1.8,1.3 -2,1.2 -1.9,0.7 -1.5,0.4 -1.5,0.5 -1.8,0.8 -1.9,1.4 -2,1.5 -2.1,0.9 -1.9,0.6 -1.8,0.8 -1.9,0.9 -2.2,0.6 -2.4,0.6 -2.5,0.6 -2.3,0.4 -2.1,0.4 -1.9,0.5 -1.9,0.4 -2,0.4 -2,0.6 -2,0.5 -1.7,0.4 -1.7,0.3 -1.8,0 -2.1,0 -2.3,0.4 -2.7,0.6 -2.5,0.1 -1.9-0.3 -0.9-0.6"/>
<path stroke="#7E2F8E" d="M361.7,383.3l0.3-1.1 1.2-1.3 2-1.5 2.4-1.5 2.3-1.3 1.9-1.3 1.8-1.6 2-1.3 1.9-1 1.5-0.8 1.7-1 2.2-1.2 1.9-1.2 1.6-1.3 1.8-1.2 1.9-1.2 2.3-1 2.4-1.1 2.3-1.2 2.2-1.2 2-1.3 2.1-1.2 2.2-1.2 2.3-1.2 2.2-1.1 2.1-0.4 2.2-0.2 2.4-1 2.1-1.5 2.2-0.8 2.4,0.1 1.7,0 0.8-0.8 1.4-0.9 2.8-0.7 3.3-0.7 2.9-0.6 2.3-0.3 2.3-0.2 2.4-0.7 2.2-0.7 2.2-0.1 2.6,0.2 2.4-0.6 1.5-0.9 1,0.4 0.7,2.4 0.5,2.7 -0.5,1.6 -1.5,1.2 -2,1.7 -1.7,1.3 -1.6,0.4 -2,0.8 -2.2,1.4 -2.4,0.7 -2.3,0.7 -1.8,1.5 -1.6,1.5 -2,1.2 -2.2,1.2 -2.4,1 -2.7,1.1 -2.7,2 -1.8,1.9 -1.1,0.7 -1.5-0.2 -2.5,0.5 -2.3,1.1 -2.2,1 -2.1,0.7 -1.8,1.1 -2,1.4 -2.4,1 -2.3,0.7 -2,0.5 -2.2,0.5 -2.5,0.2 -2.3,0.2 -2.3,0.3 -2.4,0.5 -1.8,0.8 -1.8,0.7 -2.2,0.9 -2.1,0.9 -2.2,0.7 -2.3,0.5 -2.5,0.4 -2.6,0.4 -2.3,0.3 -2.4-0.1 -2.4-0.3 -1.9-0.4 -1-0.6 M361.7,383.3l0.3-1.1 1.1-1.4 1.9-1.7 2.3-1.8 2.3-1.2 2.3-1 2-0.9 1.8-1.1 1.7-1.4 1.9-1.3 2-1.2 2-1.2 2.1-1.2 2.1-1.4 2-1.4 2-1.6 2.1-1.3 2.1-0.9 2-1.1 2-0.9 1.6-0.6 1.5-0.7 2-0.6 2.6-0.8 2.3-1.1 1.6-1.4 1.8-1 2.4-0.5 2.8-0.6 2.3-0.9 1.7-0.6 1.8-0.5 2.5-0.5 2.6-0.2 2.4-0.4 2.3-1.1 2.3-1.2 2.6-0.8 2.2-0.9 1.6-0.7 2.4,0.1 3.7,0.4 3.4-0.6 2.1-1.1 1.4-0.5 0.9,0.9 -0.6,1.4 -1.2,1.6 -0.7,1.8 -0.9,1.6 -1.9,1.6 -1.7,1.6 -1,1.9 -1.5,1.9 -2.4,0.9 -2.9,0.2 -2.6,0.7 -2.2,1.3 -2.1,1.4 -1.6,1.7 -1.5,1.8 -1.6,1.1 -2.1,0.7 -1.9,1.1 -1.6,1.2 -1.5,1.1 -2,1.3 -2.5,1.3 -2.5,1.1 -2.5,0.7 -2.1,0.7 -1.7,0.7 -1.6,0.8 -1.8,0.6 -2.2,0.2 -2.4,0 -2.7,0.6 -2.9,1 -2.4,1.1 -2,0.8 -2.2,0.8 -2,0.7 -1.9,0.6 -1.9,0.4 -2.2,0.7 -2.4,0.6 -2.3,0.1 -2.3,0.2 -2.6,0.4 -2.7,0.2 -2.4,0.1 -2.3,0 -1.9-0.4 -0.9-0.9 M361.7,383.3l0.4-1.1 1.4-1.2 2.1-1.4 2.3-1.4 2.2-1.5 2-1.7 1.6-1.6 1.8-1.1 2.4-0.7 2.4-1.1 1.8-1.6 1.3-1.4 1.8-0.7 2.1-0.5 2.1-0.9 1.9-1.7 1.6-2 1.9-1.6 2.4-1.1 2.1-0.9 1.4-0.9 1.6-0.9 2.1-0.8 2.3-0.9 2.5-0.8 2.4-0.6 2.4-0.8 2.2-0.9 2.2-1.1 2.1-1.3 1.9-1.3 1.9-0.7 2.3,0.1 2.3,0.6 2.3,0 2.1-1.1 2.2-1.4 2.6-1.1 2.5-0.7 1.9-0.3 1.7-0.3 2.6-0.3 3.1,0 3,0.1 2.4-0.1 1.5,0.2 0.3,1.2 -0.2,1.7 -0.8,1.9 -1.6,2.1 -1.7,1.7 -1.7,0.9 -1.9,1 -2.3,1.4 -2.4,1.5 -1.8,1.3 -1.9,1.4 -2.5,1.9 -2.4,2 -2.1,1.2 -2.2,0.4 -1.9,0.3 -1.5,0.6 -1.7,0.8 -2.1,1.1 -1.8,1.3 -1.7,0.9 -1.9,0.7 -1.9,1 -2.1,1.3 -2.1,1.2 -2.1,0.6 -2.1,0.4 -2.5,0.8 -2.5,1 -1.9,0.8 -2.1,0.6 -2.6,0.3 -2.4,0.4 -2.3,1 -2.3,1.3 -2.3,0.8 -2,0.3 -1.9,0.3 -2.3,0.8 -2.4,0.5 -2.2,0.1 -2.2,0.1 -2.5,0.3 -2.7,0 -2.6,0 -2.4,0 -2-0.1 -0.9-0.6 M361.7,383.3l0.4-1 1.4-1.4 1.9-1.7 1.9-1.6 2.2-1.4 2.5-1.3 2.5-1.4 2.2-1.2 1.6-1.2 1.4-1.4 1.5-1.4 1.6-0.9 1.7-0.6 2-0.8 2.2-1.3 2.1-1.7 2.1-1.4 2.1-1 2.1-0.9 2-1.1 2.1-1.2 2.1-1 1.7-0.8 1.8-1.1 2.4-1.4 2.5-0.7 2.1-0.3 2.1-0.5 2.1-0.8 2.1-0.7 2.2-0.6 2.4-0.5 1.9-0.2 1.7-0.1 2.4-0.6 2.8-1.1 2.5-1.2 1.8-0.8 1.8-0.5 2.4-0.7 2.9-0.7 2.7-0.2 2.3,0.3 2.1-0.3 1.9-0.8 1-0.3 -0.1,1.2 -0.6,2.5 -0.8,2.6 -0.7,1.7 -0.5,1.6 -1,1.7 -2.2,1.2 -2.7,0.8 -2.5,1.2 -2,1.9 -2.2,1.6 -2.3,0.4 -2.2,0.4 -2,1.7 -1.8,2 -2.3,1 -2,0.4 -1.5,0.5 -1.5,0.9 -1.6,1.1 -1.8,0.9 -2.3,0.8 -2.6,1.1 -2.5,1.5 -1.9,1.5 -1.8,0.9 -2.2,0.4 -2.5,0.7 -2.3,0.8 -2,0.3 -1.8,0.3 -1.9,0.8 -2.1,1 -2.2,0.6 -2.1,0.3 -2.1,0.4 -2.4,0.6 -2.4,0.7 -2.2,0.4 -2.2,0.3 -2.4,0.3 -2.1,0.5 -2.1,0.5 -2.5,0.2 -2.7,0.2 -2.6,0.1 -2-0.3 -1-0.7"/>
<path stroke="#77AC30" d="M350.9,389.5l0.2-1.1 1.2-1.3 2-1.8 2.2-2.2 2.3-2 2.4-1.3 2.2-1.3 2.1-1.4 1.7-1.2 1.9-1 2.3-1.4 2.8-1.6 2.7-1.1 2.1-1.1 1.8-1.1 2-1 2.1-0.9 2-1.1 2-1.8 1.8-1.8 1.5-1.2 1.7-0.5 2.8-0.8 3.2-1.3 2.5-1.5 2-1.4 1.9-1.4 2.3-1.2 2.3-0.9 2.2-0.5 2.4-0.7 2.4-1.1 2.5-1.2 1.9-0.8 1.9-0.5 2.2-0.4 2.3-0.5 2.2-0.2 2.2-0.2 2.7-0.9 3.1-1.4 2.7-1.1 2.5-0.4 2.2-0.1 1.9-0.5 2.4-0.4 2.9-0.7 3.1-0.6 3.4-0.7 3.1-0.2 1.8,0.7 1.1,1.2 0.6,1.9 -1.1,2.3 -1.6,2.1 -1.5,1 -2,0.2 -2,0.6 -2.1,1.2 -2.6,1.4 -2,2.3 -1.4,1.7 -2,1 -3,1.3 -2.7,1.5 -2.5,1.3 -3,0.7 -2.6,0.8 -2.6,1.4 -2.8,1.5 -2,1.6 -0.8,1.8 -0.9,1.3 -1.7,0.9 -2.8,0.6 -3,0.4 -1.8,0.8 -1.7,1.3 -2.7,1.5 -2.5,1.2 -1.9,0.5 -2,0.4 -2.2,0.6 -2.3,0.3 -2.2,0.5 -2.5,1 -2.8,0.8 -2.6,1 -2.4,1.1 -2.4,0.9 -2,1 -2.2,1.2 -2.7,0.9 -2.6,0.6 -2.2,0.5 -2.1,0.7 -2.5,0.7 -2.8,0.4 -2.5,0.5 -2.2,0.5 -2.6,0.4 -2.9,0.2 -2.6-0.1 -2-0.4 -1.1-0.9 M350.9,389.5l0.2-1.1 1.3-1.5 1.8-1.6 1.8-1.6 2.3-1.8 2.4-2.2 2.5-1.8 2.5-1.3 2.5-1.2 2.1-1 1.8-1.1 1.7-1 1.8-1.2 1.9-1.6 2.2-1.5 2.4-1.3 2.5-1.1 2-1.2 2.2-1.4 2.3-1.6 1.9-1.2 1.8-1 2.2-1.2 2.4-1.2 2.6-0.8 2.3-0.4 1.7-0.4 2-1.3 2.1-2 2-1.7 2.3-1.6 2.6-1 2.7-0.2 2.8,0.2 2.8-0.7 2.2-1.2 1.9-0.7 1.9-0.3 2.5-0.2 2.9-0.5 2.7-1.2 2.3-0.5 2.3-0.2 2-0.9 2.2-1.3 2.6-0.7 2.4-0.7 2.8-0.6 3.7,0.3 3.3,1.7 2.1,1.8 1,0.4 0.3-0.1 -0.7,1.2 -1.6,2.5 -2,2 -1.6,0.9 -1.4,1 -2.2,0.6 -2,1.2 -1.8,1.7 -2.3,1.7 -2.6,2.1 -2.9,1.8 -3.2,1.1 -2.5,1.3 -1.6,1.6 -1.3,1.2 -2.1,1.2 -2.8,0.9 -2.2,1 -1.8,1.6 -2.1,1.1 -2,0.7 -1.8,0.9 -2.1,0.9 -2.9,0.6 -2.9,0.5 -2.3,1 -2.1,1.4 -2.1,1.3 -2,0.9 -2.1,0.6 -2.4,0.7 -2.7,0.4 -2.8,0.1 -2.9,0.9 -2.5,1.3 -2.3,1 -2.1,1 -2.3,0.9 -2.3,0.3 -2.3,0.1 -2.2,0.6 -2.1,0.9 -2.3,1.2 -2.5,0.8 -2.4,0.6 -2.7,0.5 -2.8,0.7 -2.9,0.5 -2.6,0 -2.4-0.2 -1.9-0.4 -1.1-0.9 M350.9,389.5l0.2-1.2 1.1-1.3 1.9-1.4 2.4-1.7 2.6-2 2.3-1.9 2.5-1.8 2.4-1.2 2-0.9 1.8-1.4 2.1-1.7 1.8-1.7 1.9-1.4 1.9-1.1 2-1 2.2-1 2.5-1 2.1-1.1 1.8-1.2 2.1-1 2.4-0.9 2.2-1.3 2.1-1.6 2.5-0.8 2.6-0.8 2.2-1.2 2-1.8 2.2-1.9 2.2-1.5 2.1-1.2 1.8-0.6 1.9,0.1 2.9,0.1 3.1-0.6 2.4-0.8 1.8-0.8 2.1-0.7 2.8-0.4 2.8-0.9 2.9-1.2 2.5-0.7 1.8-0.1 1.7,0.1 1.8-0.4 2.3-1.1 3.4-0.3 3.7,0.8 3.2,0.5 2.9-1.1 2.7-1.4 1.4-0.3 0.3,1.2 -0.3,1.5 -0.9,2 -1.1,2.7 -1.4,1.7 -1.5,0.1 -1.5,0.4 -2.3,1.1 -2.4,1.6 -2.2,1.6 -2.3,1.4 -2.3,1.7 -2.9,1.6 -2.9,0.8 -2,0.7 -1.5,1.5 -2.3,1.8 -2.4,1.4 -1.9,1 -1.7,1.1 -1.9,1.7 -1.9,1.6 -2.1,0.7 -2.6,0.4 -2.4,0.7 -2,0.8 -1.6,1.1 -1.5,1.2 -2.3,1.2 -3,1.6 -2.8,0.7 -2.3-0.1 -2.4,0.4 -2.5,0.8 -2.7,0.7 -2.6,0.5 -2.6,0.7 -2,0.7 -1.7,1.2 -2.3,1.3 -2.8,0.6 -2.4,0.7 -2.4,1 -2.6,0.7 -2.4,0.5 -2.5,0.6 -2.6,0.7 -2.5,0.6 -2.5,0.6 -2.8,0.6 -2.7,0.1 -2.3-0.3 -1.8-0.6 -1-0.8 M350.9,389.5l0.2-1 1.2-1.3 2-1.6 2.4-1.7 2.5-1.8 2.3-1.4 2.3-1.3 2.2-1.4 2.2-1.4 2.1-1.5 1.8-1.8 2.2-1.7 2.4-1.1 1.9-0.7 1.5-0.7 1.9-1.2 2.2-1.7 2-1.4 2-1 2.1-1.2 2.2-1.3 2.1-1.4 2.5-1.2 2.4-1 1.8-1.7 1.6-2 2.1-0.9 2.8,0.1 2.7-0.2 1.9-1.5 2.2-1.2 3-0.4 3-0.5 2.8-0.8 2.5-0.7 1.9-0.9 1.7-0.6 2.1-0.2 2.7-0.4 3-0.7 2.5-0.7 1.7-1 1.4-1.6 2.2-0.9 2.7-0.1 2.7-0.3 3-0.5 3.9-0.6 3.8-0.7 2.7-0.1 1.1,1.2 0.4,1.7 -0.1,1.8 -0.9,2.4 -1.3,1.5 -1.6,0.7 -2.4,0.9 -2.2,0.9 -1.9,1.1 -1.8,1 -2.5,1 -2.5,1.2 -2,1.5 -2.1,1.2 -1.9,1 -1.7,1.4 -2.1,2.4 -3,2.1 -2.3,0.7 -1.7,0.5 -1.8,0.8 -2.1,1 -2.1,0.9 -1.8,1 -2,1.3 -2.5,1.6 -2.7,1.4 -2.3,1.2 -2,1.4 -2.4,1.2 -2.4,0.6 -2.3,0 -2.4,0.3 -2.1,1.2 -2.6,1.3 -2.9,1.2 -2.6,1 -2.4,0.9 -2.4,0.3 -2.4,0.1 -2.3,0.3 -2.4,0.6 -2.7,1 -2.2,0.9 -1.8,0.5 -1.9,0.5 -2,1.3 -2.1,1.3 -2.3,0.6 -2.7,0.2 -2.9,0.1 -3.1,0.2 -2.8-0.1 -2.1-0.5 -1-0.9"/>
<path stroke="#4DBEEE" d="M340.9,396.4l0-1.2 1-1.5 1.9-1.7 2.4-1.6 2.5-1.8 2.4-2.1 2.4-1.7 2.3-1.4 2.3-1.7 2.4-1.6 2.5-1.5 1.9-1.6 1.9-1.3 2.4-1.1 2.4-1.5 1.7-1.4 1.7-1.5 1.9-1.5 2-1.2 2.2-1.2 2.5-1.3 2.5-1.1 2.4-1.5 2.6-1.5 2.7-1.3 2-1.2 1.5-1.2 2.1-0.9 2.5-0.8 2.8-1.4 2.6-1.6 2.1-1 1.9-1 2.1-1 2.6-0.8 3.1-1 2.7-0.8 2.6-0.5 2.8-0.6 3.1-1.1 2.6-0.6 1.9-0.1 1.8-0.5 1.7-0.8 2.4-0.9 2.7-0.8 3.1-0.8 3.2-0.7 2.5-1 2.2-1.5 2.3-1.6 2.4-0.2 2.5,0.9 2.7,0.4 3.2-0.4 3.3-0.6 2.5,0 1.5,0.9 1.1,1.4 0.1,2.1 -1.2,1.9 -1.9,0.8 -1.5,1.2 -1.2,1.3 -2,1 -2.3,2.1 -3,2.6 -3.1,1.7 -2.5,1.2 -2.2,1.1 -2.2,1.2 -2,1.5 -1.7,0.8 -2.4,1 -2.4,1.6 -1.8,1.3 -2.5,0.8 -3.2,0.4 -2.6,0.3 -1.9,1.2 -2,2.3 -2.3,1.9 -1.9,0.9 -2.1,0.7 -2.2,0.6 -2.3,1.2 -2.1,1.9 -2.1,1.8 -2.4,1.4 -2.6,0.7 -2.6,0.4 -2.8,0.9 -2.5,0.9 -2.2,0.6 -2.6,0.8 -2.8,1.1 -2.9,1.1 -2.3,1 -2.2,0.5 -2.8,0.2 -2.8,0.6 -2.4,1.5 -2.3,1.4 -2.4,0.8 -2.3,0.7 -2.6,1 -2.6,0.8 -2.3,0.5 -2.4,0.6 -2.3,0.7 -2.5,0.7 -2.6,0.6 -2.7,0.5 -2.8,0.5 -3.1,0.8 -2.8,0.1 -1.9-0.4 -1-0.8 M340.9,396.4l0.1-1.3 1-1.6 1.7-1.7 2.2-1.7 2.5-1.9 2.7-1.6 2.7-1.3 2.4-1.4 2.5-2 2.3-2.1 2-1.8 1.9-1.7 2-1.5 1.8-1.1 1.8-0.7 1.7-1.2 2.1-1.7 2.4-2 1.9-1.7 1.8-0.8 2.4-0.4 2.6-1.2 2.5-1.9 2.9-1.4 2.9-1.3 2.4-1.5 1.9-1 2.1-0.6 2.8-0.9 3.2-1.2 2.4-1.3 1.9-1.2 2.1-1 2-0.8 1.9-0.6 2.4-1 2.1-1.2 2.3-1.2 3-1 2.8-0.8 2.4-0.7 2.4-0.4 2.9,0.3 3.2,0 2.4-1.2 1.8-1.6 2.1-1.3 2.8-0.6 2.6,0.1 2.3-0.4 2.5-1 2.8-0.8 2.7-0.2 2.5,0.2 3.3-0.2 3.8-0.1 3.4-0.3 2.1-0.3 1.2,1.7 0.3,2.3 -1.7,1.9 -2.4,2.1 -1.5,1.7 -1.7,1.1 -2.1,1.7 -2.4,2.4 -2.2,1.6 -3,0.9 -3.2,0.8 -2.5,0.7 -1.7,0.9 -1.8,1.2 -3,1.1 -3.2,0.7 -2.2,0.9 -1.8,1.7 -2.1,1.8 -2.3,1.5 -1.7,1.5 -1.7,1.4 -3,1.3 -3.1,0.9 -2.5,1.1 -1.8,1.4 -1.8,1 -1.7,0.7 -2.2,1 -3,1.4 -3,1 -2.7,0.8 -2.4,1 -2.4,1.3 -2.6,1.4 -2.5,0.5 -2.4-0.3 -2.4-0.1 -2.4,0.8 -2.2,2.1 -2.4,1.6 -2.6,0.7 -2.2,0.5 -2.4,0.7 -2.5,0.8 -2.7,1.2 -2.9,1.3 -2.3,0.8 -2,0.5 -2.2,0.4 -2.6,0.7 -2.9,1.1 -3,1.3 -2.8,0.7 -2.8,0.3 -3.1,0.3 -2.7,0.3 -2.3,0 -1.9-0.3 -1-1 M340.9,396.4l0.1-1.3 1-1.6 1.8-1.6 2.3-1.4 2.6-2 2.3-2.1 2.5-1.9 2.6-1.6 2.5-1.4 2.2-1.7 1.8-1.8 1.9-1.3 2.5-1.1 2.4-1.5 1.9-1.1 1.9-1 2-1.8 2-1.8 2.3-1.3 2.2-1 2-1.5 1.9-1.8 2.2-1.7 2.2-1 2.5-0.7 2.8-0.7 2.3-1.1 2-2 2.4-2.5 2.6-1.3 2.3-0.5 2.3-0.5 2.6-0.6 2.3-1.2 2.1-1.8 2.7-1 3.1-0.3 2.8-1.2 2.7-1.3 2.3-0.5 2.1-0.3 2.6-0.7 2.7-0.3 1.9-0.1 2-0.6 2.3-0.4 2.6-0.3 2.5-0.2 2.5-0.3 2.6-0.7 3.1-0.6 2.9-1.4 2.6-0.9 3.2,0.1 4.3,0.2 3.5-0.5 1.7-0.5 1.1,1 0.7,2.4 -0.4,2 -1,1.4 -1.6,1.9 -2,1.5 -1.9,0.6 -2.5,0.5 -2.3,1.1 -1.5,1.2 -1.7,0.9 -2.7,1.8 -2.8,1.8 -2.6,1.7 -2.1,2.3 -1.9,1.3 -2.3,0.2 -2.9,0.9 -3.1,1.2 -2.7,1.2 -1.6,1.5 -1.7,2 -2.2,1.7 -2.3,0.8 -2.1,0.8 -2.4,0.9 -2.8,1.1 -2.2,1.2 -2,0.9 -2.6,0.9 -3.1,1 -2.5,0.7 -1.5,1.1 -1.6,1.2 -2.2,0.8 -3,0.6 -3.1,1 -2.5,1.4 -2.7,1.2 -3,0.7 -3,0.6 -2.6,0.6 -2.1,0.5 -2.1,0.7 -2.2,1.5 -2.3,1.3 -2.1,0.6 -2.1,0.8 -2.5,1.1 -2.7,0.9 -2.8,0.9 -2.7,0.6 -2.6,0.5 -2.3,0.8 -2.2,0.7 -2.6,0.8 -2.8,0.6 -3,0.3 -2.8,0.1 -2.2-0.4 -1-0.9 M340.9,396.4l0.2-1.2 1.1-1.5 1.6-1.7 1.9-2 2.7-2.3 2.7-2 2.6-1.6 2.5-1.4 2.1-1.5 1.7-1.2 1.8-1.5 2.3-1.7 2.4-1.3 2.4-1.4 2.6-1.2 2.2-1 1.3-0.9 1.7-1.3 2.1-1.5 2.1-1.6 2.6-1.3 2.8-1.5 2.3-1.4 2.2-1.3 2.1-1.6 1.9-1.5 2.4-1.3 2.6-1.3 2.3-1 2.1-0.9 2.4-1.3 2.8-1.1 2.6-0.6 2.2-0.8 2.1-1.1 2.2-1.3 3-1 2.7-0.4 2.1-0.7 2.5-1.3 2.8-0.9 3-0.5 2.8-0.4 2.2-0.2 2,0 2.5-0.5 2.9-0.7 2.7-0.5 2.2-0.8 1.9-1.4 2.1-0.6 2.4,0.2 2.6-0.7 3.2-1.9 3.7-0.5 3.5,0.5 2.4,0.4 1.6,1 0.8,1.1 0.3,1.1 -0.4,2.1 -1.2,2.1 -2.2,1.8 -2.7,1.9 -2.3,1.5 -2.3,1.3 -2.5,1.2 -2.4,1.2 -2.1,1.1 -1.8,1.3 -1.7,1.8 -2,1.5 -3.1,1.9 -3.1,1.8 -2.6,0.8 -2.5,0.3 -2.3,0.8 -2.1,1.1 -2,0.9 -2,0.6 -2.5,1.1 -2.6,1.9 -2.2,2.1 -2.1,1.8 -2.3,0.8 -2.3,0 -2.1,1 -2.2,1.8 -2.5,1.3 -2.6,0.6 -2.2,0.5 -2.3,0.9 -2.7,1.4 -2.4,0.9 -1.8,0.7 -1.9,0.7 -3,0.8 -3.4,1.2 -3.1,1 -2.8,0.6 -2,0.7 -1.9,1 -2.6,0.9 -2.8,0.5 -2.5,0.3 -2.5,0.6 -2.4,0.6 -2.3,0.6 -2.4,1.1 -2.8,1.2 -2.9,0.9 -2.9,0.9 -2.5,0.9 -2.2,0.7 -2.6,0.2 -2.8-0.1 -2.1-0.4 -1-0.9"/>
<path stroke="#A2142F" stroke-width="0.8" d="M330.1,402.7l0.1-1.7 1-1.6 1.7-1.5 2.4-1.7 3.1-2 2.6-1.7 1.7-1.4 2.1-1.5 2.8-1.8 2.9-2.1 2.4-1.8 1.7-1.6 1.9-1.3 2.3-1.3 2.1-1.2 1.8-1.4 2.2-1.9 2.3-1.7 2.4-1.5 2.8-1.5 2.8-1.4 2.1-1.4 1.6-1.5 2.2-1.9 2.6-1.7 2.4-1 2.6-0.5 2.3-0.6 1.2-1.5 2.1-2.1 3-1.4 3.4-1 3.2-0.9 2-0.7 2.1-0.8 2.5-1.1 2.8-0.9 3.4-0.6 3.1-1.2 1.5-1.2 1.7-1.2 2-1.6 2.4-0.7 3.2,0 2.4-1.3 2-1.2 3,0.4 3.2-0.3 2.9-1.9 2.8-1.2 1.9-0.1 2.3-0.2 3.3-1 2.7-0.6 1.7,0.1 1.2-0.9 2.2-1.9 3.5-0.9 4.3,0.1 4.9,0.1 5.1,0.7 3.4,1.3 1.5,1.4 1,0.7 0.5,0.5 -1.2,0.6 -2,2.2 -2.4,2.6 -2.3,1.9 -2.2,2.4 -2.2,1.7 -2.1,0.5 -2.5,0.2 -2,0.2 -1.4,1 -2.7,1.7 -4.1,2.1 -2.6,1.4 -1.9,0.3 -2.4,0.2 -2.1,1.2 -2.4,2.3 -2.9,2.4 -3.1,2.5 -2.7,1.6 -2.6,0.1 -2.5,0.3 -2.4,1.3 -2.7,1.4 -2.6,0.8 -1.8,0.9 -1.6,1.2 -2.5,1.1 -2.4,1.2 -2,0.7 -2.4,1 -2.4,2.6 -2.5,2.1 -2.6,0.3 -3,0.4 -2.8,0.9 -1.7,0.6 -2.5,1 -3.2,1 -2.5,0.7 -2.4,0.7 -2.3,0.7 -2.1,1 -2.4,1.1 -2.4,0.6 -2.5,0.6 -3.2,1.1 -3.6,1.2 -2.9,0.8 -2.4,0.7 -2.6,0.8 -2.4,0.4 -2.1,1.2 -2.1,2.1 -2.1,1.6 -2.6,0.6 -2.9,0.6 -2.8,0.7 -3,1.1 -2.7,1.1 -3.1,0.5 -3-0.1 -2-0.8 -0.8-1.6 M330.1,402.7l0.1-1.7 0.9-1.6 1.5-1.8 2.1-1.8 2.7-1.5 3-1.7 2.8-2.4 2.6-2.2 2.4-1.4 2.2-0.8 2.6-0.9 2.7-1.4 2.2-1.9 1.6-1.8 1.5-1.5 1.8-1.9 2.3-2.1 2.5-1.5 2.1-1 1.8-1.1 2.3-0.5 2.4-0.9 2.3-2.3 2.4-2.4 2.5-1.6 2.3-1 2.3-0.7 2.3-1.2 2.4-1.9 2.8-1.5 3.2-0.8 3-0.5 2-1.2 1.2-2 1.6-1.4 2.6-1.3 3.7-1.6 3.6-0.7 2.9-0.6 2-0.9 2.1-0.5 3.2-0.5 2.4-0.6 1.1-0.6 1.4-1 3.3-0.6 4.3-0.3 3.8-0.5 2.4-0.9 2.7-0.2 3.5,0.1 2.8-0.1 2-1.3 2.2-2.2 2.2-1.2 1.7,0 2.1,0.8 2.4,0 3.2-1.1 4.9-0.4 5.2,0 3.9-0.7 1.9-0.9 0,0.3 -1.9,2.5 -2.2,2.9 -0.9,1.8 -0.5,2.3 -0.8,2.2 -0.6,1.8 -2.1,1.4 -2.8,1.3 -2,1.6 -2.3,1.1 -3,0.9 -3.4,0.7 -3.1,1 -3,1.6 -2.2,1.3 -1.4,0.3 -2.2,1.3 -3.5,2.4 -3.5,1.3 -3.1,0.3 -2.2,0.3 -2.4,0.8 -2.9,1.9 -2.6,2.5 -2,2.2 -1.4,1.6 -1.7,1 -2.6,0.2 -3.3,0.4 -3.3,1.5 -2.3,2 -1.3,1.2 -1.6,0.5 -2.9-0.1 -3.1,0.6 -2.9,1.3 -2.4,1.1 -1.9,0.5 -2.8,0.6 -3.6,0.7 -2.5,0.7 -2,1.4 -2.8,1.4 -2.9,0.7 -2.7,0.8 -2.4,0.9 -2.8,1.1 -2.6,1.3 -1.9,1.1 -1.2,0.8 -2,1 -3,1.3 -2.8,0.8 -2.7,0.8 -2.7,1.3 -2.7,1.2 -2.6,1.2 -2.8,0.8 -3.2,0.3 -3.1,0.5 -2.9,0.6 -2.8,0.7 -2.4,0.2 -1.9-0.7 -0.8-1.6 M330.1,402.7l0.4-1.8 1.3-1.6 1.8-1.6 2-1.8 2.2-2.1 2.5-2.1 2.7-2 2.7-1.7 2.7-1.2 2.2-1 2.3-1.7 2.3-2.1 2.4-1.2 2.1-0.4 1.7-0.8 2.1-1.4 2.1-1.8 2.1-2.2 2-1.8 1.7-1 1.6-0.8 2.7-1.5 3.8-1.9 2.7-1.9 1.3-1.9 1.9-2 3.4-1.9 3.1-1.1 1.6-0.5 1.3-0.1 2.5-0.8 3.2-1.9 2.9-2.3 2.4-1.1 1.6-0.5 1.6-1 2.7-1.5 3.9-1 3-0.4 1.6-0.3 2.1-1 2.8-1.5 2-1.3 1.7-0.8 2.2-0.2 2.9-0.3 3.2-0.5 3.8-0.6 4.1-0.5 2.9,0.2 1.9-0.3 1.8-1 2.1-1.3 2.3-1.4 2.7-0.3 2.4,0.2 2.8-0.5 3-0.8 2.5-0.4 3.5-0.1 3.9-0.6 2.2,0 1.6,2.1 1.4,1.9 0.4,1.2 -1.5,1.3 -2,2 0.4,3.1 1.1,2.2 -1.1-0.4 -2.8-0.2 -3.4,1.5 -3.2,2.1 -3.6,1 -2.8,0.1 -1.2,1 -1.5,2 -2.8,2.4 -2.8,1.5 -2.2,0.9 -2.4,1 -2.9,0.5 -3.8-0.3 -3-0.1 -1.4,1.3 -1.8,2.3 -2.7,2.2 -2.4,1.3 -2.7,0.9 -2.4,1.5 -0.9,1.7 -2.2,1.2 -3.7,0.8 -3.4,1.5 -1.4,1.8 -0.8,1.2 -2.7,0.8 -3.4,0.4 -3.1,0.7 -2.5,0.9 -2.5,1 -2.9,1.1 -2.6,0.6 -2.2,0.6 -2.2,0.8 -2.5,1.7 -2.6,1.6 -2.7,1.5 -3.1,0.8 -3-0.1 -2.4,0.1 -2.5,0.5 -3.1,1.1 -3.7,1.4 -2.7,1.3 -1.5,1.3 -1.1,1.1 -2.1,0.8 -2.9,0.5 -2.9,0.7 -2.8,0.7 -2.3,0.6 -2,0.8 -2.7,1.4 -3.3,1.2 -3.5,0.5 -2.7-0.1 -1.9-0.8 -0.9-1.3 M330.1,402.7l0.3-1.9 1.4-1.9 1.6-1.7 2-1.2 2.7-1.2 2.9-1.8 2.4-2.4 1.8-2 2.2-1.6 2.3-1.3 2.4-1.5 2.6-2 2.3-1.7 1.8-1.6 1.9-1.4 2.2-0.8 2.5-0.3 2.5-1.1 2-2.2 2.3-2.3 2.4-0.9 1.9-0.7 1.9-1.9 2.2-2.1 2.5-1.5 2.4-1.5 2.6-1.4 2.5-1 2.6-1.2 2.8-1.5 2.5-1.7 2.3-1.4 2.5-0.7 2.3-0.6 2.4-1.3 3.1-1.7 2.6-1.2 1.6-0.5 2.1-0.9 3.5-0.7 2.9-0.4 1.9-0.3 2.5-1 2.3-2.7 2.2-2.9 3.8-0.9 3.9,0.5 3,0.7 2.2,1.2 2,0.6 3.2-0.9 2.3-1.1 0.7-0.6 2.3-0.7 3.1-0.9 1.6-1.5 2.2-1.1 3.8,1 3.7,0.5 3.5-1.1 4.4-0.6 4.3-0.3 2.4-0.1 -0.2,1.3 -1.8,2.2 -2,1.5 -2,2.2 -0.7,3.2 0.1,2.6 -1.2,1.1 -2.5-0.4 -3.6,0.5 -3.9,1.5 -2.8,0.7 -1.9,1.3 -1.7,2.4 -1,2 -1,0.2 -3.2,0.1 -4.4,1.7 -3.3,1.3 -2.4-0.1 -2.5,1.3 -2.7,2.5 -2.1,1.3 -0.8,0.6 -1.4,1.3 -2.6,1.3 -2.7,1 -2.8,2 -3.4,2.4 -2.9,1.6 -1.8,0.9 -2.4,0.5 -3.2,0.6 -2.4,1 -1.5,1.1 -2.3,1.2 -2.6,0.9 -2.1,0.8 -2.2,0.9 -3,1.1 -3.1,1.1 -3,0.5 -2.3,0.7 -2.9,1 -3.1,1.3 -2.2,1 -2.4,1 -2.6,1 -2.2,0.8 -2.2,0.8 -2.8,0.9 -3,0.7 -2.6,0.6 -2.2,0.8 -2.1,0.9 -2.4,1 -2.2,1.3 -2.1,1.3 -2.5,1 -2.6,1.2 -3.1,0.9 -3.7,0.8 -3.4,0.7 -2.4,0.5 -2.2,0.1 -1.9-0.9 -0.9-1.7 M330.1,402.7l0-1.8 0.9-1.6 1.7-1.6 2.5-1.8 2.3-2 2.1-1.4 2.5-1.4 3-1.6 2.7-1.7 2.2-1.7 1.9-2 1.8-2 2.4-1.4 2.9-1.4 2.5-1.2 1.7-1.1 1.7-1.2 2.5-1.4 2.7-1.9 2.2-1.9 2.3-1.4 2.2-1.5 2-1.6 1.8-1.7 1.9-1.3 2.7-1.2 3.2-1.5 3.1-1.1 2.5-1.4 2-2.3 2.1-1.2 2.1-0.2 2-0.6 2.4-1 2.9-1.3 2.8-1.2 3.4-1.1 3.5-1.3 2.3-1.1 2.1-1 2.9-1.6 2.5-1.5 1.1,0 2.3,1.4 3.8,0.7 3.1-1.3 2-2.3 2.5-1.7 3.6-0.6 2.5,0.4 1.7,0.1 2-1.2 2.4-2.3 2.1-1.8 2,0.1 2.9,0.2 3.3,0.1 3.4,0.3 3.1,0.1 3.6,0 4.5-1.3 2.9-2.2 0.7,0.8 0.2,3.6 0.6,2 0.6,1 -1,1.9 -2.7,2.7 -2.1,2.1 -1.3,0.9 -2,0.7 -2.5,1.6 -2.4,2.4 -1.7,1 -1.4-0.2 -2.8,0.6 -3.1,2.3 -1.8,3.1 -2.2,2.5 -3.5,0.4 -3.6-0.8 -3-0.1 -2.2,1.1 -1.9,1.7 -2.6,1.5 -3.8,1.8 -3.2,1.5 -1.8,0.9 -2.1,1.1 -2.9,1.5 -2.2,0.8 -2.2,0.6 -2.1,1.6 -1.5,1.8 -2.1,1.7 -3,1.9 -2.4,1.8 -2.1,1 -2.3,0.1 -2.8-0.1 -2.6,0.4 -2.3,1.7 -3,1.4 -3.8,0.8 -3.2,0.6 -1.9,0.8 -1.7,0.6 -2.4,0.1 -3.1-0.1 -3.2,0.7 -2.9,1.7 -2.1,1.5 -2.1,1.2 -2.5,1.3 -2.6,0.8 -2.6,0.2 -2.3,0.6 -2.3,1.2 -2.5,1.5 -2,1.1 -2.3,0.6 -3.1,0.7 -3.3,1.5 -3.3,1.3 -3.2,0.7 -2.7,0.3 -2.3-0.3 -1.6-0.8 -0.6-1.4 M330.1,402.7l0.1-1.7 1-1.7 1.8-1.8 1.9-1.9 2.5-1.6 3.1-1.6 2.8-1.9 2.1-1.6 2.2-1.4 2.4-1.6 2-1.8 2-1.9 2.7-1.4 2.6-1.6 2.1-1.5 2.4-1.2 2.6-1.2 1.9-1.6 1-1.3 1.6-0.7 2.6-1.3 2.8-2.3 2.7-2.2 2.4-1.7 2.3-1.7 2-1.3 1.4-0.7 2.2-0.8 3.6-1.6 3.4-1.6 2.2-1 2.1-0.2 2.3,0.2 2-1.2 2.1-2.8 3-2.4 3.5-1.3 2.9-1 2.3-1.4 2.4-1.1 3.1-0.3 2.9-0.4 1.9-0.8 2.4-0.7 3.1-0.5 2-1.4 1.8-1.4 3.2,0.3 3.9,1.2 3.4-0.3 2.9-1.5 2.1-0.6 2,0.3 2.2-0.4 2.2-1.2 2.6-1.1 2.3-1.4 2.5-0.8 3,0.6 2.7,0.1 2.9-0.5 3.7-0.7 3.6-0.1 1.7,1.5 -0.1,2.3 -1.3,2.8 -2,3.7 -1.1,1.8 -0.9-0.2 -2.1,1.4 -2.1,1.9 -2.4,1.7 -2.5,1.2 -2.8,1.2 -2.8,1.5 -2.3,1.5 -2.7,1.2 -3.5,0 -2.8-0.2 -1.9,1.3 -2.6,1.4 -2.8,1 -2.7,1.8 -3.1,2.4 -2.8,1 -1.9,0.1 -2.3,0.9 -2.5,2 -1.7,2.2 -1,2.1 -1.7,1.1 -2.6,0.1 -2.6,1 -2.7,2.1 -2.6,1.6 -2.3,0.8 -2.4,0.6 -2.8,0.6 -3.3,0.7 -2.8,0.4 -2.3,0.7 -2.8,1.8 -2,1.2 -1.7,0.3 -2.7,0.8 -3,1.4 -2.8,1.1 -2.7,0.6 -2.7,0.6 -2.6,1 -2.6,0.6 -2.5,0.5 -2.2,0.9 -2.2,1.2 -2.3,0.9 -2,0.6 -2,0.9 -2.7,1.4 -3.4,1.8 -2.9,1.5 -2.3,0.8 -2.6,0.9 -3,1.1 -3.1,1.1 -3.4,0.7 -3.1-0.2 -2.6-0.4 -1.6-0.7 -0.8-1.6"/>
</g>
<g stroke="#262626" stroke-width="1.25" fill="none"><rect x="317.2" y="276.5" width="184.60" height="174.60"/><path d="M409.50,276.5 v2.0 M409.50,451.1 v-2.0 M317.2,363.80 h2.0 M501.8,363.80 h-2.0"/></g>
<polygon fill="#6C2CAC" points="368.3,359.0 416.0,337.6 417.7,341.3 430.8,326.6 411.1,326.7 412.7,330.3 365.1,351.8"/>
<polygon fill="#00B050" points="439.8,374.1 392.5,396.2 390.8,392.5 377.9,407.4 397.6,407.0 395.9,403.4 443.1,381.3"/>
<text transform="translate(409.30,271.50) scale(0.995,1)" font-size="13.3" text-anchor="middle" font-weight="bold" stroke="#262626" stroke-width="0.25">(d) Urea 5.0 molal</text>
<text transform="translate(312.10,282.10) scale(0.93,1)" font-size="13.7" text-anchor="end" font-weight="normal" >0.3</text>
<text transform="translate(312.10,369.20) scale(0.93,1)" font-size="13.7" text-anchor="end" font-weight="normal" >0</text>
<text transform="translate(311.80,455.90) scale(0.93,1)" font-size="13.7" text-anchor="end" font-weight="normal" >-0.3</text>
<text transform="translate(316.20,468.80) scale(0.93,1)" font-size="13.7" text-anchor="middle" font-weight="normal" >-0.3</text>
<text transform="translate(409.50,468.80) scale(0.93,1)" font-size="13.7" text-anchor="middle" font-weight="normal" >0</text>
<text transform="translate(501.80,468.80) scale(0.93,1)" font-size="13.7" text-anchor="middle" font-weight="normal" >0.3</text>
<text transform="translate(398.20,487.90) scale(1.06,1)" font-size="16">A<tspan font-size="13.5" dy="7.6" dx="-0.6">D</tspan></text>
<text transform="translate(277.60,372.90) rotate(-90)" font-size="16.5"><tspan font-style="italic" textLength="9.3" lengthAdjust="spacingAndGlyphs">γ</tspan><tspan font-size="13.5" dy="8.3" dx="-0.3">D</tspan></text>
<rect x="50.8" y="504.8" width="450.8" height="36.80000000000001" fill="#fff" stroke="#262626" stroke-width="1.2"/>
<line x1="53.5" y1="515.3" x2="78.3" y2="515.3" stroke="#0072BD" stroke-width="0.9"/>
<text x="80.80" y="520.10" font-size="14.8"><tspan font-size="16.4" textLength="11.6" lengthAdjust="spacingAndGlyphs">Δ</tspan><tspan dx="1.0">A/A = 6%</tspan></text>
<line x1="165.2" y1="515.3" x2="190.0" y2="515.3" stroke="#D95319" stroke-width="0.9"/>
<text x="192.50" y="520.10" font-size="14.8"><tspan font-size="16.4" textLength="11.6" lengthAdjust="spacingAndGlyphs">Δ</tspan><tspan dx="1.0">A/A = 9%</tspan></text>
<line x1="277.5" y1="515.3" x2="302.3" y2="515.3" stroke="#EDB120" stroke-width="0.9"/>
<text x="304.80" y="520.10" font-size="14.8"><tspan font-size="16.4" textLength="11.6" lengthAdjust="spacingAndGlyphs">Δ</tspan><tspan dx="1.0">A/A = 12%</tspan></text>
<line x1="390.0" y1="515.3" x2="414.8" y2="515.3" stroke="#7E2F8E" stroke-width="0.9"/>
<text x="417.30" y="520.10" font-size="14.8"><tspan font-size="16.4" textLength="11.6" lengthAdjust="spacingAndGlyphs">Δ</tspan><tspan dx="1.0">A/A = 15%</tspan></text>
<line x1="53.5" y1="532.5" x2="78.3" y2="532.5" stroke="#77AC30" stroke-width="0.9"/>
<text x="80.80" y="537.30" font-size="14.8"><tspan font-size="16.4" textLength="11.6" lengthAdjust="spacingAndGlyphs">Δ</tspan><tspan dx="1.0">A/A = 18%</tspan></text>
<line x1="165.2" y1="532.5" x2="190.0" y2="532.5" stroke="#4DBEEE" stroke-width="0.9"/>
<text x="192.50" y="537.30" font-size="14.8"><tspan font-size="16.4" textLength="11.6" lengthAdjust="spacingAndGlyphs">Δ</tspan><tspan dx="1.0">A/A = 21%</tspan></text>
<line x1="277.5" y1="532.5" x2="302.3" y2="532.5" stroke="#A2142F" stroke-width="0.9"/>
<text x="304.80" y="537.30" font-size="14.8"><tspan font-size="16.4" textLength="11.6" lengthAdjust="spacingAndGlyphs">Δ</tspan><tspan dx="1.0">A/A = 24%</tspan></text>
</svg>
</body></html>
